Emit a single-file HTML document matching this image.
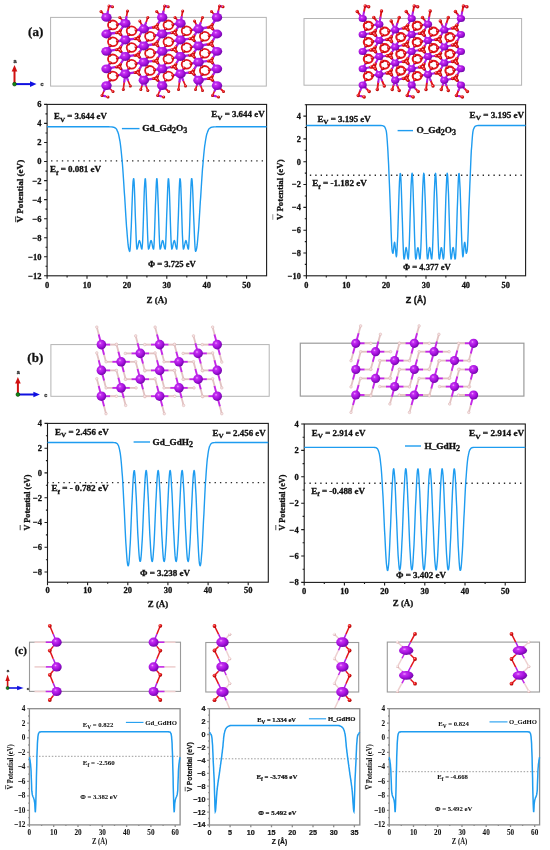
<!DOCTYPE html>
<html><head><meta charset="utf-8"><title>Potential profiles</title><style>html,body{margin:0;padding:0;background:#fff;}svg{display:block;}</style></head><body>
<svg width="550" height="850" viewBox="0 0 550 850">
<defs>
<radialGradient id="gGd" cx="0.38" cy="0.35" r="0.7"><stop offset="0" stop-color="#f4a4ff"/><stop offset="0.2" stop-color="#c430f2"/><stop offset="0.6" stop-color="#a410dc"/><stop offset="1" stop-color="#6806a0"/></radialGradient>
<radialGradient id="gO" cx="0.38" cy="0.35" r="0.7"><stop offset="0" stop-color="#ff9a9a"/><stop offset="0.4" stop-color="#e81818"/><stop offset="1" stop-color="#a00000"/></radialGradient>
<radialGradient id="gH" cx="0.38" cy="0.35" r="0.7"><stop offset="0" stop-color="#ffffff"/><stop offset="0.5" stop-color="#f3d6d6"/><stop offset="1" stop-color="#caa0a0"/></radialGradient>
</defs>
<rect width="550" height="850" fill="#fff"/>
<rect x="50.6" y="17.4" width="215.7" height="68.7" fill="none" stroke="#b4b4b4" stroke-width="1.0"/>
<rect x="304" y="18.5" width="217.6" height="66.7" fill="none" stroke="#b4b4b4" stroke-width="1.0"/>
<text x="35.7" y="35.6" font-family="'Liberation Serif', serif" font-size="13" font-weight="bold" text-anchor="middle" fill="#111" stroke="#111" stroke-width="0.3" >(a)</text>
<line x1="14.5" y1="84.1" x2="14.5" y2="70.1" stroke="#d01010" stroke-width="2"/>
<path d="M11.7 71.6 L14.5 65.1 L17.3 71.6 Z" fill="#d01010"/>
<line x1="14.5" y1="84.1" x2="31.5" y2="84.1" stroke="#1010e0" stroke-width="2"/>
<path d="M30 81.3 L36.5 84.1 L30 86.9 Z" fill="#1010e0"/>
<circle cx="14.5" cy="84.1" r="1.9" fill="#138a13" stroke="#0a3a0a" stroke-width="0.6"/>
<text x="15" y="62.6" font-family="'Liberation Sans', sans-serif" font-size="5.5" font-weight="bold" text-anchor="middle" fill="#333" stroke="#333" stroke-width="0.3" >a</text>
<text x="42" y="86.1" font-family="'Liberation Sans', sans-serif" font-size="5.5" font-weight="bold" text-anchor="middle" fill="#333" stroke="#333" stroke-width="0.3" >c</text>
<path d="M109.7 63.7L110.3 62.8 M109.3 54.7L109.8 55.3 M118.5 57.8L117.3 58 M146.8 57.8L147.3 57 M146.5 49.1L146.9 49.7 M155.6 52.3L154.5 52.5 M174 24.2L172.9 24.4 M165.2 29.5L165.7 28.7 M164.9 20.8L165.4 21.4 M155.6 35.3L154.5 35.5 M146.9 41.1L147.5 40.2 M146.5 32.2L147 32.8 M165 37.5L165.5 38.1 M174 40.9L172.9 41.1 M165.3 46.5L165.8 45.6 M164.9 72L165.4 72.6 M174 75.1L172.8 75.3 M165.3 80.8L165.8 80 M155.7 69.7L154.5 69.8 M146.9 75.2L147.5 74.3 M146.7 66L147.2 66.7 M128.1 43.4L128.5 43.9 M137.2 46.8L136 46.9 M128.3 52.1L128.9 51.3 M109.4 37.6L109.9 38.2 M118.5 41L117.3 41.1 M109.7 46.5L110.2 45.6 M137.2 63.3L136 63.5 M128.4 69L129 68.1 M128.1 60L128.6 60.6 M109.3 72L109.8 72.6 M118.5 75.1L117.3 75.3 M109.7 80.8L110.2 79.9 M201.2 32.2L201.7 32.8 M210.4 35.3L209.2 35.5 M201.6 41.1L202.2 40.2 M192.2 29.9L191 30.1 M183.5 35.5L184 34.7 M183.1 26.7L183.6 27.2 M183.4 52.1L183.9 51.3 M183.2 43.3L183.6 43.9 M192.2 46.8L191.1 46.9 M174 57.8L172.8 58 M165.3 63.7L165.9 62.8 M164.9 54.7L165.4 55.3 M128.4 35.4L128.9 34.6 M128 26.7L128.5 27.3 M137.2 30L136 30.1 M118.5 24.2L117.3 24.4 M109.6 29.5L110.2 28.7 M109.3 20.8L109.8 21.4 M210.4 52.3L209.2 52.5 M201.5 57.8L202.1 57 M201.2 49.1L201.7 49.7 M201.4 66L201.9 66.7 M210.4 69.7L209.2 69.8 M201.7 75.2L202.2 74.3 M183.2 60L183.7 60.6 M192.2 63.3L191 63.4 M183.5 69L184.1 68.1 M139.8 51.7L139.1 52.8 M140 57.7L139.3 56.9 M133.6 55.4L135.1 55.2 M139.1 52.8L139.3 56.9 M139.3 56.9L135.1 55.2 M135.1 55.2L139.1 52.8 M212.9 40.4L212.2 41.6 M213.2 46.6L212.5 45.8 M206.8 44.5L208.3 44.2 M212.2 41.6L212.5 45.8 M212.5 45.8L208.3 44.2 M208.3 44.2L212.2 41.6 M158.4 29.6L157.8 28.8 M152.1 27.5L153.5 27.3 M158.2 23.5L157.5 24.6 M157.8 28.8L153.5 27.3 M153.5 27.3L157.5 24.6 M157.5 24.6L157.8 28.8 M152.1 44.5L153.5 44.2 M158.2 40.4L157.4 41.6 M158.4 46.6L157.7 45.8 M153.5 44.2L157.4 41.6 M157.4 41.6L157.7 45.8 M157.7 45.8L153.5 44.2 M176.7 35.3L176 34.5 M170.4 33L171.8 32.8 M176.5 29.3L175.9 30.3 M176 34.5L171.8 32.8 M171.8 32.8L175.9 30.3 M175.9 30.3L176 34.5 M158.3 63.7L157.6 62.8 M152 61.2L153.5 61.1 M158.2 57.5L157.5 58.6 M157.6 62.8L153.5 61.1 M153.5 61.1L157.5 58.6 M157.5 58.6L157.6 62.8 M152 78.9L153.5 78.6 M158.2 74.9L157.5 76 M158.4 81L157.7 80.2 M153.5 78.6L157.5 76 M157.5 76L157.7 80.2 M157.7 80.2L153.5 78.6 M139.9 41.2L139.3 40.4 M133.6 38.9L135.1 38.7 M139.8 35.1L139.1 36.2 M139.3 40.4L135.1 38.7 M135.1 38.7L139.1 36.2 M139.1 36.2L139.3 40.4 M115 49.9L116.5 49.7 M121.2 46L120.5 47.1 M121.4 52L120.7 51.2 M116.5 49.7L120.5 47.1 M120.5 47.1L120.7 51.2 M120.7 51.2L116.5 49.7 M139.9 75.1L139.2 74.2 M133.6 72.7L135.1 72.5 M139.7 68.7L139 69.9 M139.2 74.2L135.1 72.5 M135.1 72.5L139 69.9 M139 69.9L139.2 74.2 M121.4 69.2L120.7 68.4 M114.9 67.2L116.5 66.9 M121.2 63L120.4 64.2 M120.7 68.4L116.5 66.9 M116.5 66.9L120.4 64.2 M120.4 64.2L120.7 68.4 M188.5 38.9L189.9 38.7 M194.6 35.1L193.9 36.1 M194.8 41.2L194.1 40.4 M189.9 38.7L193.9 36.1 M193.9 36.1L194.1 40.4 M194.1 40.4L189.9 38.7 M213.2 29.6L212.5 28.8 M206.8 27.5L208.3 27.3 M213 23.5L212.3 24.6 M212.5 28.8L208.3 27.3 M208.3 27.3L212.3 24.6 M212.3 24.6L212.5 28.8 M176.5 46L175.8 47.1 M176.7 52L176.1 51.3 M170.4 49.9L171.8 49.7 M175.8 47.1L176.1 51.3 M176.1 51.3L171.8 49.7 M171.8 49.7L175.8 47.1 M170.4 67.2L171.8 66.9 M176.5 63L175.8 64.2 M176.7 69.2L176 68.4 M171.8 66.9L175.8 64.2 M175.8 64.2L176 68.4 M176 68.4L171.8 66.9 M206.8 78.9L208.3 78.6 M213 74.9L212.3 76 M213.2 81L212.5 80.2 M208.3 78.6L212.3 76 M212.3 76L212.5 80.2 M212.5 80.2L208.3 78.6 M121.2 29.3L120.5 30.3 M121.4 35.3L120.7 34.5 M115 33L116.5 32.8 M120.5 30.3L120.7 34.5 M120.7 34.5L116.5 32.8 M116.5 32.8L120.5 30.3 M213.1 63.7L212.4 62.8 M206.8 61.2L208.3 61.1 M213 57.5L212.3 58.6 M212.4 62.8L208.3 61.1 M208.3 61.1L212.3 58.6 M212.3 58.6L212.4 62.8 M194.8 57.7L194.2 56.9 M188.5 55.4L189.9 55.2 M194.6 51.7L194 52.7 M194.2 56.9L189.9 55.2 M189.9 55.2L194 52.7 M194 52.7L194.2 56.9 M194.5 68.7L193.8 69.9 M194.7 75.1L194 74.2 M188.5 72.7L189.9 72.5 M193.8 69.9L194 74.2 M194 74.2L189.9 72.5 M189.9 72.5L193.8 69.9 M103.8 14.4L101 11.5 M107.8 11.7L109 6 M110.8 6.4L112.5 6.8 M126.4 17.2L127.5 11 M122.5 20.4L119.8 17.5 M145.8 23.2L147.8 17.5 M141.8 25L139.8 21 M159.4 14.4L156.7 11.5 M163.4 11.7L164.7 6 M166.4 6.4L168.2 6.8 M181.6 17.2L182.7 11 M177.8 20.4L175 17.5 M200.5 23.2L202.5 17.5 M196.5 25L194.5 21 M214.2 14.4L211.5 11.5 M218.2 11.7L219.5 6 M221.2 6.4L223 6.8 M109.8 88.5L113 91.5 M104.2 90.5L102 95.5 M105 96.2L108 97 M124.3 81.7L123.3 89.5 M127.8 80L130.3 86 M142.3 84.8L140.8 89.5 M145.8 85.3L147.8 90.5 M165.4 88.5L168.7 91.5 M159.9 90.5L157.7 95.5 M160.7 96.2L163.7 97 M179.5 81.7L178.5 89.5 M183 80L185.5 86 M197 84.8L195.5 89.5 M200.5 85.3L202.5 90.5 M220.2 88.5L223.5 91.5 M214.8 90.5L212.5 95.5 M215.5 96.2L218.5 97" stroke="#e3141c" stroke-width="1.7" fill="none" stroke-linecap="round"/>
<ellipse cx="112.8" cy="58.9" rx="4.8" ry="4.4" fill="none" stroke="#e3141c" stroke-width="1.8"/>
<ellipse cx="149.9" cy="53.2" rx="4.8" ry="4.4" fill="none" stroke="#e3141c" stroke-width="1.8"/>
<ellipse cx="168.3" cy="24.9" rx="4.8" ry="4.4" fill="none" stroke="#e3141c" stroke-width="1.8"/>
<ellipse cx="149.9" cy="36.3" rx="4.8" ry="4.4" fill="none" stroke="#e3141c" stroke-width="1.8"/>
<ellipse cx="168.3" cy="41.8" rx="4.8" ry="4.4" fill="none" stroke="#e3141c" stroke-width="1.8"/>
<ellipse cx="168.3" cy="76.1" rx="4.8" ry="4.4" fill="none" stroke="#e3141c" stroke-width="1.8"/>
<ellipse cx="149.9" cy="70.4" rx="4.8" ry="4.4" fill="none" stroke="#e3141c" stroke-width="1.8"/>
<ellipse cx="131.5" cy="47.5" rx="4.8" ry="4.4" fill="none" stroke="#e3141c" stroke-width="1.8"/>
<ellipse cx="112.8" cy="41.8" rx="4.8" ry="4.4" fill="none" stroke="#e3141c" stroke-width="1.8"/>
<ellipse cx="131.5" cy="64.2" rx="4.8" ry="4.4" fill="none" stroke="#e3141c" stroke-width="1.8"/>
<ellipse cx="112.8" cy="76.1" rx="4.8" ry="4.4" fill="none" stroke="#e3141c" stroke-width="1.8"/>
<ellipse cx="204.7" cy="36.3" rx="4.8" ry="4.4" fill="none" stroke="#e3141c" stroke-width="1.8"/>
<ellipse cx="186.5" cy="30.8" rx="4.8" ry="4.4" fill="none" stroke="#e3141c" stroke-width="1.8"/>
<ellipse cx="186.5" cy="47.5" rx="4.8" ry="4.4" fill="none" stroke="#e3141c" stroke-width="1.8"/>
<ellipse cx="168.3" cy="58.9" rx="4.8" ry="4.4" fill="none" stroke="#e3141c" stroke-width="1.8"/>
<ellipse cx="131.5" cy="30.8" rx="4.8" ry="4.4" fill="none" stroke="#e3141c" stroke-width="1.8"/>
<ellipse cx="112.8" cy="24.9" rx="4.8" ry="4.4" fill="none" stroke="#e3141c" stroke-width="1.8"/>
<ellipse cx="204.7" cy="53.2" rx="4.8" ry="4.4" fill="none" stroke="#e3141c" stroke-width="1.8"/>
<ellipse cx="204.7" cy="70.4" rx="4.8" ry="4.4" fill="none" stroke="#e3141c" stroke-width="1.8"/>
<ellipse cx="186.5" cy="64.2" rx="4.8" ry="4.4" fill="none" stroke="#e3141c" stroke-width="1.8"/>
<path d="M106.5 68.8L109.7 63.7 M106.5 51.3L109.3 54.7 M125.3 56.5L118.5 57.8 M143.8 62.2L146.8 57.8 M143.8 46L146.5 49.1 M162.2 51.3L155.6 52.3 M180.5 23.4L174 24.2 M162.2 34L165.2 29.5 M162.2 17.4L164.9 20.8 M162.2 34L155.6 35.3 M143.8 46L146.9 41.1 M143.8 29L146.5 32.2 M162.2 34L165 37.5 M180.5 40L174 40.9 M162.2 51.3L165.3 46.5 M162.2 68.8L164.9 72 M180.5 73.9L174 75.1 M162.2 85.6L165.3 80.8 M162.2 68.8L155.7 69.7 M143.8 80.2L146.9 75.2 M143.8 62.2L146.7 66 M125.3 40L128.1 43.4 M143.8 46L137.2 46.8 M125.3 56.5L128.3 52.1 M106.5 34L109.4 37.6 M125.3 40L118.5 41 M106.5 51.3L109.7 46.5 M143.8 62.2L137.2 63.3 M125.3 73.9L128.4 69 M125.3 56.5L128.1 60 M106.5 68.8L109.3 72 M125.3 73.9L118.5 75.1 M106.5 85.6L109.7 80.8 M198.5 29L201.2 32.2 M217 34L210.4 35.3 M198.5 46L201.6 41.1 M198.5 29L192.2 29.9 M180.5 40L183.5 35.5 M180.5 23.4L183.1 26.7 M180.5 56.5L183.4 52.1 M180.5 40L183.2 43.3 M198.5 46L192.2 46.8 M180.5 56.5L174 57.8 M162.2 68.8L165.3 63.7 M162.2 51.3L164.9 54.7 M125.3 40L128.4 35.4 M125.3 23.4L128 26.7 M143.8 29L137.2 30 M125.3 23.4L118.5 24.2 M106.5 34L109.6 29.5 M106.5 17.4L109.3 20.8 M217 51.3L210.4 52.3 M198.5 62.2L201.5 57.8 M198.5 46L201.2 49.1 M198.5 62.2L201.4 66 M217 68.8L210.4 69.7 M198.5 80.2L201.7 75.2 M180.5 56.5L183.2 60 M198.5 62.2L192.2 63.3 M180.5 73.9L183.5 69 M143.8 46L139.8 51.7 M143.8 62.2L140 57.7 M125.3 56.5L133.6 55.4 M217 34L212.9 40.4 M217 51.3L213.2 46.6 M198.5 46L206.8 44.5 M162.2 34L158.4 29.6 M143.8 29L152.1 27.5 M162.2 17.4L158.2 23.5 M143.8 46L152.1 44.5 M162.2 34L158.2 40.4 M162.2 51.3L158.4 46.6 M180.5 40L176.7 35.3 M162.2 34L170.4 33 M180.5 23.4L176.5 29.3 M162.2 68.8L158.3 63.7 M143.8 62.2L152 61.2 M162.2 51.3L158.2 57.5 M143.8 80.2L152 78.9 M162.2 68.8L158.2 74.9 M162.2 85.6L158.4 81 M143.8 46L139.9 41.2 M125.3 40L133.6 38.9 M143.8 29L139.8 35.1 M106.5 51.3L115 49.9 M125.3 40L121.2 46 M125.3 56.5L121.4 52 M143.8 80.2L139.9 75.1 M125.3 73.9L133.6 72.7 M143.8 62.2L139.7 68.7 M125.3 73.9L121.4 69.2 M106.5 68.8L114.9 67.2 M125.3 56.5L121.2 63 M180.5 40L188.5 38.9 M198.5 29L194.6 35.1 M198.5 46L194.8 41.2 M217 34L213.2 29.6 M198.5 29L206.8 27.5 M217 17.4L213 23.5 M180.5 40L176.5 46 M180.5 56.5L176.7 52 M162.2 51.3L170.4 49.9 M162.2 68.8L170.4 67.2 M180.5 56.5L176.5 63 M180.5 73.9L176.7 69.2 M198.5 80.2L206.8 78.9 M217 68.8L213 74.9 M217 85.6L213.2 81 M125.3 23.4L121.2 29.3 M125.3 40L121.4 35.3 M106.5 34L115 33 M217 68.8L213.1 63.7 M198.5 62.2L206.8 61.2 M217 51.3L213 57.5 M198.5 62.2L194.8 57.7 M180.5 56.5L188.5 55.4 M198.5 46L194.6 51.7 M198.5 62.2L194.5 68.7 M198.5 80.2L194.7 75.1 M180.5 73.9L188.5 72.7 M106.5 17.4L103.8 14.4 M106.5 17.4L107.8 11.7 M109 6L110.8 6.4 M125.3 23.4L126.4 17.2 M125.3 23.4L122.5 20.4 M143.8 29L145.8 23.2 M143.8 29L141.8 25 M162.2 17.4L159.4 14.4 M162.2 17.4L163.4 11.7 M164.7 6L166.4 6.4 M180.5 23.4L181.6 17.2 M180.5 23.4L177.8 20.4 M198.5 29L200.5 23.2 M198.5 29L196.5 25 M217 17.4L214.2 14.4 M217 17.4L218.2 11.7 M219.5 6L221.2 6.4 M106.5 85.6L109.8 88.5 M106.5 85.6L104.2 90.5 M102 95.5L105 96.2 M125.3 73.9L124.3 81.7 M125.3 73.9L127.8 80 M143.8 80.2L142.3 84.8 M143.8 80.2L145.8 85.3 M162.2 85.6L165.4 88.5 M162.2 85.6L159.9 90.5 M157.7 95.5L160.7 96.2 M180.5 73.9L179.5 81.7 M180.5 73.9L183 80 M198.5 80.2L197 84.8 M198.5 80.2L200.5 85.3 M217 85.6L220.2 88.5 M217 85.6L214.8 90.5 M212.5 95.5L215.5 96.2" stroke="#b01ee6" stroke-width="2.3" fill="none" stroke-linecap="round"/>
<circle cx="110.3" cy="62.8" r="1.5" fill="url(#gO)"/>
<circle cx="109.8" cy="55.3" r="1.5" fill="url(#gO)"/>
<circle cx="117.3" cy="58" r="1.5" fill="url(#gO)"/>
<circle cx="147.3" cy="57" r="1.5" fill="url(#gO)"/>
<circle cx="146.9" cy="49.7" r="1.5" fill="url(#gO)"/>
<circle cx="154.5" cy="52.5" r="1.5" fill="url(#gO)"/>
<circle cx="172.9" cy="24.4" r="1.5" fill="url(#gO)"/>
<circle cx="165.7" cy="28.7" r="1.5" fill="url(#gO)"/>
<circle cx="165.4" cy="21.4" r="1.5" fill="url(#gO)"/>
<circle cx="154.5" cy="35.5" r="1.5" fill="url(#gO)"/>
<circle cx="147.5" cy="40.2" r="1.5" fill="url(#gO)"/>
<circle cx="147" cy="32.8" r="1.5" fill="url(#gO)"/>
<circle cx="165.5" cy="38.1" r="1.5" fill="url(#gO)"/>
<circle cx="172.9" cy="41.1" r="1.5" fill="url(#gO)"/>
<circle cx="165.8" cy="45.6" r="1.5" fill="url(#gO)"/>
<circle cx="165.4" cy="72.6" r="1.5" fill="url(#gO)"/>
<circle cx="172.8" cy="75.3" r="1.5" fill="url(#gO)"/>
<circle cx="165.8" cy="80" r="1.5" fill="url(#gO)"/>
<circle cx="154.5" cy="69.8" r="1.5" fill="url(#gO)"/>
<circle cx="147.5" cy="74.3" r="1.5" fill="url(#gO)"/>
<circle cx="147.2" cy="66.7" r="1.5" fill="url(#gO)"/>
<circle cx="128.5" cy="43.9" r="1.5" fill="url(#gO)"/>
<circle cx="136" cy="46.9" r="1.5" fill="url(#gO)"/>
<circle cx="128.9" cy="51.3" r="1.5" fill="url(#gO)"/>
<circle cx="109.9" cy="38.2" r="1.5" fill="url(#gO)"/>
<circle cx="117.3" cy="41.1" r="1.5" fill="url(#gO)"/>
<circle cx="110.2" cy="45.6" r="1.5" fill="url(#gO)"/>
<circle cx="136" cy="63.5" r="1.5" fill="url(#gO)"/>
<circle cx="129" cy="68.1" r="1.5" fill="url(#gO)"/>
<circle cx="128.6" cy="60.6" r="1.5" fill="url(#gO)"/>
<circle cx="109.8" cy="72.6" r="1.5" fill="url(#gO)"/>
<circle cx="117.3" cy="75.3" r="1.5" fill="url(#gO)"/>
<circle cx="110.2" cy="79.9" r="1.5" fill="url(#gO)"/>
<circle cx="201.7" cy="32.8" r="1.5" fill="url(#gO)"/>
<circle cx="209.2" cy="35.5" r="1.5" fill="url(#gO)"/>
<circle cx="202.2" cy="40.2" r="1.5" fill="url(#gO)"/>
<circle cx="191" cy="30.1" r="1.5" fill="url(#gO)"/>
<circle cx="184" cy="34.7" r="1.5" fill="url(#gO)"/>
<circle cx="183.6" cy="27.2" r="1.5" fill="url(#gO)"/>
<circle cx="183.9" cy="51.3" r="1.5" fill="url(#gO)"/>
<circle cx="183.6" cy="43.9" r="1.5" fill="url(#gO)"/>
<circle cx="191.1" cy="46.9" r="1.5" fill="url(#gO)"/>
<circle cx="172.8" cy="58" r="1.5" fill="url(#gO)"/>
<circle cx="165.9" cy="62.8" r="1.5" fill="url(#gO)"/>
<circle cx="165.4" cy="55.3" r="1.5" fill="url(#gO)"/>
<circle cx="128.9" cy="34.6" r="1.5" fill="url(#gO)"/>
<circle cx="128.5" cy="27.3" r="1.5" fill="url(#gO)"/>
<circle cx="136" cy="30.1" r="1.5" fill="url(#gO)"/>
<circle cx="117.3" cy="24.4" r="1.5" fill="url(#gO)"/>
<circle cx="110.2" cy="28.7" r="1.5" fill="url(#gO)"/>
<circle cx="109.8" cy="21.4" r="1.5" fill="url(#gO)"/>
<circle cx="209.2" cy="52.5" r="1.5" fill="url(#gO)"/>
<circle cx="202.1" cy="57" r="1.5" fill="url(#gO)"/>
<circle cx="201.7" cy="49.7" r="1.5" fill="url(#gO)"/>
<circle cx="201.9" cy="66.7" r="1.5" fill="url(#gO)"/>
<circle cx="209.2" cy="69.8" r="1.5" fill="url(#gO)"/>
<circle cx="202.2" cy="74.3" r="1.5" fill="url(#gO)"/>
<circle cx="183.7" cy="60.6" r="1.5" fill="url(#gO)"/>
<circle cx="191" cy="63.4" r="1.5" fill="url(#gO)"/>
<circle cx="184.1" cy="68.1" r="1.5" fill="url(#gO)"/>
<circle cx="139.1" cy="52.8" r="1.5" fill="url(#gO)"/>
<circle cx="139.3" cy="56.9" r="1.5" fill="url(#gO)"/>
<circle cx="135.1" cy="55.2" r="1.5" fill="url(#gO)"/>
<circle cx="212.2" cy="41.6" r="1.5" fill="url(#gO)"/>
<circle cx="212.5" cy="45.8" r="1.5" fill="url(#gO)"/>
<circle cx="208.3" cy="44.2" r="1.5" fill="url(#gO)"/>
<circle cx="157.8" cy="28.8" r="1.5" fill="url(#gO)"/>
<circle cx="153.5" cy="27.3" r="1.5" fill="url(#gO)"/>
<circle cx="157.5" cy="24.6" r="1.5" fill="url(#gO)"/>
<circle cx="153.5" cy="44.2" r="1.5" fill="url(#gO)"/>
<circle cx="157.4" cy="41.6" r="1.5" fill="url(#gO)"/>
<circle cx="157.7" cy="45.8" r="1.5" fill="url(#gO)"/>
<circle cx="176" cy="34.5" r="1.5" fill="url(#gO)"/>
<circle cx="171.8" cy="32.8" r="1.5" fill="url(#gO)"/>
<circle cx="175.9" cy="30.3" r="1.5" fill="url(#gO)"/>
<circle cx="157.6" cy="62.8" r="1.5" fill="url(#gO)"/>
<circle cx="153.5" cy="61.1" r="1.5" fill="url(#gO)"/>
<circle cx="157.5" cy="58.6" r="1.5" fill="url(#gO)"/>
<circle cx="153.5" cy="78.6" r="1.5" fill="url(#gO)"/>
<circle cx="157.5" cy="76" r="1.5" fill="url(#gO)"/>
<circle cx="157.7" cy="80.2" r="1.5" fill="url(#gO)"/>
<circle cx="139.3" cy="40.4" r="1.5" fill="url(#gO)"/>
<circle cx="135.1" cy="38.7" r="1.5" fill="url(#gO)"/>
<circle cx="139.1" cy="36.2" r="1.5" fill="url(#gO)"/>
<circle cx="116.5" cy="49.7" r="1.5" fill="url(#gO)"/>
<circle cx="120.5" cy="47.1" r="1.5" fill="url(#gO)"/>
<circle cx="120.7" cy="51.2" r="1.5" fill="url(#gO)"/>
<circle cx="139.2" cy="74.2" r="1.5" fill="url(#gO)"/>
<circle cx="135.1" cy="72.5" r="1.5" fill="url(#gO)"/>
<circle cx="139" cy="69.9" r="1.5" fill="url(#gO)"/>
<circle cx="120.7" cy="68.4" r="1.5" fill="url(#gO)"/>
<circle cx="116.5" cy="66.9" r="1.5" fill="url(#gO)"/>
<circle cx="120.4" cy="64.2" r="1.5" fill="url(#gO)"/>
<circle cx="189.9" cy="38.7" r="1.5" fill="url(#gO)"/>
<circle cx="193.9" cy="36.1" r="1.5" fill="url(#gO)"/>
<circle cx="194.1" cy="40.4" r="1.5" fill="url(#gO)"/>
<circle cx="212.5" cy="28.8" r="1.5" fill="url(#gO)"/>
<circle cx="208.3" cy="27.3" r="1.5" fill="url(#gO)"/>
<circle cx="212.3" cy="24.6" r="1.5" fill="url(#gO)"/>
<circle cx="175.8" cy="47.1" r="1.5" fill="url(#gO)"/>
<circle cx="176.1" cy="51.3" r="1.5" fill="url(#gO)"/>
<circle cx="171.8" cy="49.7" r="1.5" fill="url(#gO)"/>
<circle cx="171.8" cy="66.9" r="1.5" fill="url(#gO)"/>
<circle cx="175.8" cy="64.2" r="1.5" fill="url(#gO)"/>
<circle cx="176" cy="68.4" r="1.5" fill="url(#gO)"/>
<circle cx="208.3" cy="78.6" r="1.5" fill="url(#gO)"/>
<circle cx="212.3" cy="76" r="1.5" fill="url(#gO)"/>
<circle cx="212.5" cy="80.2" r="1.5" fill="url(#gO)"/>
<circle cx="120.5" cy="30.3" r="1.5" fill="url(#gO)"/>
<circle cx="120.7" cy="34.5" r="1.5" fill="url(#gO)"/>
<circle cx="116.5" cy="32.8" r="1.5" fill="url(#gO)"/>
<circle cx="212.4" cy="62.8" r="1.5" fill="url(#gO)"/>
<circle cx="208.3" cy="61.1" r="1.5" fill="url(#gO)"/>
<circle cx="212.3" cy="58.6" r="1.5" fill="url(#gO)"/>
<circle cx="194.2" cy="56.9" r="1.5" fill="url(#gO)"/>
<circle cx="189.9" cy="55.2" r="1.5" fill="url(#gO)"/>
<circle cx="194" cy="52.7" r="1.5" fill="url(#gO)"/>
<circle cx="193.8" cy="69.9" r="1.5" fill="url(#gO)"/>
<circle cx="194" cy="74.2" r="1.5" fill="url(#gO)"/>
<circle cx="189.9" cy="72.5" r="1.5" fill="url(#gO)"/>
<circle cx="101" cy="11.5" r="1.5" fill="url(#gO)"/>
<circle cx="109" cy="6" r="1.5" fill="url(#gO)"/>
<circle cx="112.5" cy="6.8" r="1.5" fill="url(#gO)"/>
<circle cx="127.5" cy="11" r="1.5" fill="url(#gO)"/>
<circle cx="119.8" cy="17.5" r="1.5" fill="url(#gO)"/>
<circle cx="147.8" cy="17.5" r="1.5" fill="url(#gO)"/>
<circle cx="139.8" cy="21" r="1.5" fill="url(#gO)"/>
<circle cx="156.7" cy="11.5" r="1.5" fill="url(#gO)"/>
<circle cx="164.7" cy="6" r="1.5" fill="url(#gO)"/>
<circle cx="168.2" cy="6.8" r="1.5" fill="url(#gO)"/>
<circle cx="182.7" cy="11" r="1.5" fill="url(#gO)"/>
<circle cx="175" cy="17.5" r="1.5" fill="url(#gO)"/>
<circle cx="202.5" cy="17.5" r="1.5" fill="url(#gO)"/>
<circle cx="194.5" cy="21" r="1.5" fill="url(#gO)"/>
<circle cx="211.5" cy="11.5" r="1.5" fill="url(#gO)"/>
<circle cx="219.5" cy="6" r="1.5" fill="url(#gO)"/>
<circle cx="223" cy="6.8" r="1.5" fill="url(#gO)"/>
<circle cx="113" cy="91.5" r="1.5" fill="url(#gO)"/>
<circle cx="102" cy="95.5" r="1.5" fill="url(#gO)"/>
<circle cx="108" cy="97" r="1.5" fill="url(#gO)"/>
<circle cx="123.3" cy="89.5" r="1.5" fill="url(#gO)"/>
<circle cx="130.3" cy="86" r="1.5" fill="url(#gO)"/>
<circle cx="140.8" cy="89.5" r="1.5" fill="url(#gO)"/>
<circle cx="147.8" cy="90.5" r="1.5" fill="url(#gO)"/>
<circle cx="168.7" cy="91.5" r="1.5" fill="url(#gO)"/>
<circle cx="157.7" cy="95.5" r="1.5" fill="url(#gO)"/>
<circle cx="163.7" cy="97" r="1.5" fill="url(#gO)"/>
<circle cx="178.5" cy="89.5" r="1.5" fill="url(#gO)"/>
<circle cx="185.5" cy="86" r="1.5" fill="url(#gO)"/>
<circle cx="195.5" cy="89.5" r="1.5" fill="url(#gO)"/>
<circle cx="202.5" cy="90.5" r="1.5" fill="url(#gO)"/>
<circle cx="223.5" cy="91.5" r="1.5" fill="url(#gO)"/>
<circle cx="212.5" cy="95.5" r="1.5" fill="url(#gO)"/>
<circle cx="218.5" cy="97" r="1.5" fill="url(#gO)"/>
<ellipse cx="106.5" cy="17.4" rx="5.2" ry="4.4" fill="url(#gGd)"/>
<ellipse cx="106.5" cy="34" rx="5.2" ry="4.4" fill="url(#gGd)"/>
<ellipse cx="106.5" cy="51.3" rx="5.2" ry="4.4" fill="url(#gGd)"/>
<ellipse cx="106.5" cy="68.8" rx="5.2" ry="4.4" fill="url(#gGd)"/>
<ellipse cx="106.5" cy="85.6" rx="5.2" ry="4.4" fill="url(#gGd)"/>
<ellipse cx="125.3" cy="23.4" rx="5.2" ry="4.4" fill="url(#gGd)"/>
<ellipse cx="125.3" cy="40" rx="5.2" ry="4.4" fill="url(#gGd)"/>
<ellipse cx="125.3" cy="56.5" rx="5.2" ry="4.4" fill="url(#gGd)"/>
<ellipse cx="125.3" cy="73.9" rx="5.2" ry="4.4" fill="url(#gGd)"/>
<ellipse cx="143.8" cy="29" rx="5.2" ry="4.4" fill="url(#gGd)"/>
<ellipse cx="143.8" cy="46" rx="5.2" ry="4.4" fill="url(#gGd)"/>
<ellipse cx="143.8" cy="62.2" rx="5.2" ry="4.4" fill="url(#gGd)"/>
<ellipse cx="143.8" cy="80.2" rx="5.2" ry="4.4" fill="url(#gGd)"/>
<ellipse cx="162.2" cy="17.4" rx="5.2" ry="4.4" fill="url(#gGd)"/>
<ellipse cx="162.2" cy="34" rx="5.2" ry="4.4" fill="url(#gGd)"/>
<ellipse cx="162.2" cy="51.3" rx="5.2" ry="4.4" fill="url(#gGd)"/>
<ellipse cx="162.2" cy="68.8" rx="5.2" ry="4.4" fill="url(#gGd)"/>
<ellipse cx="162.2" cy="85.6" rx="5.2" ry="4.4" fill="url(#gGd)"/>
<ellipse cx="180.5" cy="23.4" rx="5.2" ry="4.4" fill="url(#gGd)"/>
<ellipse cx="180.5" cy="40" rx="5.2" ry="4.4" fill="url(#gGd)"/>
<ellipse cx="180.5" cy="56.5" rx="5.2" ry="4.4" fill="url(#gGd)"/>
<ellipse cx="180.5" cy="73.9" rx="5.2" ry="4.4" fill="url(#gGd)"/>
<ellipse cx="198.5" cy="29" rx="5.2" ry="4.4" fill="url(#gGd)"/>
<ellipse cx="198.5" cy="46" rx="5.2" ry="4.4" fill="url(#gGd)"/>
<ellipse cx="198.5" cy="62.2" rx="5.2" ry="4.4" fill="url(#gGd)"/>
<ellipse cx="198.5" cy="80.2" rx="5.2" ry="4.4" fill="url(#gGd)"/>
<ellipse cx="217" cy="17.4" rx="5.2" ry="4.4" fill="url(#gGd)"/>
<ellipse cx="217" cy="34" rx="5.2" ry="4.4" fill="url(#gGd)"/>
<ellipse cx="217" cy="51.3" rx="5.2" ry="4.4" fill="url(#gGd)"/>
<ellipse cx="217" cy="68.8" rx="5.2" ry="4.4" fill="url(#gGd)"/>
<ellipse cx="217" cy="85.6" rx="5.2" ry="4.4" fill="url(#gGd)"/>
<path d="M365.6 63.5L366.2 62.6 M365.3 55L365.7 55.6 M373.4 57.8L372.3 58.1 M398 58.3L398.5 57.5 M397.6 50.1L398.1 50.6 M405.8 52.8L404.8 53 M414.2 72.1L414.6 72.7 M422.3 75.3L421.3 75.4 M414.5 80.4L415 79.6 M405.9 69.7L404.8 69.9 M398.1 75.2L398.6 74.3 M397.8 66.6L398.2 67.2 M373.4 25L372.4 25.1 M365.5 30L366 29.2 M365.2 21.7L365.7 22.3 M381.8 44L382.2 44.6 M389.7 47.6L388.8 47.7 M381.9 52.4L382.4 51.6 M382 36L382.5 35.1 M381.7 27.5L382.1 28.1 M389.7 30.7L388.8 30.9 M365.3 38.1L365.8 38.7 M373.4 41.4L372.4 41.5 M365.6 46.6L366.1 45.7 M389.7 63.9L388.7 64 M382.1 69.3L382.6 68.4 M381.8 60.5L382.3 61.2 M365.3 72.1L365.7 72.7 M373.4 75.3L372.4 75.4 M365.5 80.4L366 79.6 M446.8 33.2L447.3 33.8 M455 35.9L453.9 36.1 M447.3 41.7L447.8 40.8 M438.6 30.8L437.6 30.9 M430.8 35.9L431.3 35.1 M430.5 27.6L430.9 28.2 M430.7 52.4L431.2 51.6 M430.5 44L431 44.7 M438.6 47.6L437.6 47.7 M422.3 57.8L421.2 58.1 M414.6 63.5L415.1 62.6 M414.2 54.9L414.7 55.5 M414.3 38.1L414.7 38.7 M422.3 41.4L421.3 41.5 M414.5 46.6L415 45.8 M422.3 25L421.3 25.1 M414.4 30L414.9 29.2 M414.2 21.7L414.6 22.3 M405.8 35.9L404.8 36.1 M398.2 41.8L398.7 40.8 M397.7 33.2L398.2 33.8 M455 52.8L453.9 53 M447.2 58.3L447.7 57.5 M446.7 50.1L447.2 50.6 M446.9 66.6L447.4 67.2 M455 69.7L454 69.9 M447.2 75.2L447.7 74.3 M430.6 60.5L431.1 61.2 M438.6 63.9L437.6 64 M430.9 69.2L431.4 68.3 M392 52.3L391.4 53.2 M392.1 58.6L391.5 57.8 M385.9 56L387.1 55.8 M391.4 53.2L391.5 57.8 M391.5 57.8L387.1 55.8 M387.1 55.8L391.4 53.2 M457.6 40.3L456.7 41.9 M457.7 47.3L457.1 46.5 M450.9 45.5L452.7 45 M456.7 41.9L457.1 46.5 M457.1 46.5L452.7 45 M452.7 45L456.7 41.9 M408.4 64.1L407.8 63.3 M401.9 61.8L403.4 61.6 M408.3 57.4L407.6 58.6 M407.8 63.3L403.4 61.6 M403.4 61.6L407.6 58.6 M407.6 58.6L407.8 63.3 M401.9 78.8L403.5 78.5 M408.2 74.5L407.6 75.6 M408.5 80.9L407.9 80.2 M403.5 78.5L407.6 75.6 M407.6 75.6L407.9 80.2 M407.9 80.2L403.5 78.5 M376 36.1L375.4 35.3 M369.4 33.6L371 33.4 M375.9 29.7L375.3 30.7 M375.4 35.3L371 33.4 M371 33.4L375.3 30.7 M375.3 30.7L375.4 35.3 M392 42.3L391.5 41.5 M385.9 39.7L387.1 39.5 M391.9 35.7L391.3 36.7 M391.5 41.5L387.1 39.5 M387.1 39.5L391.3 36.7 M391.3 36.7L391.5 41.5 M369.4 50.3L371 50 M375.8 46.1L375.2 47.1 M376.1 52.5L375.5 51.7 M371 50L375.2 47.1 M375.2 47.1L375.5 51.7 M375.5 51.7L371 50 M392 75.6L391.5 74.8 M386 73.2L387.1 73 M391.9 68.9L391.3 70.1 M391.5 74.8L387.1 73 M387.1 73L391.3 70.1 M391.3 70.1L391.5 74.8 M376 69.7L375.4 68.9 M369.4 67.4L371 67.1 M376 62.5L375.1 64.1 M375.4 68.9L371 67.1 M371 67.1L375.1 64.1 M375.1 64.1L375.4 68.9 M434.7 39.7L436.1 39.5 M440.9 35.7L440.3 36.8 M441 42.3L440.4 41.5 M436.1 39.5L440.3 36.8 M440.3 36.8L440.4 41.5 M440.4 41.5L436.1 39.5 M457.7 30.4L457.1 29.7 M451 28.5L452.6 28.1 M457.4 24.2L456.8 25.2 M457.1 29.7L452.6 28.1 M452.6 28.1L456.8 25.2 M456.8 25.2L457.1 29.7 M424.6 46.1L424 47.1 M424.8 52.5L424.3 51.8 M418.4 50.3L419.8 50 M424 47.1L424.3 51.8 M424.3 51.8L419.8 50 M419.8 50L424 47.1 M418.4 67.4L419.8 67.1 M424.7 62.6L423.9 64.1 M424.7 69.7L424.2 68.9 M419.8 67.1L423.9 64.1 M423.9 64.1L424.2 68.9 M424.2 68.9L419.8 67.1 M408.5 30.4L408 29.7 M401.9 28.5L403.5 28.1 M408.2 24.2L407.6 25.2 M408 29.7L403.5 28.1 M403.5 28.1L407.6 25.2 M407.6 25.2L408 29.7 M424.8 36.1L424.2 35.3 M418.4 33.6L419.8 33.4 M424.6 29.7L424 30.6 M424.2 35.3L419.8 33.4 M419.8 33.4L424 30.6 M424 30.6L424.2 35.3 M401.8 45.4L403.5 45 M408.4 40.3L407.6 41.9 M408.5 47.3L407.9 46.6 M403.5 45L407.6 41.9 M407.6 41.9L407.9 46.6 M407.9 46.6L403.5 45 M451 78.9L452.6 78.5 M457.4 74.5L456.8 75.6 M457.7 80.9L457.1 80.2 M452.6 78.5L456.8 75.6 M456.8 75.6L457.1 80.2 M457.1 80.2L452.6 78.5 M457.6 64.1L457 63.3 M451 61.8L452.6 61.5 M457.5 57.4L456.8 58.6 M457 63.3L452.6 61.5 M452.6 61.5L456.8 58.6 M456.8 58.6L457 63.3 M441.1 58.6L440.5 57.8 M434.8 56L436.1 55.8 M441 52.3L440.4 53.2 M440.5 57.8L436.1 55.8 M436.1 55.8L440.4 53.2 M440.4 53.2L440.5 57.8 M440.9 68.9L440.3 70.1 M441.1 75.6L440.5 74.8 M434.7 73.2L436.1 73 M440.3 70.1L440.5 74.8 M440.5 74.8L436.1 73 M436.1 73L440.3 70.1 M359.9 14.9L357.2 11.5 M363.9 12.2L365.2 6 M366.9 6.4L368.7 6.8 M380.4 17.6L381.5 11 M376.6 20.9L373.8 17.5 M397.2 23.7L399.2 17.5 M393.2 25.4L391.2 21 M408.9 14.9L406.2 11.5 M412.9 12.2L414.2 6 M415.9 6.4L417.7 6.8 M429.1 17.6L430.2 11 M425.2 20.9L422.5 17.5 M446.3 23.7L448.3 17.5 M442.3 25.4L440.3 21 M458.1 14.9L455.4 11.5 M462.1 12.2L463.4 6 M465.1 6.4L466.9 6.8 M365.9 88.2L369.2 91.5 M360.4 90.2L358.2 95.5 M361.2 96.2L364.2 97 M378.3 82L377.3 89.5 M381.8 80.2L384.3 86 M393.7 84.8L392.2 89.5 M397.2 85.3L399.2 90.5 M414.9 88.2L418.2 91.5 M409.4 90.2L407.2 95.5 M410.2 96.2L413.2 97 M427 82L426 89.5 M430.5 80.2L433 86 M442.8 84.8L441.3 89.5 M446.3 85.3L448.3 90.5 M464.1 88.2L467.4 91.5 M458.6 90.2L456.4 95.5 M459.4 96.2L462.4 97" stroke="#e3141c" stroke-width="1.9" fill="none" stroke-linecap="round"/>
<ellipse cx="368.2" cy="58.9" rx="4.4" ry="4" fill="none" stroke="#e3141c" stroke-width="2.1"/>
<ellipse cx="400.7" cy="53.9" rx="4.4" ry="4" fill="none" stroke="#e3141c" stroke-width="2.1"/>
<ellipse cx="417.1" cy="76" rx="4.4" ry="4" fill="none" stroke="#e3141c" stroke-width="2.1"/>
<ellipse cx="400.7" cy="70.6" rx="4.4" ry="4" fill="none" stroke="#e3141c" stroke-width="2.1"/>
<ellipse cx="368.2" cy="25.7" rx="4.4" ry="4" fill="none" stroke="#e3141c" stroke-width="2.1"/>
<ellipse cx="384.6" cy="48.1" rx="4.4" ry="4" fill="none" stroke="#e3141c" stroke-width="2.1"/>
<ellipse cx="384.6" cy="31.5" rx="4.4" ry="4" fill="none" stroke="#e3141c" stroke-width="2.1"/>
<ellipse cx="368.2" cy="42.1" rx="4.4" ry="4" fill="none" stroke="#e3141c" stroke-width="2.1"/>
<ellipse cx="384.6" cy="64.7" rx="4.4" ry="4" fill="none" stroke="#e3141c" stroke-width="2.1"/>
<ellipse cx="368.2" cy="76" rx="4.4" ry="4" fill="none" stroke="#e3141c" stroke-width="2.1"/>
<ellipse cx="449.8" cy="37.1" rx="4.4" ry="4" fill="none" stroke="#e3141c" stroke-width="2.1"/>
<ellipse cx="433.4" cy="31.5" rx="4.4" ry="4" fill="none" stroke="#e3141c" stroke-width="2.1"/>
<ellipse cx="433.4" cy="48.1" rx="4.4" ry="4" fill="none" stroke="#e3141c" stroke-width="2.1"/>
<ellipse cx="417.1" cy="58.9" rx="4.4" ry="4" fill="none" stroke="#e3141c" stroke-width="2.1"/>
<ellipse cx="417.1" cy="42.1" rx="4.4" ry="4" fill="none" stroke="#e3141c" stroke-width="2.1"/>
<ellipse cx="417.1" cy="25.7" rx="4.4" ry="4" fill="none" stroke="#e3141c" stroke-width="2.1"/>
<ellipse cx="400.7" cy="37.1" rx="4.4" ry="4" fill="none" stroke="#e3141c" stroke-width="2.1"/>
<ellipse cx="449.8" cy="53.9" rx="4.4" ry="4" fill="none" stroke="#e3141c" stroke-width="2.1"/>
<ellipse cx="449.8" cy="70.6" rx="4.4" ry="4" fill="none" stroke="#e3141c" stroke-width="2.1"/>
<ellipse cx="433.4" cy="64.7" rx="4.4" ry="4" fill="none" stroke="#e3141c" stroke-width="2.1"/>
<path d="M362.7 68.7L365.6 63.5 M362.7 51.5L365.3 55 M379.3 56.6L373.4 57.8 M395.2 63L398 58.3 M395.2 47.1L397.6 50.1 M411.7 51.5L405.8 52.8 M411.7 68.7L414.2 72.1 M428 74.4L422.3 75.3 M411.7 85L414.5 80.4 M411.7 68.7L405.9 69.7 M395.2 80.2L398.1 75.2 M395.2 63L397.8 66.6 M379.3 24.2L373.4 25 M362.7 34.4L365.5 30 M362.7 18.4L365.2 21.7 M379.3 40.5L381.8 44 M395.2 47.1L389.7 47.6 M379.3 56.6L381.9 52.4 M379.3 40.5L382 36 M379.3 24.2L381.7 27.5 M395.2 29.9L389.7 30.7 M362.7 34.4L365.3 38.1 M379.3 40.5L373.4 41.4 M362.7 51.5L365.6 46.6 M395.2 63L389.7 63.9 M379.3 74.4L382.1 69.3 M379.3 56.6L381.8 60.5 M362.7 68.7L365.3 72.1 M379.3 74.4L373.4 75.3 M362.7 85L365.5 80.4 M444.3 29.9L446.8 33.2 M460.9 34.4L455 35.9 M444.3 47.1L447.3 41.7 M444.3 29.9L438.6 30.8 M428 40.5L430.8 35.9 M428 24.2L430.5 27.6 M428 56.6L430.7 52.4 M428 40.5L430.5 44 M444.3 47.1L438.6 47.6 M428 56.6L422.3 57.8 M411.7 68.7L414.6 63.5 M411.7 51.5L414.2 54.9 M411.7 34.4L414.3 38.1 M428 40.5L422.3 41.4 M411.7 51.5L414.5 46.6 M428 24.2L422.3 25 M411.7 34.4L414.4 30 M411.7 18.4L414.2 21.7 M411.7 34.4L405.8 35.9 M395.2 47.1L398.2 41.8 M395.2 29.9L397.7 33.2 M460.9 51.5L455 52.8 M444.3 63L447.2 58.3 M444.3 47.1L446.7 50.1 M444.3 63L446.9 66.6 M460.9 68.7L455 69.7 M444.3 80.2L447.2 75.2 M428 56.6L430.6 60.5 M444.3 63L438.6 63.9 M428 74.4L430.9 69.2 M395.2 47.1L392 52.3 M395.2 63L392.1 58.6 M379.3 56.6L385.9 56 M460.9 34.4L457.6 40.3 M460.9 51.5L457.7 47.3 M444.3 47.1L450.9 45.5 M411.7 68.7L408.4 64.1 M395.2 63L401.9 61.8 M411.7 51.5L408.3 57.4 M395.2 80.2L401.9 78.8 M411.7 68.7L408.2 74.5 M411.7 85L408.5 80.9 M379.3 40.5L376 36.1 M362.7 34.4L369.4 33.6 M379.3 24.2L375.9 29.7 M395.2 47.1L392 42.3 M379.3 40.5L385.9 39.7 M395.2 29.9L391.9 35.7 M362.7 51.5L369.4 50.3 M379.3 40.5L375.8 46.1 M379.3 56.6L376.1 52.5 M395.2 80.2L392 75.6 M379.3 74.4L386 73.2 M395.2 63L391.9 68.9 M379.3 74.4L376 69.7 M362.7 68.7L369.4 67.4 M379.3 56.6L376 62.5 M428 40.5L434.7 39.7 M444.3 29.9L440.9 35.7 M444.3 47.1L441 42.3 M460.9 34.4L457.7 30.4 M444.3 29.9L451 28.5 M460.9 18.4L457.4 24.2 M428 40.5L424.6 46.1 M428 56.6L424.8 52.5 M411.7 51.5L418.4 50.3 M411.7 68.7L418.4 67.4 M428 56.6L424.7 62.6 M428 74.4L424.7 69.7 M411.7 34.4L408.5 30.4 M395.2 29.9L401.9 28.5 M411.7 18.4L408.2 24.2 M428 40.5L424.8 36.1 M411.7 34.4L418.4 33.6 M428 24.2L424.6 29.7 M395.2 47.1L401.8 45.4 M411.7 34.4L408.4 40.3 M411.7 51.5L408.5 47.3 M444.3 80.2L451 78.9 M460.9 68.7L457.4 74.5 M460.9 85L457.7 80.9 M460.9 68.7L457.6 64.1 M444.3 63L451 61.8 M460.9 51.5L457.5 57.4 M444.3 63L441.1 58.6 M428 56.6L434.8 56 M444.3 47.1L441 52.3 M444.3 63L440.9 68.9 M444.3 80.2L441.1 75.6 M428 74.4L434.7 73.2 M362.7 18.4L359.9 14.9 M362.7 18.4L363.9 12.2 M365.2 6L366.9 6.4 M379.3 24.2L380.4 17.6 M379.3 24.2L376.6 20.9 M395.2 29.9L397.2 23.7 M395.2 29.9L393.2 25.4 M411.7 18.4L408.9 14.9 M411.7 18.4L412.9 12.2 M414.2 6L415.9 6.4 M428 24.2L429.1 17.6 M428 24.2L425.2 20.9 M444.3 29.9L446.3 23.7 M444.3 29.9L442.3 25.4 M460.9 18.4L458.1 14.9 M460.9 18.4L462.1 12.2 M463.4 6L465.1 6.4 M362.7 85L365.9 88.2 M362.7 85L360.4 90.2 M358.2 95.5L361.2 96.2 M379.3 74.4L378.3 82 M379.3 74.4L381.8 80.2 M395.2 80.2L393.7 84.8 M395.2 80.2L397.2 85.3 M411.7 85L414.9 88.2 M411.7 85L409.4 90.2 M407.2 95.5L410.2 96.2 M428 74.4L427 82 M428 74.4L430.5 80.2 M444.3 80.2L442.8 84.8 M444.3 80.2L446.3 85.3 M460.9 85L464.1 88.2 M460.9 85L458.6 90.2 M456.4 95.5L459.4 96.2" stroke="#b01ee6" stroke-width="2.0" fill="none" stroke-linecap="round"/>
<circle cx="366.2" cy="62.6" r="1.7" fill="url(#gO)"/>
<circle cx="365.7" cy="55.6" r="1.7" fill="url(#gO)"/>
<circle cx="372.3" cy="58.1" r="1.7" fill="url(#gO)"/>
<circle cx="398.5" cy="57.5" r="1.7" fill="url(#gO)"/>
<circle cx="398.1" cy="50.6" r="1.7" fill="url(#gO)"/>
<circle cx="404.8" cy="53" r="1.7" fill="url(#gO)"/>
<circle cx="414.6" cy="72.7" r="1.7" fill="url(#gO)"/>
<circle cx="421.3" cy="75.4" r="1.7" fill="url(#gO)"/>
<circle cx="415" cy="79.6" r="1.7" fill="url(#gO)"/>
<circle cx="404.8" cy="69.9" r="1.7" fill="url(#gO)"/>
<circle cx="398.6" cy="74.3" r="1.7" fill="url(#gO)"/>
<circle cx="398.2" cy="67.2" r="1.7" fill="url(#gO)"/>
<circle cx="372.4" cy="25.1" r="1.7" fill="url(#gO)"/>
<circle cx="366" cy="29.2" r="1.7" fill="url(#gO)"/>
<circle cx="365.7" cy="22.3" r="1.7" fill="url(#gO)"/>
<circle cx="382.2" cy="44.6" r="1.7" fill="url(#gO)"/>
<circle cx="388.8" cy="47.7" r="1.7" fill="url(#gO)"/>
<circle cx="382.4" cy="51.6" r="1.7" fill="url(#gO)"/>
<circle cx="382.5" cy="35.1" r="1.7" fill="url(#gO)"/>
<circle cx="382.1" cy="28.1" r="1.7" fill="url(#gO)"/>
<circle cx="388.8" cy="30.9" r="1.7" fill="url(#gO)"/>
<circle cx="365.8" cy="38.7" r="1.7" fill="url(#gO)"/>
<circle cx="372.4" cy="41.5" r="1.7" fill="url(#gO)"/>
<circle cx="366.1" cy="45.7" r="1.7" fill="url(#gO)"/>
<circle cx="388.7" cy="64" r="1.7" fill="url(#gO)"/>
<circle cx="382.6" cy="68.4" r="1.7" fill="url(#gO)"/>
<circle cx="382.3" cy="61.2" r="1.7" fill="url(#gO)"/>
<circle cx="365.7" cy="72.7" r="1.7" fill="url(#gO)"/>
<circle cx="372.4" cy="75.4" r="1.7" fill="url(#gO)"/>
<circle cx="366" cy="79.6" r="1.7" fill="url(#gO)"/>
<circle cx="447.3" cy="33.8" r="1.7" fill="url(#gO)"/>
<circle cx="453.9" cy="36.1" r="1.7" fill="url(#gO)"/>
<circle cx="447.8" cy="40.8" r="1.7" fill="url(#gO)"/>
<circle cx="437.6" cy="30.9" r="1.7" fill="url(#gO)"/>
<circle cx="431.3" cy="35.1" r="1.7" fill="url(#gO)"/>
<circle cx="430.9" cy="28.2" r="1.7" fill="url(#gO)"/>
<circle cx="431.2" cy="51.6" r="1.7" fill="url(#gO)"/>
<circle cx="431" cy="44.7" r="1.7" fill="url(#gO)"/>
<circle cx="437.6" cy="47.7" r="1.7" fill="url(#gO)"/>
<circle cx="421.2" cy="58.1" r="1.7" fill="url(#gO)"/>
<circle cx="415.1" cy="62.6" r="1.7" fill="url(#gO)"/>
<circle cx="414.7" cy="55.5" r="1.7" fill="url(#gO)"/>
<circle cx="414.7" cy="38.7" r="1.7" fill="url(#gO)"/>
<circle cx="421.3" cy="41.5" r="1.7" fill="url(#gO)"/>
<circle cx="415" cy="45.8" r="1.7" fill="url(#gO)"/>
<circle cx="421.3" cy="25.1" r="1.7" fill="url(#gO)"/>
<circle cx="414.9" cy="29.2" r="1.7" fill="url(#gO)"/>
<circle cx="414.6" cy="22.3" r="1.7" fill="url(#gO)"/>
<circle cx="404.8" cy="36.1" r="1.7" fill="url(#gO)"/>
<circle cx="398.7" cy="40.8" r="1.7" fill="url(#gO)"/>
<circle cx="398.2" cy="33.8" r="1.7" fill="url(#gO)"/>
<circle cx="453.9" cy="53" r="1.7" fill="url(#gO)"/>
<circle cx="447.7" cy="57.5" r="1.7" fill="url(#gO)"/>
<circle cx="447.2" cy="50.6" r="1.7" fill="url(#gO)"/>
<circle cx="447.4" cy="67.2" r="1.7" fill="url(#gO)"/>
<circle cx="454" cy="69.9" r="1.7" fill="url(#gO)"/>
<circle cx="447.7" cy="74.3" r="1.7" fill="url(#gO)"/>
<circle cx="431.1" cy="61.2" r="1.7" fill="url(#gO)"/>
<circle cx="437.6" cy="64" r="1.7" fill="url(#gO)"/>
<circle cx="431.4" cy="68.3" r="1.7" fill="url(#gO)"/>
<circle cx="391.4" cy="53.2" r="1.7" fill="url(#gO)"/>
<circle cx="391.5" cy="57.8" r="1.7" fill="url(#gO)"/>
<circle cx="387.1" cy="55.8" r="1.7" fill="url(#gO)"/>
<circle cx="456.7" cy="41.9" r="1.7" fill="url(#gO)"/>
<circle cx="457.1" cy="46.5" r="1.7" fill="url(#gO)"/>
<circle cx="452.7" cy="45" r="1.7" fill="url(#gO)"/>
<circle cx="407.8" cy="63.3" r="1.7" fill="url(#gO)"/>
<circle cx="403.4" cy="61.6" r="1.7" fill="url(#gO)"/>
<circle cx="407.6" cy="58.6" r="1.7" fill="url(#gO)"/>
<circle cx="403.5" cy="78.5" r="1.7" fill="url(#gO)"/>
<circle cx="407.6" cy="75.6" r="1.7" fill="url(#gO)"/>
<circle cx="407.9" cy="80.2" r="1.7" fill="url(#gO)"/>
<circle cx="375.4" cy="35.3" r="1.7" fill="url(#gO)"/>
<circle cx="371" cy="33.4" r="1.7" fill="url(#gO)"/>
<circle cx="375.3" cy="30.7" r="1.7" fill="url(#gO)"/>
<circle cx="391.5" cy="41.5" r="1.7" fill="url(#gO)"/>
<circle cx="387.1" cy="39.5" r="1.7" fill="url(#gO)"/>
<circle cx="391.3" cy="36.7" r="1.7" fill="url(#gO)"/>
<circle cx="371" cy="50" r="1.7" fill="url(#gO)"/>
<circle cx="375.2" cy="47.1" r="1.7" fill="url(#gO)"/>
<circle cx="375.5" cy="51.7" r="1.7" fill="url(#gO)"/>
<circle cx="391.5" cy="74.8" r="1.7" fill="url(#gO)"/>
<circle cx="387.1" cy="73" r="1.7" fill="url(#gO)"/>
<circle cx="391.3" cy="70.1" r="1.7" fill="url(#gO)"/>
<circle cx="375.4" cy="68.9" r="1.7" fill="url(#gO)"/>
<circle cx="371" cy="67.1" r="1.7" fill="url(#gO)"/>
<circle cx="375.1" cy="64.1" r="1.7" fill="url(#gO)"/>
<circle cx="436.1" cy="39.5" r="1.7" fill="url(#gO)"/>
<circle cx="440.3" cy="36.8" r="1.7" fill="url(#gO)"/>
<circle cx="440.4" cy="41.5" r="1.7" fill="url(#gO)"/>
<circle cx="457.1" cy="29.7" r="1.7" fill="url(#gO)"/>
<circle cx="452.6" cy="28.1" r="1.7" fill="url(#gO)"/>
<circle cx="456.8" cy="25.2" r="1.7" fill="url(#gO)"/>
<circle cx="424" cy="47.1" r="1.7" fill="url(#gO)"/>
<circle cx="424.3" cy="51.8" r="1.7" fill="url(#gO)"/>
<circle cx="419.8" cy="50" r="1.7" fill="url(#gO)"/>
<circle cx="419.8" cy="67.1" r="1.7" fill="url(#gO)"/>
<circle cx="423.9" cy="64.1" r="1.7" fill="url(#gO)"/>
<circle cx="424.2" cy="68.9" r="1.7" fill="url(#gO)"/>
<circle cx="408" cy="29.7" r="1.7" fill="url(#gO)"/>
<circle cx="403.5" cy="28.1" r="1.7" fill="url(#gO)"/>
<circle cx="407.6" cy="25.2" r="1.7" fill="url(#gO)"/>
<circle cx="424.2" cy="35.3" r="1.7" fill="url(#gO)"/>
<circle cx="419.8" cy="33.4" r="1.7" fill="url(#gO)"/>
<circle cx="424" cy="30.6" r="1.7" fill="url(#gO)"/>
<circle cx="403.5" cy="45" r="1.7" fill="url(#gO)"/>
<circle cx="407.6" cy="41.9" r="1.7" fill="url(#gO)"/>
<circle cx="407.9" cy="46.6" r="1.7" fill="url(#gO)"/>
<circle cx="452.6" cy="78.5" r="1.7" fill="url(#gO)"/>
<circle cx="456.8" cy="75.6" r="1.7" fill="url(#gO)"/>
<circle cx="457.1" cy="80.2" r="1.7" fill="url(#gO)"/>
<circle cx="457" cy="63.3" r="1.7" fill="url(#gO)"/>
<circle cx="452.6" cy="61.5" r="1.7" fill="url(#gO)"/>
<circle cx="456.8" cy="58.6" r="1.7" fill="url(#gO)"/>
<circle cx="440.5" cy="57.8" r="1.7" fill="url(#gO)"/>
<circle cx="436.1" cy="55.8" r="1.7" fill="url(#gO)"/>
<circle cx="440.4" cy="53.2" r="1.7" fill="url(#gO)"/>
<circle cx="440.3" cy="70.1" r="1.7" fill="url(#gO)"/>
<circle cx="440.5" cy="74.8" r="1.7" fill="url(#gO)"/>
<circle cx="436.1" cy="73" r="1.7" fill="url(#gO)"/>
<circle cx="357.2" cy="11.5" r="1.7" fill="url(#gO)"/>
<circle cx="365.2" cy="6" r="1.7" fill="url(#gO)"/>
<circle cx="368.7" cy="6.8" r="1.7" fill="url(#gO)"/>
<circle cx="381.5" cy="11" r="1.7" fill="url(#gO)"/>
<circle cx="373.8" cy="17.5" r="1.7" fill="url(#gO)"/>
<circle cx="399.2" cy="17.5" r="1.7" fill="url(#gO)"/>
<circle cx="391.2" cy="21" r="1.7" fill="url(#gO)"/>
<circle cx="406.2" cy="11.5" r="1.7" fill="url(#gO)"/>
<circle cx="414.2" cy="6" r="1.7" fill="url(#gO)"/>
<circle cx="417.7" cy="6.8" r="1.7" fill="url(#gO)"/>
<circle cx="430.2" cy="11" r="1.7" fill="url(#gO)"/>
<circle cx="422.5" cy="17.5" r="1.7" fill="url(#gO)"/>
<circle cx="448.3" cy="17.5" r="1.7" fill="url(#gO)"/>
<circle cx="440.3" cy="21" r="1.7" fill="url(#gO)"/>
<circle cx="455.4" cy="11.5" r="1.7" fill="url(#gO)"/>
<circle cx="463.4" cy="6" r="1.7" fill="url(#gO)"/>
<circle cx="466.9" cy="6.8" r="1.7" fill="url(#gO)"/>
<circle cx="369.2" cy="91.5" r="1.7" fill="url(#gO)"/>
<circle cx="358.2" cy="95.5" r="1.7" fill="url(#gO)"/>
<circle cx="364.2" cy="97" r="1.7" fill="url(#gO)"/>
<circle cx="377.3" cy="89.5" r="1.7" fill="url(#gO)"/>
<circle cx="384.3" cy="86" r="1.7" fill="url(#gO)"/>
<circle cx="392.2" cy="89.5" r="1.7" fill="url(#gO)"/>
<circle cx="399.2" cy="90.5" r="1.7" fill="url(#gO)"/>
<circle cx="418.2" cy="91.5" r="1.7" fill="url(#gO)"/>
<circle cx="407.2" cy="95.5" r="1.7" fill="url(#gO)"/>
<circle cx="413.2" cy="97" r="1.7" fill="url(#gO)"/>
<circle cx="426" cy="89.5" r="1.7" fill="url(#gO)"/>
<circle cx="433" cy="86" r="1.7" fill="url(#gO)"/>
<circle cx="441.3" cy="89.5" r="1.7" fill="url(#gO)"/>
<circle cx="448.3" cy="90.5" r="1.7" fill="url(#gO)"/>
<circle cx="467.4" cy="91.5" r="1.7" fill="url(#gO)"/>
<circle cx="456.4" cy="95.5" r="1.7" fill="url(#gO)"/>
<circle cx="462.4" cy="97" r="1.7" fill="url(#gO)"/>
<ellipse cx="362.7" cy="18.4" rx="4.1" ry="3.5" fill="url(#gGd)"/>
<ellipse cx="362.7" cy="34.4" rx="4.1" ry="3.5" fill="url(#gGd)"/>
<ellipse cx="362.7" cy="51.5" rx="4.1" ry="3.5" fill="url(#gGd)"/>
<ellipse cx="362.7" cy="68.7" rx="4.1" ry="3.5" fill="url(#gGd)"/>
<ellipse cx="362.7" cy="85" rx="4.1" ry="3.5" fill="url(#gGd)"/>
<ellipse cx="379.3" cy="24.2" rx="4.1" ry="3.5" fill="url(#gGd)"/>
<ellipse cx="379.3" cy="40.5" rx="4.1" ry="3.5" fill="url(#gGd)"/>
<ellipse cx="379.3" cy="56.6" rx="4.1" ry="3.5" fill="url(#gGd)"/>
<ellipse cx="379.3" cy="74.4" rx="4.1" ry="3.5" fill="url(#gGd)"/>
<ellipse cx="395.2" cy="29.9" rx="4.1" ry="3.5" fill="url(#gGd)"/>
<ellipse cx="395.2" cy="47.1" rx="4.1" ry="3.5" fill="url(#gGd)"/>
<ellipse cx="395.2" cy="63" rx="4.1" ry="3.5" fill="url(#gGd)"/>
<ellipse cx="395.2" cy="80.2" rx="4.1" ry="3.5" fill="url(#gGd)"/>
<ellipse cx="411.7" cy="18.4" rx="4.1" ry="3.5" fill="url(#gGd)"/>
<ellipse cx="411.7" cy="34.4" rx="4.1" ry="3.5" fill="url(#gGd)"/>
<ellipse cx="411.7" cy="51.5" rx="4.1" ry="3.5" fill="url(#gGd)"/>
<ellipse cx="411.7" cy="68.7" rx="4.1" ry="3.5" fill="url(#gGd)"/>
<ellipse cx="411.7" cy="85" rx="4.1" ry="3.5" fill="url(#gGd)"/>
<ellipse cx="428" cy="24.2" rx="4.1" ry="3.5" fill="url(#gGd)"/>
<ellipse cx="428" cy="40.5" rx="4.1" ry="3.5" fill="url(#gGd)"/>
<ellipse cx="428" cy="56.6" rx="4.1" ry="3.5" fill="url(#gGd)"/>
<ellipse cx="428" cy="74.4" rx="4.1" ry="3.5" fill="url(#gGd)"/>
<ellipse cx="444.3" cy="29.9" rx="4.1" ry="3.5" fill="url(#gGd)"/>
<ellipse cx="444.3" cy="47.1" rx="4.1" ry="3.5" fill="url(#gGd)"/>
<ellipse cx="444.3" cy="63" rx="4.1" ry="3.5" fill="url(#gGd)"/>
<ellipse cx="444.3" cy="80.2" rx="4.1" ry="3.5" fill="url(#gGd)"/>
<ellipse cx="460.9" cy="18.4" rx="4.1" ry="3.5" fill="url(#gGd)"/>
<ellipse cx="460.9" cy="34.4" rx="4.1" ry="3.5" fill="url(#gGd)"/>
<ellipse cx="460.9" cy="51.5" rx="4.1" ry="3.5" fill="url(#gGd)"/>
<ellipse cx="460.9" cy="68.7" rx="4.1" ry="3.5" fill="url(#gGd)"/>
<ellipse cx="460.9" cy="85" rx="4.1" ry="3.5" fill="url(#gGd)"/>
<rect x="47.1" y="104.4" width="219.5" height="171.4" fill="none" stroke="#1a1a1a" stroke-width="1.1"/>
<path d="M47.1 275.8v3 M87 275.8v3 M126.9 275.8v3 M166.8 275.8v3 M206.7 275.8v3 M246.6 275.8v3 M67.1 275.8v1.6 M107 275.8v1.6 M146.9 275.8v1.6 M186.8 275.8v1.6 M226.7 275.8v1.6 M47.1 104.4h-3 M47.1 123.4h-3 M47.1 142.5h-3 M47.1 161.5h-3 M47.1 180.6h-3 M47.1 199.6h-3 M47.1 218.7h-3 M47.1 237.7h-3 M47.1 256.8h-3 M47.1 275.8h-3 M47.1 113.9h-1.6 M47.1 133h-1.6 M47.1 152h-1.6 M47.1 171.1h-1.6 M47.1 190.1h-1.6 M47.1 209.1h-1.6 M47.1 228.2h-1.6 M47.1 247.2h-1.6 M47.1 266.3h-1.6" stroke="#1a1a1a" stroke-width="1.1" fill="none"/>
<text x="47.1" y="288.1" font-family="'Liberation Serif', serif" font-size="8.5" font-weight="bold" text-anchor="middle" fill="#111" stroke="#111" stroke-width="0.3" >0</text>
<text x="87" y="288.1" font-family="'Liberation Serif', serif" font-size="8.5" font-weight="bold" text-anchor="middle" fill="#111" stroke="#111" stroke-width="0.3" >10</text>
<text x="126.9" y="288.1" font-family="'Liberation Serif', serif" font-size="8.5" font-weight="bold" text-anchor="middle" fill="#111" stroke="#111" stroke-width="0.3" >20</text>
<text x="166.8" y="288.1" font-family="'Liberation Serif', serif" font-size="8.5" font-weight="bold" text-anchor="middle" fill="#111" stroke="#111" stroke-width="0.3" >30</text>
<text x="206.7" y="288.1" font-family="'Liberation Serif', serif" font-size="8.5" font-weight="bold" text-anchor="middle" fill="#111" stroke="#111" stroke-width="0.3" >40</text>
<text x="246.6" y="288.1" font-family="'Liberation Serif', serif" font-size="8.5" font-weight="bold" text-anchor="middle" fill="#111" stroke="#111" stroke-width="0.3" >50</text>
<text x="41.6" y="107.3" font-family="'Liberation Serif', serif" font-size="8.5" font-weight="bold" text-anchor="end" fill="#111" stroke="#111" stroke-width="0.3" >6</text>
<text x="41.6" y="126.3" font-family="'Liberation Serif', serif" font-size="8.5" font-weight="bold" text-anchor="end" fill="#111" stroke="#111" stroke-width="0.3" >4</text>
<text x="41.6" y="145.4" font-family="'Liberation Serif', serif" font-size="8.5" font-weight="bold" text-anchor="end" fill="#111" stroke="#111" stroke-width="0.3" >2</text>
<text x="41.6" y="164.4" font-family="'Liberation Serif', serif" font-size="8.5" font-weight="bold" text-anchor="end" fill="#111" stroke="#111" stroke-width="0.3" >0</text>
<text x="41.6" y="183.5" font-family="'Liberation Serif', serif" font-size="8.5" font-weight="bold" text-anchor="end" fill="#111" stroke="#111" stroke-width="0.3" >&#8722;2</text>
<text x="41.6" y="202.5" font-family="'Liberation Serif', serif" font-size="8.5" font-weight="bold" text-anchor="end" fill="#111" stroke="#111" stroke-width="0.3" >&#8722;4</text>
<text x="41.6" y="221.6" font-family="'Liberation Serif', serif" font-size="8.5" font-weight="bold" text-anchor="end" fill="#111" stroke="#111" stroke-width="0.3" >&#8722;6</text>
<text x="41.6" y="240.6" font-family="'Liberation Serif', serif" font-size="8.5" font-weight="bold" text-anchor="end" fill="#111" stroke="#111" stroke-width="0.3" >&#8722;8</text>
<text x="41.6" y="259.6" font-family="'Liberation Serif', serif" font-size="8.5" font-weight="bold" text-anchor="end" fill="#111" stroke="#111" stroke-width="0.3" >&#8722;10</text>
<text x="41.6" y="278.7" font-family="'Liberation Serif', serif" font-size="8.5" font-weight="bold" text-anchor="end" fill="#111" stroke="#111" stroke-width="0.3" >&#8722;12</text>
<text x="156.8" y="303.2" font-family="'Liberation Serif', serif" font-size="9" font-weight="bold" text-anchor="middle" fill="#111" stroke="#111" stroke-width="0.3"  textLength="20.7" lengthAdjust="spacingAndGlyphs">Z (&#197;)</text>
<text transform="translate(22.8,191.1) rotate(-90)" font-family="'Liberation Serif', serif" font-size="8.6" font-weight="bold" text-anchor="middle" fill="#111" stroke="#111" stroke-width="0.3" textLength="62.6" lengthAdjust="spacingAndGlyphs">V Potential (eV)</text>
<line x1="15.6" y1="222.2" x2="15.6" y2="216.4" stroke="#111" stroke-width="0.7739999999999999"/>
<line x1="47.1" y1="160.8" x2="266.6" y2="160.8" stroke="#2a2a2a" stroke-width="1.35" stroke-dasharray="1.35 4.05" stroke-dashoffset="1.45"/>
<path d="M47.1 126.8 L47.4 126.8 L47.7 126.8 L48 126.8 L48.4 126.8 L48.7 126.8 L49 126.8 L49.3 126.8 L49.6 126.8 L49.9 126.8 L50.2 126.8 L50.6 126.8 L50.9 126.8 L51.2 126.8 L51.5 126.8 L51.8 126.8 L52.1 126.8 L52.4 126.8 L52.8 126.8 L53.1 126.8 L53.4 126.8 L53.7 126.8 L54 126.8 L54.3 126.8 L54.6 126.8 L55 126.8 L55.3 126.8 L55.6 126.8 L55.9 126.8 L56.2 126.8 L56.5 126.8 L56.8 126.8 L57.1 126.8 L57.5 126.8 L57.8 126.8 L58.1 126.8 L58.4 126.8 L58.7 126.8 L59 126.8 L59.3 126.8 L59.7 126.8 L60 126.8 L60.3 126.8 L60.6 126.8 L60.9 126.8 L61.2 126.8 L61.5 126.8 L61.9 126.8 L62.2 126.8 L62.5 126.8 L62.8 126.8 L63.1 126.8 L63.4 126.8 L63.7 126.8 L64.1 126.8 L64.4 126.8 L64.7 126.8 L65 126.8 L65.3 126.8 L65.6 126.8 L65.9 126.8 L66.3 126.8 L66.6 126.8 L66.9 126.8 L67.2 126.8 L67.5 126.8 L67.8 126.8 L68.1 126.8 L68.5 126.8 L68.8 126.8 L69.1 126.8 L69.4 126.8 L69.7 126.8 L70 126.8 L70.3 126.8 L70.7 126.8 L71 126.8 L71.3 126.8 L71.6 126.8 L71.9 126.8 L72.2 126.8 L72.5 126.8 L72.8 126.8 L73.2 126.8 L73.5 126.8 L73.8 126.8 L74.1 126.8 L74.4 126.8 L74.7 126.8 L75 126.8 L75.4 126.8 L75.7 126.8 L76 126.8 L76.3 126.8 L76.6 126.8 L76.9 126.8 L77.2 126.8 L77.6 126.8 L77.9 126.8 L78.2 126.8 L78.5 126.8 L78.8 126.8 L79.1 126.8 L79.4 126.8 L79.8 126.8 L80.1 126.8 L80.4 126.8 L80.7 126.8 L81 126.8 L81.3 126.8 L81.6 126.8 L82 126.8 L82.3 126.8 L82.6 126.8 L82.9 126.8 L83.2 126.8 L83.5 126.8 L83.8 126.8 L84.2 126.8 L84.5 126.8 L84.8 126.8 L85.1 126.8 L85.4 126.8 L85.7 126.8 L86 126.8 L86.4 126.8 L86.7 126.8 L87 126.8 L87.3 126.8 L87.6 126.8 L87.9 126.8 L88.2 126.8 L88.6 126.8 L88.9 126.8 L89.2 126.8 L89.5 126.8 L89.8 126.8 L90.1 126.8 L90.4 126.8 L90.7 126.8 L91.1 126.8 L91.4 126.8 L91.7 126.8 L92 126.8 L92.3 126.8 L92.6 126.8 L92.9 126.8 L93.3 126.8 L93.6 126.8 L93.9 126.8 L94.2 126.8 L94.5 126.8 L94.8 126.8 L95.1 126.8 L95.5 126.8 L95.8 126.8 L96.1 126.8 L96.4 126.8 L96.7 126.8 L97 126.8 L97.3 126.8 L97.7 126.8 L98 126.8 L98.3 126.8 L98.6 126.8 L98.9 126.8 L99.2 126.8 L99.5 126.8 L99.9 126.8 L100.2 126.8 L100.5 126.8 L100.8 126.8 L101.1 126.8 L101.4 126.8 L101.7 126.8 L102.1 126.8 L102.4 126.8 L102.7 126.8 L103 126.8 L103.3 126.8 L103.6 126.8 L103.9 126.8 L104.3 126.8 L104.6 126.8 L104.9 126.8 L105.2 126.8 L105.5 126.8 L105.8 126.8 L106.1 126.8 L106.4 126.8 L106.8 126.8 L107.1 126.8 L107.4 126.8 L107.7 126.8 L108 126.8 L108.3 126.8 L108.6 126.8 L109 126.8 L109.3 126.8 L109.6 126.9 L109.9 126.9 L110.2 126.9 L110.5 126.9 L110.8 126.9 L111.2 126.9 L111.5 126.9 L111.8 126.9 L112.1 127 L112.4 127 L112.7 127.1 L113 127.1 L113.4 127.2 L113.7 127.2 L114 127.3 L114.3 127.4 L114.6 127.6 L114.9 127.8 L115.2 128 L115.6 128.2 L115.9 128.5 L116.2 128.8 L116.5 129.2 L116.8 129.7 L117.1 130.4 L117.4 131.1 L117.8 131.9 L118.1 132.7 L118.4 133.7 L118.7 134.9 L119 136.3 L119.3 137.8 L119.6 139.5 L120 141.4 L120.3 143.5 L120.6 145.9 L120.9 148.5 L121.2 151.3 L121.5 154.3 L121.8 157.6 L122.2 161.2 L122.5 165 L122.8 169 L123.1 173.2 L123.4 177.7 L123.7 182.3 L124 187.1 L124.3 192 L124.7 197 L125 202 L125.3 207 L125.6 212.1 L125.9 217 L126.2 221.6 L126.5 226.2 L126.9 230.6 L127.2 234.7 L127.5 238.2 L127.8 241.7 L128.1 244.7 L128.4 247 L128.7 248.6 L129.1 250 L129.4 251 L129.7 251.4 L130 250.3 L130.3 246.7 L130.6 241.3 L130.9 234.3 L131.3 226.2 L131.6 217.6 L131.9 208.8 L132.2 200.4 L132.5 192.7 L132.8 186.2 L133.1 181.4 L133.5 178.8 L133.8 178.8 L134.1 182.1 L134.4 188.1 L134.7 196.1 L135 205.4 L135.3 215.4 L135.7 225.2 L136 234.2 L136.3 241.6 L136.6 246.8 L136.9 249.1 L137.2 248.9 L137.5 247.9 L137.9 246.6 L138.2 245 L138.5 243.4 L138.8 242 L139.1 241 L139.4 240.6 L139.7 240.9 L140 241.9 L140.4 243.3 L140.7 244.9 L141 246.5 L141.3 247.9 L141.6 248.8 L141.9 249.1 L142.2 247 L142.6 242 L142.9 234.6 L143.2 225.7 L143.5 215.9 L143.8 205.9 L144.1 196.5 L144.4 188.4 L144.8 182.3 L145.1 178.9 L145.4 178.8 L145.7 182.1 L146 188.2 L146.3 196.3 L146.6 205.6 L147 215.5 L147.3 225.3 L147.6 234.3 L147.9 241.7 L148.2 246.9 L148.5 249.1 L148.8 248.8 L149.2 247.9 L149.5 246.6 L149.8 245 L150.1 243.4 L150.4 242 L150.7 241 L151 240.6 L151.4 240.9 L151.7 241.9 L152 243.3 L152.3 244.9 L152.6 246.5 L152.9 247.9 L153.2 248.8 L153.6 249.1 L153.9 247 L154.2 241.8 L154.5 234.5 L154.8 225.5 L155.1 215.7 L155.4 205.8 L155.8 196.4 L156.1 188.3 L156.4 182.2 L156.7 178.8 L157 178.8 L157.3 182.2 L157.6 188.3 L157.9 196.4 L158.3 205.8 L158.6 215.7 L158.9 225.5 L159.2 234.5 L159.5 241.8 L159.8 247 L160.1 249.1 L160.5 248.8 L160.8 247.9 L161.1 246.5 L161.4 244.9 L161.7 243.3 L162 241.9 L162.3 240.9 L162.7 240.6 L163 241 L163.3 242 L163.6 243.4 L163.9 245 L164.2 246.6 L164.5 247.9 L164.9 248.8 L165.2 249.1 L165.5 246.9 L165.8 241.7 L166.1 234.3 L166.4 225.3 L166.7 215.5 L167.1 205.6 L167.4 196.3 L167.7 188.2 L168 182.1 L168.3 178.8 L168.6 178.9 L168.9 182.3 L169.3 188.4 L169.6 196.5 L169.9 205.9 L170.2 215.9 L170.5 225.7 L170.8 234.6 L171.1 242 L171.5 247 L171.8 249.1 L172.1 248.8 L172.4 247.9 L172.7 246.5 L173 244.9 L173.3 243.3 L173.7 241.9 L174 240.9 L174.3 240.6 L174.6 241 L174.9 242 L175.2 243.4 L175.5 245 L175.8 246.6 L176.2 247.9 L176.5 248.9 L176.8 249.1 L177.1 246.8 L177.4 241.6 L177.7 234.2 L178 225.2 L178.4 215.4 L178.7 205.4 L179 196.1 L179.3 188.1 L179.6 182.1 L179.9 178.8 L180.2 178.9 L180.6 182.4 L180.9 188.6 L181.2 196.7 L181.5 206.1 L181.8 216 L182.1 225.8 L182.4 234.7 L182.8 242.1 L183.1 247.1 L183.4 249.1 L183.7 248.8 L184 247.9 L184.3 246.5 L184.6 244.9 L185 243.3 L185.3 241.9 L185.6 240.9 L185.9 240.6 L186.2 241 L186.5 242 L186.8 243.4 L187.2 245 L187.5 246.6 L187.8 248 L188.1 248.9 L188.4 249.1 L188.7 246.8 L189 241.5 L189.4 234 L189.7 225 L190 215.2 L190.3 205.3 L190.6 196 L190.9 188 L191.2 182 L191.5 178.8 L191.9 178.8 L192.2 181.5 L192.5 186.3 L192.8 192.8 L193.1 200.5 L193.4 209 L193.7 217.7 L194.1 226.4 L194.4 234.4 L194.7 241.4 L195 246.8 L195.3 250.3 L195.6 251.4 L195.9 251 L196.3 249.9 L196.6 248.6 L196.9 247 L197.2 244.7 L197.5 241.6 L197.8 238.2 L198.1 234.6 L198.5 230.6 L198.8 226.2 L199.1 221.6 L199.4 216.9 L199.7 212 L200 206.9 L200.3 201.9 L200.7 196.9 L201 191.9 L201.3 187 L201.6 182.2 L201.9 177.6 L202.2 173.2 L202.5 168.9 L202.9 164.9 L203.2 161.1 L203.5 157.5 L203.8 154.2 L204.1 151.2 L204.4 148.5 L204.7 145.9 L205.1 143.5 L205.4 141.3 L205.7 139.5 L206 137.8 L206.3 136.2 L206.6 134.9 L206.9 133.7 L207.3 132.7 L207.6 131.8 L207.9 131.1 L208.2 130.4 L208.5 129.7 L208.8 129.2 L209.1 128.8 L209.4 128.5 L209.8 128.2 L210.1 128 L210.4 127.8 L210.7 127.6 L211 127.4 L211.3 127.3 L211.6 127.2 L212 127.2 L212.3 127.1 L212.6 127.1 L212.9 127 L213.2 127 L213.5 126.9 L213.8 126.9 L214.2 126.9 L214.5 126.9 L214.8 126.9 L215.1 126.9 L215.4 126.9 L215.7 126.9 L216 126.8 L216.4 126.8 L216.7 126.8 L217 126.8 L217.3 126.8 L217.6 126.8 L217.9 126.8 L218.2 126.8 L218.6 126.8 L218.9 126.8 L219.2 126.8 L219.5 126.8 L219.8 126.8 L220.1 126.8 L220.4 126.8 L220.8 126.8 L221.1 126.8 L221.4 126.8 L221.7 126.8 L222 126.8 L222.3 126.8 L222.6 126.8 L223 126.8 L223.3 126.8 L223.6 126.8 L223.9 126.8 L224.2 126.8 L224.5 126.8 L224.8 126.8 L225.1 126.8 L225.5 126.8 L225.8 126.8 L226.1 126.8 L226.4 126.8 L226.7 126.8 L227 126.8 L227.3 126.8 L227.7 126.8 L228 126.8 L228.3 126.8 L228.6 126.8 L228.9 126.8 L229.2 126.8 L229.5 126.8 L229.9 126.8 L230.2 126.8 L230.5 126.8 L230.8 126.8 L231.1 126.8 L231.4 126.8 L231.7 126.8 L232.1 126.8 L232.4 126.8 L232.7 126.8 L233 126.8 L233.3 126.8 L233.6 126.8 L233.9 126.8 L234.3 126.8 L234.6 126.8 L234.9 126.8 L235.2 126.8 L235.5 126.8 L235.8 126.8 L236.1 126.8 L236.5 126.8 L236.8 126.8 L237.1 126.8 L237.4 126.8 L237.7 126.8 L238 126.8 L238.3 126.8 L238.7 126.8 L239 126.8 L239.3 126.8 L239.6 126.8 L239.9 126.8 L240.2 126.8 L240.5 126.8 L240.9 126.8 L241.2 126.8 L241.5 126.8 L241.8 126.8 L242.1 126.8 L242.4 126.8 L242.7 126.8 L243 126.8 L243.4 126.8 L243.7 126.8 L244 126.8 L244.3 126.8 L244.6 126.8 L244.9 126.8 L245.2 126.8 L245.6 126.8 L245.9 126.8 L246.2 126.8 L246.5 126.8 L246.8 126.8 L247.1 126.8 L247.4 126.8 L247.8 126.8 L248.1 126.8 L248.4 126.8 L248.7 126.8 L249 126.8 L249.3 126.8 L249.6 126.8 L250 126.8 L250.3 126.8 L250.6 126.8 L250.9 126.8 L251.2 126.8 L251.5 126.8 L251.8 126.8 L252.2 126.8 L252.5 126.8 L252.8 126.8 L253.1 126.8 L253.4 126.8 L253.7 126.8 L254 126.8 L254.4 126.8 L254.7 126.8 L255 126.8 L255.3 126.8 L255.6 126.8 L255.9 126.8 L256.2 126.8 L256.6 126.8 L256.9 126.8 L257.2 126.8 L257.5 126.8 L257.8 126.8 L258.1 126.8 L258.4 126.8 L258.7 126.8 L259.1 126.8 L259.4 126.8 L259.7 126.8 L260 126.8 L260.3 126.8 L260.6 126.8 L260.9 126.8 L261.3 126.8 L261.6 126.8 L261.9 126.8 L262.2 126.8 L262.5 126.8 L262.8 126.8 L263.1 126.8 L263.5 126.8 L263.8 126.8 L264.1 126.8 L264.4 126.8 L264.7 126.8 L265 126.8 L265.3 126.8 L265.7 126.8 L266 126.8 L266.3 126.8 L266.6 126.8" stroke="#1e9cf0" stroke-width="1.4" fill="none" stroke-linejoin="round"/>
<line x1="121.9" y1="128.6" x2="139.5" y2="128.6" stroke="#1e9cf0" stroke-width="1.4"/>
<text x="142.3" y="131.2" font-family="'Liberation Serif', serif" font-size="8.6" font-weight="bold" fill="#111" stroke="#111" stroke-width="0.3" textLength="45" lengthAdjust="spacingAndGlyphs">Gd_Gd<tspan font-size="7.4" dy="2.2">2</tspan><tspan dy="-2.2">O</tspan><tspan font-size="7.4" dy="2.2">3</tspan></text>
<text x="54.1" y="119.2" font-family="'Liberation Serif', serif" font-size="8.6" font-weight="bold" text-anchor="start" fill="#111" stroke="#111" stroke-width="0.3" textLength="52.7" lengthAdjust="spacingAndGlyphs">E<tspan font-size="6.9" dy="2.6">V</tspan><tspan dy="-2.6"> = 3.644 eV</tspan></text>
<text x="211.3" y="117.4" font-family="'Liberation Serif', serif" font-size="8.6" font-weight="bold" text-anchor="start" fill="#111" stroke="#111" stroke-width="0.3" textLength="53.3" lengthAdjust="spacingAndGlyphs">E<tspan font-size="6.9" dy="2.6">V</tspan><tspan dy="-2.6"> = 3.644 eV</tspan></text>
<text x="50.1" y="172" font-family="'Liberation Serif', serif" font-size="8.6" font-weight="bold" text-anchor="start" fill="#111" stroke="#111" stroke-width="0.3" textLength="51" lengthAdjust="spacingAndGlyphs">E<tspan font-size="6.9" dy="2.6">f</tspan><tspan dy="-2.6"> = 0.081 eV</tspan></text>
<text x="148" y="267.2" font-family="'Liberation Serif', serif" font-size="8.6" font-weight="bold" text-anchor="start" fill="#111" stroke="#111" stroke-width="0.3" >&#934; = 3.725 eV</text>
<rect x="306.4" y="104.7" width="219.2" height="171.1" fill="none" stroke="#1a1a1a" stroke-width="1.1"/>
<path d="M306.4 275.8v3 M346.3 275.8v3 M386.1 275.8v3 M426 275.8v3 M465.8 275.8v3 M505.7 275.8v3 M326.3 275.8v1.6 M366.2 275.8v1.6 M406 275.8v1.6 M445.9 275.8v1.6 M485.7 275.8v1.6 M306.4 116.1h-3 M306.4 138.9h-3 M306.4 161.7h-3 M306.4 184.5h-3 M306.4 207.4h-3 M306.4 230.2h-3 M306.4 253h-3 M306.4 275.8h-3 M306.4 104.7h-1.6 M306.4 127.5h-1.6 M306.4 150.3h-1.6 M306.4 173.1h-1.6 M306.4 196h-1.6 M306.4 218.8h-1.6 M306.4 241.6h-1.6 M306.4 264.4h-1.6" stroke="#1a1a1a" stroke-width="1.1" fill="none"/>
<text x="306.4" y="287.8" font-family="'Liberation Serif', serif" font-size="8.3" font-weight="bold" text-anchor="middle" fill="#111" stroke="#111" stroke-width="0.3" >0</text>
<text x="346.3" y="287.8" font-family="'Liberation Serif', serif" font-size="8.3" font-weight="bold" text-anchor="middle" fill="#111" stroke="#111" stroke-width="0.3" >10</text>
<text x="386.1" y="287.8" font-family="'Liberation Serif', serif" font-size="8.3" font-weight="bold" text-anchor="middle" fill="#111" stroke="#111" stroke-width="0.3" >20</text>
<text x="426" y="287.8" font-family="'Liberation Serif', serif" font-size="8.3" font-weight="bold" text-anchor="middle" fill="#111" stroke="#111" stroke-width="0.3" >30</text>
<text x="465.8" y="287.8" font-family="'Liberation Serif', serif" font-size="8.3" font-weight="bold" text-anchor="middle" fill="#111" stroke="#111" stroke-width="0.3" >40</text>
<text x="505.7" y="287.8" font-family="'Liberation Serif', serif" font-size="8.3" font-weight="bold" text-anchor="middle" fill="#111" stroke="#111" stroke-width="0.3" >50</text>
<text x="300.9" y="118.9" font-family="'Liberation Serif', serif" font-size="8.3" font-weight="bold" text-anchor="end" fill="#111" stroke="#111" stroke-width="0.3" >4</text>
<text x="300.9" y="141.7" font-family="'Liberation Serif', serif" font-size="8.3" font-weight="bold" text-anchor="end" fill="#111" stroke="#111" stroke-width="0.3" >2</text>
<text x="300.9" y="164.6" font-family="'Liberation Serif', serif" font-size="8.3" font-weight="bold" text-anchor="end" fill="#111" stroke="#111" stroke-width="0.3" >0</text>
<text x="300.9" y="187.4" font-family="'Liberation Serif', serif" font-size="8.3" font-weight="bold" text-anchor="end" fill="#111" stroke="#111" stroke-width="0.3" >&#8722;2</text>
<text x="300.9" y="210.2" font-family="'Liberation Serif', serif" font-size="8.3" font-weight="bold" text-anchor="end" fill="#111" stroke="#111" stroke-width="0.3" >&#8722;4</text>
<text x="300.9" y="233" font-family="'Liberation Serif', serif" font-size="8.3" font-weight="bold" text-anchor="end" fill="#111" stroke="#111" stroke-width="0.3" >&#8722;6</text>
<text x="300.9" y="255.8" font-family="'Liberation Serif', serif" font-size="8.3" font-weight="bold" text-anchor="end" fill="#111" stroke="#111" stroke-width="0.3" >&#8722;8</text>
<text x="300.9" y="278.6" font-family="'Liberation Serif', serif" font-size="8.3" font-weight="bold" text-anchor="end" fill="#111" stroke="#111" stroke-width="0.3" >&#8722;10</text>
<text x="416" y="302.7" font-family="'Liberation Sans', sans-serif" font-size="9" font-weight="bold" text-anchor="middle" fill="#111" stroke="#111" stroke-width="0.3" >Z (&#197;)</text>
<text transform="translate(283,189.7) rotate(-90)" font-family="'Liberation Serif', serif" font-size="8.6" font-weight="bold" text-anchor="middle" fill="#111" stroke="#111" stroke-width="0.3" textLength="60.6" lengthAdjust="spacingAndGlyphs">V Potential (eV)</text>
<line x1="272.8" y1="219.8" x2="272.8" y2="214.2" stroke="#777" stroke-width="0.7739999999999999"/>
<line x1="306.4" y1="175.2" x2="525.6" y2="175.2" stroke="#2a2a2a" stroke-width="1.35" stroke-dasharray="1.35 4.05" stroke-dashoffset="1.95"/>
<path d="M306.4 125.5 L306.7 125.5 L307 125.5 L307.3 125.5 L307.7 125.5 L308 125.5 L308.3 125.5 L308.6 125.5 L308.9 125.5 L309.2 125.5 L309.5 125.5 L309.8 125.5 L310.2 125.5 L310.5 125.5 L310.8 125.5 L311.1 125.5 L311.4 125.5 L311.7 125.5 L312 125.5 L312.4 125.5 L312.7 125.5 L313 125.5 L313.3 125.5 L313.6 125.5 L313.9 125.5 L314.2 125.5 L314.6 125.5 L314.9 125.5 L315.2 125.5 L315.5 125.5 L315.8 125.5 L316.1 125.5 L316.4 125.5 L316.7 125.5 L317.1 125.5 L317.4 125.5 L317.7 125.5 L318 125.5 L318.3 125.5 L318.6 125.5 L318.9 125.5 L319.3 125.5 L319.6 125.5 L319.9 125.5 L320.2 125.5 L320.5 125.5 L320.8 125.5 L321.1 125.5 L321.5 125.5 L321.8 125.5 L322.1 125.5 L322.4 125.5 L322.7 125.5 L323 125.5 L323.3 125.5 L323.6 125.5 L324 125.5 L324.3 125.5 L324.6 125.5 L324.9 125.5 L325.2 125.5 L325.5 125.5 L325.8 125.5 L326.2 125.5 L326.5 125.5 L326.8 125.5 L327.1 125.5 L327.4 125.5 L327.7 125.5 L328 125.5 L328.4 125.5 L328.7 125.5 L329 125.5 L329.3 125.5 L329.6 125.5 L329.9 125.5 L330.2 125.5 L330.5 125.5 L330.9 125.5 L331.2 125.5 L331.5 125.5 L331.8 125.5 L332.1 125.5 L332.4 125.5 L332.7 125.5 L333.1 125.5 L333.4 125.5 L333.7 125.5 L334 125.5 L334.3 125.5 L334.6 125.5 L334.9 125.5 L335.3 125.5 L335.6 125.5 L335.9 125.5 L336.2 125.5 L336.5 125.5 L336.8 125.5 L337.1 125.5 L337.4 125.5 L337.8 125.5 L338.1 125.5 L338.4 125.5 L338.7 125.5 L339 125.5 L339.3 125.5 L339.6 125.5 L340 125.5 L340.3 125.5 L340.6 125.5 L340.9 125.5 L341.2 125.5 L341.5 125.5 L341.8 125.5 L342.1 125.5 L342.5 125.5 L342.8 125.5 L343.1 125.5 L343.4 125.5 L343.7 125.5 L344 125.5 L344.3 125.5 L344.7 125.5 L345 125.5 L345.3 125.5 L345.6 125.5 L345.9 125.5 L346.2 125.5 L346.5 125.5 L346.9 125.5 L347.2 125.5 L347.5 125.5 L347.8 125.5 L348.1 125.5 L348.4 125.5 L348.7 125.5 L349 125.5 L349.4 125.5 L349.7 125.5 L350 125.5 L350.3 125.5 L350.6 125.5 L350.9 125.5 L351.2 125.5 L351.6 125.5 L351.9 125.5 L352.2 125.5 L352.5 125.5 L352.8 125.5 L353.1 125.5 L353.4 125.5 L353.8 125.5 L354.1 125.5 L354.4 125.5 L354.7 125.5 L355 125.5 L355.3 125.5 L355.6 125.5 L355.9 125.5 L356.3 125.5 L356.6 125.5 L356.9 125.5 L357.2 125.5 L357.5 125.5 L357.8 125.5 L358.1 125.5 L358.5 125.5 L358.8 125.5 L359.1 125.5 L359.4 125.5 L359.7 125.5 L360 125.5 L360.3 125.5 L360.7 125.5 L361 125.5 L361.3 125.5 L361.6 125.5 L361.9 125.5 L362.2 125.5 L362.5 125.5 L362.8 125.5 L363.2 125.5 L363.5 125.5 L363.8 125.5 L364.1 125.5 L364.4 125.5 L364.7 125.5 L365 125.5 L365.4 125.5 L365.7 125.5 L366 125.5 L366.3 125.5 L366.6 125.5 L366.9 125.5 L367.2 125.5 L367.6 125.5 L367.9 125.5 L368.2 125.5 L368.5 125.5 L368.8 125.5 L369.1 125.5 L369.4 125.5 L369.7 125.5 L370.1 125.5 L370.4 125.5 L370.7 125.5 L371 125.5 L371.3 125.5 L371.6 125.5 L371.9 125.5 L372.3 125.5 L372.6 125.5 L372.9 125.5 L373.2 125.5 L373.5 125.5 L373.8 125.5 L374.1 125.5 L374.4 125.5 L374.8 125.5 L375.1 125.5 L375.4 125.5 L375.7 125.5 L376 125.5 L376.3 125.5 L376.6 125.5 L377 125.5 L377.3 125.5 L377.6 125.5 L377.9 125.5 L378.2 125.5 L378.5 125.5 L378.8 125.5 L379.2 125.5 L379.5 125.5 L379.8 125.5 L380.1 125.5 L380.4 125.5 L380.7 125.5 L381 125.5 L381.3 125.5 L381.7 125.6 L382 125.6 L382.3 125.6 L382.6 125.7 L382.9 125.8 L383.2 125.9 L383.5 126.1 L383.9 126.2 L384.2 126.4 L384.5 126.7 L384.8 127.1 L385.1 127.7 L385.4 128.4 L385.7 129.3 L386.1 130.3 L386.4 131.8 L386.7 134.3 L387 137.7 L387.3 141.8 L387.6 146.2 L387.9 150.9 L388.2 157 L388.6 164.2 L388.9 171.7 L389.2 179 L389.5 186.2 L389.8 193.7 L390.1 201.6 L390.4 210.1 L390.8 220.6 L391.1 231 L391.4 238.7 L391.7 245.1 L392 249.5 L392.3 251.6 L392.6 252.9 L393 253.3 L393.3 251.9 L393.6 249.4 L393.9 246.4 L394.2 243.7 L394.5 242.3 L394.8 242.9 L395.1 245.5 L395.5 249.1 L395.8 252.8 L396.1 255.6 L396.4 256.7 L396.7 255.1 L397 250.8 L397.3 244.3 L397.7 236.2 L398 226.9 L398.3 216.9 L398.6 206.9 L398.9 197.3 L399.2 188.6 L399.5 181.4 L399.9 176.2 L400.2 173.4 L400.5 173.7 L400.8 177.1 L401.1 183.2 L401.4 191.2 L401.7 200.7 L402 211.1 L402.4 221.7 L402.7 232 L403 241.5 L403.3 249.4 L403.6 255.4 L403.9 258.7 L404.2 259 L404.6 257.7 L404.9 255.5 L405.2 252.9 L405.5 250.4 L405.8 248.4 L406.1 247.5 L406.4 248.1 L406.7 249.8 L407.1 252.2 L407.4 254.8 L407.7 257.1 L408 258.7 L408.3 259 L408.6 256.6 L408.9 251.3 L409.3 243.9 L409.6 234.8 L409.9 224.6 L410.2 214 L410.5 203.5 L410.8 193.7 L411.1 185.2 L411.5 178.6 L411.8 174.4 L412.1 173.2 L412.4 175.3 L412.7 180.3 L413 187.5 L413.3 196.5 L413.6 206.5 L414 217.1 L414.3 227.7 L414.6 237.6 L414.9 246.2 L415.2 253.1 L415.5 257.6 L415.8 259.1 L416.2 258.4 L416.5 256.5 L416.8 254 L417.1 251.4 L417.4 249.2 L417.7 247.8 L418 247.7 L418.4 248.9 L418.7 251.1 L419 253.7 L419.3 256.2 L419.6 258.2 L419.9 259.1 L420.2 258 L420.5 253.9 L420.9 247.3 L421.2 238.8 L421.5 229.1 L421.8 218.6 L422.1 208 L422.4 197.8 L422.7 188.7 L423.1 181.2 L423.4 175.8 L423.7 173.3 L424 174 L424.3 177.8 L424.6 184.2 L424.9 192.5 L425.3 202.1 L425.6 212.6 L425.9 223.2 L426.2 233.4 L426.5 242.7 L426.8 250.4 L427.1 256 L427.4 258.9 L427.8 258.9 L428.1 257.4 L428.4 255.1 L428.7 252.5 L429 250.1 L429.3 248.2 L429.6 247.5 L430 248.2 L430.3 250.1 L430.6 252.5 L430.9 255.1 L431.2 257.4 L431.5 258.9 L431.8 258.9 L432.1 256 L432.5 250.4 L432.8 242.7 L433.1 233.4 L433.4 223.1 L433.7 212.5 L434 202.1 L434.3 192.4 L434.7 184.1 L435 177.8 L435.3 174 L435.6 173.3 L435.9 175.9 L436.2 181.2 L436.5 188.7 L436.9 197.9 L437.2 208 L437.5 218.7 L437.8 229.1 L438.1 238.9 L438.4 247.3 L438.7 253.9 L439 258 L439.4 259.1 L439.7 258.2 L440 256.2 L440.3 253.6 L440.6 251.1 L440.9 248.9 L441.2 247.6 L441.6 247.8 L441.9 249.2 L442.2 251.4 L442.5 254 L442.8 256.5 L443.1 258.4 L443.4 259.1 L443.8 257.6 L444.1 253.1 L444.4 246.2 L444.7 237.5 L445 227.6 L445.3 217.1 L445.6 206.5 L445.9 196.4 L446.3 187.5 L446.6 180.2 L446.9 175.3 L447.2 173.2 L447.5 174.4 L447.8 178.6 L448.1 185.3 L448.5 193.8 L448.8 203.6 L449.1 214.1 L449.4 224.7 L449.7 234.8 L450 243.9 L450.3 251.4 L450.7 256.6 L451 259 L451.3 258.7 L451.6 257.1 L451.9 254.8 L452.2 252.1 L452.5 249.7 L452.8 248 L453.2 247.5 L453.5 248.4 L453.8 250.4 L454.1 252.9 L454.4 255.5 L454.7 257.7 L455 259 L455.4 258.7 L455.7 255.3 L456 249.4 L456.3 241.4 L456.6 231.9 L456.9 221.6 L457.2 211 L457.6 200.6 L457.9 191.1 L458.2 183.1 L458.5 177.1 L458.8 173.7 L459.1 173.4 L459.4 176.2 L459.7 181.5 L460.1 188.7 L460.4 197.4 L460.7 207 L461 217 L461.3 226.9 L461.6 236.2 L461.9 244.4 L462.3 250.9 L462.6 255.2 L462.9 256.8 L463.2 255.6 L463.5 252.8 L463.8 249.1 L464.1 245.5 L464.4 242.9 L464.8 242.3 L465.1 243.8 L465.4 246.4 L465.7 249.4 L466 251.9 L466.3 253.3 L466.6 252.9 L467 251.6 L467.3 249.5 L467.6 245.1 L467.9 238.6 L468.2 231 L468.5 220.5 L468.8 210.1 L469.2 201.6 L469.5 193.7 L469.8 186.2 L470.1 178.9 L470.4 171.7 L470.7 164.2 L471 157 L471.3 150.9 L471.7 146.2 L472 141.7 L472.3 137.7 L472.6 134.3 L472.9 131.8 L473.2 130.3 L473.5 129.3 L473.9 128.4 L474.2 127.7 L474.5 127.1 L474.8 126.7 L475.1 126.4 L475.4 126.2 L475.7 126.1 L476.1 125.9 L476.4 125.8 L476.7 125.7 L477 125.6 L477.3 125.6 L477.6 125.6 L477.9 125.5 L478.2 125.5 L478.6 125.5 L478.9 125.5 L479.2 125.5 L479.5 125.5 L479.8 125.5 L480.1 125.5 L480.4 125.5 L480.8 125.5 L481.1 125.5 L481.4 125.5 L481.7 125.5 L482 125.5 L482.3 125.5 L482.6 125.5 L483 125.5 L483.3 125.5 L483.6 125.5 L483.9 125.5 L484.2 125.5 L484.5 125.5 L484.8 125.5 L485.1 125.5 L485.5 125.5 L485.8 125.5 L486.1 125.5 L486.4 125.5 L486.7 125.5 L487 125.5 L487.3 125.5 L487.7 125.5 L488 125.5 L488.3 125.5 L488.6 125.5 L488.9 125.5 L489.2 125.5 L489.5 125.5 L489.9 125.5 L490.2 125.5 L490.5 125.5 L490.8 125.5 L491.1 125.5 L491.4 125.5 L491.7 125.5 L492 125.5 L492.4 125.5 L492.7 125.5 L493 125.5 L493.3 125.5 L493.6 125.5 L493.9 125.5 L494.2 125.5 L494.6 125.5 L494.9 125.5 L495.2 125.5 L495.5 125.5 L495.8 125.5 L496.1 125.5 L496.4 125.5 L496.7 125.5 L497.1 125.5 L497.4 125.5 L497.7 125.5 L498 125.5 L498.3 125.5 L498.6 125.5 L498.9 125.5 L499.3 125.5 L499.6 125.5 L499.9 125.5 L500.2 125.5 L500.5 125.5 L500.8 125.5 L501.1 125.5 L501.5 125.5 L501.8 125.5 L502.1 125.5 L502.4 125.5 L502.7 125.5 L503 125.5 L503.3 125.5 L503.6 125.5 L504 125.5 L504.3 125.5 L504.6 125.5 L504.9 125.5 L505.2 125.5 L505.5 125.5 L505.8 125.5 L506.2 125.5 L506.5 125.5 L506.8 125.5 L507.1 125.5 L507.4 125.5 L507.7 125.5 L508 125.5 L508.4 125.5 L508.7 125.5 L509 125.5 L509.3 125.5 L509.6 125.5 L509.9 125.5 L510.2 125.5 L510.5 125.5 L510.9 125.5 L511.2 125.5 L511.5 125.5 L511.8 125.5 L512.1 125.5 L512.4 125.5 L512.7 125.5 L513.1 125.5 L513.4 125.5 L513.7 125.5 L514 125.5 L514.3 125.5 L514.6 125.5 L514.9 125.5 L515.3 125.5 L515.6 125.5 L515.9 125.5 L516.2 125.5 L516.5 125.5 L516.8 125.5 L517.1 125.5 L517.4 125.5 L517.8 125.5 L518.1 125.5 L518.4 125.5 L518.7 125.5 L519 125.5 L519.3 125.5 L519.6 125.5 L520 125.5 L520.3 125.5 L520.6 125.5 L520.9 125.5 L521.2 125.5 L521.5 125.5 L521.8 125.5 L522.2 125.5 L522.5 125.5 L522.8 125.5 L523.1 125.5 L523.4 125.5 L523.7 125.5 L524 125.5 L524.3 125.5 L524.7 125.5 L525 125.5 L525.3 125.5 L525.6 125.5" stroke="#1e9cf0" stroke-width="1.4" fill="none" stroke-linejoin="round"/>
<line x1="397.6" y1="130.6" x2="413" y2="130.6" stroke="#1e9cf0" stroke-width="1.4"/>
<text x="416.4" y="133.2" font-family="'Liberation Serif', serif" font-size="8.6" font-weight="bold" fill="#111" stroke="#111" stroke-width="0.3" textLength="39.6" lengthAdjust="spacingAndGlyphs">O_Gd<tspan font-size="7.4" dy="1.6">2</tspan><tspan dy="-1.6">O</tspan><tspan font-size="7.4" dy="1.6">3</tspan></text>
<text x="317.4" y="121.7" font-family="'Liberation Serif', serif" font-size="8.6" font-weight="bold" text-anchor="start" fill="#111" stroke="#111" stroke-width="0.3" textLength="53.4" lengthAdjust="spacingAndGlyphs">E<tspan font-size="6.9" dy="2.6">V</tspan><tspan dy="-2.6"> = 3.195 eV</tspan></text>
<text x="469.6" y="117.6" font-family="'Liberation Serif', serif" font-size="8.6" font-weight="bold" text-anchor="start" fill="#111" stroke="#111" stroke-width="0.3" textLength="54.6" lengthAdjust="spacingAndGlyphs">E<tspan font-size="6.9" dy="2.6">V</tspan><tspan dy="-2.6"> = 3.195 eV</tspan></text>
<text x="312.3" y="185.9" font-family="'Liberation Serif', serif" font-size="8.6" font-weight="bold" text-anchor="start" fill="#111" stroke="#111" stroke-width="0.3" textLength="54.5" lengthAdjust="spacingAndGlyphs">E<tspan font-size="6.9" dy="2.6">f</tspan><tspan dy="-2.6"> = -1.182 eV</tspan></text>
<text x="403" y="270.2" font-family="'Liberation Serif', serif" font-size="8.6" font-weight="bold" text-anchor="start" fill="#111" stroke="#111" stroke-width="0.3" >&#934; = 4.377 eV</text>
<rect x="50.9" y="344.6" width="218.3" height="51.7" fill="none" stroke="#b4b4b4" stroke-width="1.0"/>
<rect x="300.3" y="343.2" width="223.6" height="52.9" fill="none" stroke="#9c9c9c" stroke-width="1.2"/>
<text x="35.3" y="361.6" font-family="'Liberation Serif', serif" font-size="13" font-weight="bold" text-anchor="middle" fill="#111" stroke="#111" stroke-width="0.3" >(b)</text>
<line x1="17.9" y1="394.5" x2="17.9" y2="382" stroke="#d01010" stroke-width="2"/>
<path d="M15.1 383.5 L17.9 377 L20.7 383.5 Z" fill="#d01010"/>
<line x1="17.9" y1="394.5" x2="34.9" y2="394.5" stroke="#1010e0" stroke-width="2"/>
<path d="M33.4 391.7 L39.9 394.5 L33.4 397.3 Z" fill="#1010e0"/>
<circle cx="17.9" cy="394.5" r="1.9" fill="#138a13" stroke="#0a3a0a" stroke-width="0.6"/>
<text x="18.2" y="373.5" font-family="'Liberation Sans', sans-serif" font-size="5.5" font-weight="bold" text-anchor="middle" fill="#333" stroke="#333" stroke-width="0.3" >a</text>
<text x="45.9" y="396.5" font-family="'Liberation Sans', sans-serif" font-size="5.5" font-weight="bold" text-anchor="middle" fill="#333" stroke="#333" stroke-width="0.3" >c</text>
<line x1="109.7" y1="344.6" x2="116.4" y2="344.6" stroke="#e2c2c2" stroke-width="1.8"/>
<line x1="98.9" y1="335" x2="96.8" y2="327.1" stroke="#e2c2c2" stroke-width="1.8"/>
<line x1="103.9" y1="354.2" x2="106" y2="362.1" stroke="#e2c2c2" stroke-width="1.8"/>
<line x1="109.7" y1="370.4" x2="116.4" y2="370.4" stroke="#e2c2c2" stroke-width="1.8"/>
<line x1="98.9" y1="360.8" x2="96.8" y2="352.9" stroke="#e2c2c2" stroke-width="1.8"/>
<line x1="103.9" y1="380" x2="106" y2="387.9" stroke="#e2c2c2" stroke-width="1.8"/>
<line x1="109.7" y1="396.2" x2="116.4" y2="396.2" stroke="#e2c2c2" stroke-width="1.8"/>
<line x1="98.9" y1="386.6" x2="96.8" y2="378.7" stroke="#e2c2c2" stroke-width="1.8"/>
<line x1="103.9" y1="405.8" x2="106" y2="413.7" stroke="#e2c2c2" stroke-width="1.8"/>
<line x1="129.3" y1="361.8" x2="136.1" y2="361.8" stroke="#e2c2c2" stroke-width="1.8"/>
<line x1="112.8" y1="361.8" x2="106.1" y2="361.8" stroke="#e2c2c2" stroke-width="1.8"/>
<line x1="118.6" y1="352.2" x2="116.5" y2="344.3" stroke="#e2c2c2" stroke-width="1.8"/>
<line x1="123.6" y1="371.4" x2="125.7" y2="379.3" stroke="#e2c2c2" stroke-width="1.8"/>
<line x1="129.3" y1="387.9" x2="136.1" y2="387.9" stroke="#e2c2c2" stroke-width="1.8"/>
<line x1="112.8" y1="387.9" x2="106.1" y2="387.9" stroke="#e2c2c2" stroke-width="1.8"/>
<line x1="118.6" y1="378.3" x2="116.5" y2="370.4" stroke="#e2c2c2" stroke-width="1.8"/>
<line x1="123.6" y1="397.5" x2="125.7" y2="405.4" stroke="#e2c2c2" stroke-width="1.8"/>
<line x1="148.6" y1="353.4" x2="155.3" y2="353.4" stroke="#e2c2c2" stroke-width="1.8"/>
<line x1="132.1" y1="353.4" x2="125.3" y2="353.4" stroke="#e2c2c2" stroke-width="1.8"/>
<line x1="137.8" y1="343.8" x2="135.7" y2="335.9" stroke="#e2c2c2" stroke-width="1.8"/>
<line x1="142.8" y1="363" x2="144.9" y2="370.9" stroke="#e2c2c2" stroke-width="1.8"/>
<line x1="148.6" y1="379.2" x2="155.3" y2="379.2" stroke="#e2c2c2" stroke-width="1.8"/>
<line x1="132.1" y1="379.2" x2="125.3" y2="379.2" stroke="#e2c2c2" stroke-width="1.8"/>
<line x1="137.8" y1="369.6" x2="135.7" y2="361.7" stroke="#e2c2c2" stroke-width="1.8"/>
<line x1="142.8" y1="388.8" x2="144.9" y2="396.7" stroke="#e2c2c2" stroke-width="1.8"/>
<line x1="167.9" y1="344.6" x2="174.7" y2="344.6" stroke="#e2c2c2" stroke-width="1.8"/>
<line x1="151.4" y1="344.6" x2="144.7" y2="344.6" stroke="#e2c2c2" stroke-width="1.8"/>
<line x1="157.2" y1="335" x2="155.1" y2="327.1" stroke="#e2c2c2" stroke-width="1.8"/>
<line x1="162.2" y1="354.2" x2="164.3" y2="362.1" stroke="#e2c2c2" stroke-width="1.8"/>
<line x1="167.9" y1="370.4" x2="174.7" y2="370.4" stroke="#e2c2c2" stroke-width="1.8"/>
<line x1="151.4" y1="370.4" x2="144.7" y2="370.4" stroke="#e2c2c2" stroke-width="1.8"/>
<line x1="157.2" y1="360.8" x2="155.1" y2="352.9" stroke="#e2c2c2" stroke-width="1.8"/>
<line x1="162.2" y1="380" x2="164.3" y2="387.9" stroke="#e2c2c2" stroke-width="1.8"/>
<line x1="167.9" y1="396.2" x2="174.7" y2="396.2" stroke="#e2c2c2" stroke-width="1.8"/>
<line x1="151.4" y1="396.2" x2="144.7" y2="396.2" stroke="#e2c2c2" stroke-width="1.8"/>
<line x1="157.2" y1="386.6" x2="155.1" y2="378.7" stroke="#e2c2c2" stroke-width="1.8"/>
<line x1="162.2" y1="405.8" x2="164.3" y2="413.7" stroke="#e2c2c2" stroke-width="1.8"/>
<line x1="187.2" y1="361.8" x2="194" y2="361.8" stroke="#e2c2c2" stroke-width="1.8"/>
<line x1="170.8" y1="361.8" x2="164" y2="361.8" stroke="#e2c2c2" stroke-width="1.8"/>
<line x1="176.5" y1="352.2" x2="174.4" y2="344.3" stroke="#e2c2c2" stroke-width="1.8"/>
<line x1="181.5" y1="371.4" x2="183.6" y2="379.3" stroke="#e2c2c2" stroke-width="1.8"/>
<line x1="187.2" y1="387.9" x2="194" y2="387.9" stroke="#e2c2c2" stroke-width="1.8"/>
<line x1="170.8" y1="387.9" x2="164" y2="387.9" stroke="#e2c2c2" stroke-width="1.8"/>
<line x1="176.5" y1="378.3" x2="174.4" y2="370.4" stroke="#e2c2c2" stroke-width="1.8"/>
<line x1="181.5" y1="397.5" x2="183.6" y2="405.4" stroke="#e2c2c2" stroke-width="1.8"/>
<line x1="206.3" y1="353.4" x2="213.1" y2="353.4" stroke="#e2c2c2" stroke-width="1.8"/>
<line x1="189.8" y1="353.4" x2="183.1" y2="353.4" stroke="#e2c2c2" stroke-width="1.8"/>
<line x1="195.6" y1="343.8" x2="193.5" y2="335.9" stroke="#e2c2c2" stroke-width="1.8"/>
<line x1="200.6" y1="363" x2="202.7" y2="370.9" stroke="#e2c2c2" stroke-width="1.8"/>
<line x1="206.3" y1="379.2" x2="213.1" y2="379.2" stroke="#e2c2c2" stroke-width="1.8"/>
<line x1="189.8" y1="379.2" x2="183.1" y2="379.2" stroke="#e2c2c2" stroke-width="1.8"/>
<line x1="195.6" y1="369.6" x2="193.5" y2="361.7" stroke="#e2c2c2" stroke-width="1.8"/>
<line x1="200.6" y1="388.8" x2="202.7" y2="396.7" stroke="#e2c2c2" stroke-width="1.8"/>
<line x1="208.9" y1="344.6" x2="202.2" y2="344.6" stroke="#e2c2c2" stroke-width="1.8"/>
<line x1="214.7" y1="335" x2="212.6" y2="327.1" stroke="#e2c2c2" stroke-width="1.8"/>
<line x1="219.7" y1="354.2" x2="221.8" y2="362.1" stroke="#e2c2c2" stroke-width="1.8"/>
<line x1="208.9" y1="370.4" x2="202.2" y2="370.4" stroke="#e2c2c2" stroke-width="1.8"/>
<line x1="214.7" y1="360.8" x2="212.6" y2="352.9" stroke="#e2c2c2" stroke-width="1.8"/>
<line x1="219.7" y1="380" x2="221.8" y2="387.9" stroke="#e2c2c2" stroke-width="1.8"/>
<line x1="208.9" y1="396.2" x2="202.2" y2="396.2" stroke="#e2c2c2" stroke-width="1.8"/>
<line x1="214.7" y1="386.6" x2="212.6" y2="378.7" stroke="#e2c2c2" stroke-width="1.8"/>
<line x1="219.7" y1="405.8" x2="221.8" y2="413.7" stroke="#e2c2c2" stroke-width="1.8"/>
<line x1="101.4" y1="344.6" x2="110.1" y2="344.6" stroke="#c428e6" stroke-width="1.9"/>
<line x1="101.4" y1="344.6" x2="98.7" y2="334.5" stroke="#c428e6" stroke-width="1.9"/>
<line x1="101.4" y1="344.6" x2="104.1" y2="354.8" stroke="#c428e6" stroke-width="1.9"/>
<line x1="101.4" y1="370.4" x2="110.1" y2="370.4" stroke="#c428e6" stroke-width="1.9"/>
<line x1="101.4" y1="370.4" x2="98.7" y2="360.2" stroke="#c428e6" stroke-width="1.9"/>
<line x1="101.4" y1="370.4" x2="104.1" y2="380.5" stroke="#c428e6" stroke-width="1.9"/>
<line x1="101.4" y1="396.2" x2="110.1" y2="396.2" stroke="#c428e6" stroke-width="1.9"/>
<line x1="101.4" y1="396.2" x2="98.7" y2="386.1" stroke="#c428e6" stroke-width="1.9"/>
<line x1="101.4" y1="396.2" x2="104.1" y2="406.3" stroke="#c428e6" stroke-width="1.9"/>
<line x1="121.1" y1="361.8" x2="129.8" y2="361.8" stroke="#c428e6" stroke-width="1.9"/>
<line x1="121.1" y1="361.8" x2="112.4" y2="361.8" stroke="#c428e6" stroke-width="1.9"/>
<line x1="121.1" y1="361.8" x2="118.4" y2="351.7" stroke="#c428e6" stroke-width="1.9"/>
<line x1="121.1" y1="361.8" x2="123.8" y2="371.9" stroke="#c428e6" stroke-width="1.9"/>
<line x1="121.1" y1="387.9" x2="129.8" y2="387.9" stroke="#c428e6" stroke-width="1.9"/>
<line x1="121.1" y1="387.9" x2="112.4" y2="387.9" stroke="#c428e6" stroke-width="1.9"/>
<line x1="121.1" y1="387.9" x2="118.4" y2="377.8" stroke="#c428e6" stroke-width="1.9"/>
<line x1="121.1" y1="387.9" x2="123.8" y2="398" stroke="#c428e6" stroke-width="1.9"/>
<line x1="140.3" y1="353.4" x2="149" y2="353.4" stroke="#c428e6" stroke-width="1.9"/>
<line x1="140.3" y1="353.4" x2="131.6" y2="353.4" stroke="#c428e6" stroke-width="1.9"/>
<line x1="140.3" y1="353.4" x2="137.6" y2="343.2" stroke="#c428e6" stroke-width="1.9"/>
<line x1="140.3" y1="353.4" x2="143" y2="363.5" stroke="#c428e6" stroke-width="1.9"/>
<line x1="140.3" y1="379.2" x2="149" y2="379.2" stroke="#c428e6" stroke-width="1.9"/>
<line x1="140.3" y1="379.2" x2="131.6" y2="379.2" stroke="#c428e6" stroke-width="1.9"/>
<line x1="140.3" y1="379.2" x2="137.6" y2="369.1" stroke="#c428e6" stroke-width="1.9"/>
<line x1="140.3" y1="379.2" x2="143" y2="389.3" stroke="#c428e6" stroke-width="1.9"/>
<line x1="159.7" y1="344.6" x2="168.4" y2="344.6" stroke="#c428e6" stroke-width="1.9"/>
<line x1="159.7" y1="344.6" x2="151" y2="344.6" stroke="#c428e6" stroke-width="1.9"/>
<line x1="159.7" y1="344.6" x2="157" y2="334.5" stroke="#c428e6" stroke-width="1.9"/>
<line x1="159.7" y1="344.6" x2="162.4" y2="354.8" stroke="#c428e6" stroke-width="1.9"/>
<line x1="159.7" y1="370.4" x2="168.4" y2="370.4" stroke="#c428e6" stroke-width="1.9"/>
<line x1="159.7" y1="370.4" x2="151" y2="370.4" stroke="#c428e6" stroke-width="1.9"/>
<line x1="159.7" y1="370.4" x2="157" y2="360.2" stroke="#c428e6" stroke-width="1.9"/>
<line x1="159.7" y1="370.4" x2="162.4" y2="380.5" stroke="#c428e6" stroke-width="1.9"/>
<line x1="159.7" y1="396.2" x2="168.4" y2="396.2" stroke="#c428e6" stroke-width="1.9"/>
<line x1="159.7" y1="396.2" x2="151" y2="396.2" stroke="#c428e6" stroke-width="1.9"/>
<line x1="159.7" y1="396.2" x2="157" y2="386.1" stroke="#c428e6" stroke-width="1.9"/>
<line x1="159.7" y1="396.2" x2="162.4" y2="406.3" stroke="#c428e6" stroke-width="1.9"/>
<line x1="179" y1="361.8" x2="187.7" y2="361.8" stroke="#c428e6" stroke-width="1.9"/>
<line x1="179" y1="361.8" x2="170.3" y2="361.8" stroke="#c428e6" stroke-width="1.9"/>
<line x1="179" y1="361.8" x2="176.3" y2="351.7" stroke="#c428e6" stroke-width="1.9"/>
<line x1="179" y1="361.8" x2="181.7" y2="371.9" stroke="#c428e6" stroke-width="1.9"/>
<line x1="179" y1="387.9" x2="187.7" y2="387.9" stroke="#c428e6" stroke-width="1.9"/>
<line x1="179" y1="387.9" x2="170.3" y2="387.9" stroke="#c428e6" stroke-width="1.9"/>
<line x1="179" y1="387.9" x2="176.3" y2="377.8" stroke="#c428e6" stroke-width="1.9"/>
<line x1="179" y1="387.9" x2="181.7" y2="398" stroke="#c428e6" stroke-width="1.9"/>
<line x1="198.1" y1="353.4" x2="206.8" y2="353.4" stroke="#c428e6" stroke-width="1.9"/>
<line x1="198.1" y1="353.4" x2="189.4" y2="353.4" stroke="#c428e6" stroke-width="1.9"/>
<line x1="198.1" y1="353.4" x2="195.4" y2="343.2" stroke="#c428e6" stroke-width="1.9"/>
<line x1="198.1" y1="353.4" x2="200.8" y2="363.5" stroke="#c428e6" stroke-width="1.9"/>
<line x1="198.1" y1="379.2" x2="206.8" y2="379.2" stroke="#c428e6" stroke-width="1.9"/>
<line x1="198.1" y1="379.2" x2="189.4" y2="379.2" stroke="#c428e6" stroke-width="1.9"/>
<line x1="198.1" y1="379.2" x2="195.4" y2="369.1" stroke="#c428e6" stroke-width="1.9"/>
<line x1="198.1" y1="379.2" x2="200.8" y2="389.3" stroke="#c428e6" stroke-width="1.9"/>
<line x1="217.2" y1="344.6" x2="208.5" y2="344.6" stroke="#c428e6" stroke-width="1.9"/>
<line x1="217.2" y1="344.6" x2="214.5" y2="334.5" stroke="#c428e6" stroke-width="1.9"/>
<line x1="217.2" y1="344.6" x2="219.9" y2="354.8" stroke="#c428e6" stroke-width="1.9"/>
<line x1="217.2" y1="370.4" x2="208.5" y2="370.4" stroke="#c428e6" stroke-width="1.9"/>
<line x1="217.2" y1="370.4" x2="214.5" y2="360.2" stroke="#c428e6" stroke-width="1.9"/>
<line x1="217.2" y1="370.4" x2="219.9" y2="380.5" stroke="#c428e6" stroke-width="1.9"/>
<line x1="217.2" y1="396.2" x2="208.5" y2="396.2" stroke="#c428e6" stroke-width="1.9"/>
<line x1="217.2" y1="396.2" x2="214.5" y2="386.1" stroke="#c428e6" stroke-width="1.9"/>
<line x1="217.2" y1="396.2" x2="219.9" y2="406.3" stroke="#c428e6" stroke-width="1.9"/>
<circle cx="116.4" cy="344.6" r="1.3" fill="#f6e4e4" stroke="#d8b0b0" stroke-width="0.5"/>
<circle cx="96.8" cy="327.1" r="1.3" fill="#f6e4e4" stroke="#d8b0b0" stroke-width="0.5"/>
<circle cx="106.1" cy="361.8" r="1.3" fill="#f6e4e4" stroke="#d8b0b0" stroke-width="0.5"/>
<circle cx="116.5" cy="370.4" r="1.3" fill="#f6e4e4" stroke="#d8b0b0" stroke-width="0.5"/>
<circle cx="96.8" cy="352.9" r="1.3" fill="#f6e4e4" stroke="#d8b0b0" stroke-width="0.5"/>
<circle cx="106.1" cy="387.9" r="1.3" fill="#f6e4e4" stroke="#d8b0b0" stroke-width="0.5"/>
<circle cx="116.4" cy="396.2" r="1.3" fill="#f6e4e4" stroke="#d8b0b0" stroke-width="0.5"/>
<circle cx="96.8" cy="378.7" r="1.3" fill="#f6e4e4" stroke="#d8b0b0" stroke-width="0.5"/>
<circle cx="106" cy="413.7" r="1.3" fill="#f6e4e4" stroke="#d8b0b0" stroke-width="0.5"/>
<circle cx="135.7" cy="361.7" r="1.3" fill="#f6e4e4" stroke="#d8b0b0" stroke-width="0.5"/>
<circle cx="116.5" cy="344.3" r="1.3" fill="#f6e4e4" stroke="#d8b0b0" stroke-width="0.5"/>
<circle cx="125.7" cy="379.3" r="1.3" fill="#f6e4e4" stroke="#d8b0b0" stroke-width="0.5"/>
<circle cx="136.1" cy="387.9" r="1.3" fill="#f6e4e4" stroke="#d8b0b0" stroke-width="0.5"/>
<circle cx="125.7" cy="405.4" r="1.3" fill="#f6e4e4" stroke="#d8b0b0" stroke-width="0.5"/>
<circle cx="155.1" cy="352.9" r="1.3" fill="#f6e4e4" stroke="#d8b0b0" stroke-width="0.5"/>
<circle cx="125.3" cy="353.4" r="1.3" fill="#f6e4e4" stroke="#d8b0b0" stroke-width="0.5"/>
<circle cx="135.7" cy="335.9" r="1.3" fill="#f6e4e4" stroke="#d8b0b0" stroke-width="0.5"/>
<circle cx="144.9" cy="370.9" r="1.3" fill="#f6e4e4" stroke="#d8b0b0" stroke-width="0.5"/>
<circle cx="155.1" cy="378.7" r="1.3" fill="#f6e4e4" stroke="#d8b0b0" stroke-width="0.5"/>
<circle cx="125.3" cy="379.2" r="1.3" fill="#f6e4e4" stroke="#d8b0b0" stroke-width="0.5"/>
<circle cx="144.9" cy="396.7" r="1.3" fill="#f6e4e4" stroke="#d8b0b0" stroke-width="0.5"/>
<circle cx="174.7" cy="344.6" r="1.3" fill="#f6e4e4" stroke="#d8b0b0" stroke-width="0.5"/>
<circle cx="144.7" cy="344.6" r="1.3" fill="#f6e4e4" stroke="#d8b0b0" stroke-width="0.5"/>
<circle cx="155.1" cy="327.1" r="1.3" fill="#f6e4e4" stroke="#d8b0b0" stroke-width="0.5"/>
<circle cx="164" cy="361.8" r="1.3" fill="#f6e4e4" stroke="#d8b0b0" stroke-width="0.5"/>
<circle cx="174.7" cy="370.4" r="1.3" fill="#f6e4e4" stroke="#d8b0b0" stroke-width="0.5"/>
<circle cx="144.7" cy="370.4" r="1.3" fill="#f6e4e4" stroke="#d8b0b0" stroke-width="0.5"/>
<circle cx="164" cy="387.9" r="1.3" fill="#f6e4e4" stroke="#d8b0b0" stroke-width="0.5"/>
<circle cx="174.7" cy="396.2" r="1.3" fill="#f6e4e4" stroke="#d8b0b0" stroke-width="0.5"/>
<circle cx="144.7" cy="396.2" r="1.3" fill="#f6e4e4" stroke="#d8b0b0" stroke-width="0.5"/>
<circle cx="164.3" cy="413.7" r="1.3" fill="#f6e4e4" stroke="#d8b0b0" stroke-width="0.5"/>
<circle cx="193.5" cy="361.7" r="1.3" fill="#f6e4e4" stroke="#d8b0b0" stroke-width="0.5"/>
<circle cx="174.4" cy="344.3" r="1.3" fill="#f6e4e4" stroke="#d8b0b0" stroke-width="0.5"/>
<circle cx="183.6" cy="379.3" r="1.3" fill="#f6e4e4" stroke="#d8b0b0" stroke-width="0.5"/>
<circle cx="194" cy="387.9" r="1.3" fill="#f6e4e4" stroke="#d8b0b0" stroke-width="0.5"/>
<circle cx="174.4" cy="370.4" r="1.3" fill="#f6e4e4" stroke="#d8b0b0" stroke-width="0.5"/>
<circle cx="183.6" cy="405.4" r="1.3" fill="#f6e4e4" stroke="#d8b0b0" stroke-width="0.5"/>
<circle cx="212.6" cy="352.9" r="1.3" fill="#f6e4e4" stroke="#d8b0b0" stroke-width="0.5"/>
<circle cx="183.1" cy="353.4" r="1.3" fill="#f6e4e4" stroke="#d8b0b0" stroke-width="0.5"/>
<circle cx="193.5" cy="335.9" r="1.3" fill="#f6e4e4" stroke="#d8b0b0" stroke-width="0.5"/>
<circle cx="202.7" cy="370.9" r="1.3" fill="#f6e4e4" stroke="#d8b0b0" stroke-width="0.5"/>
<circle cx="212.6" cy="378.7" r="1.3" fill="#f6e4e4" stroke="#d8b0b0" stroke-width="0.5"/>
<circle cx="183.1" cy="379.2" r="1.3" fill="#f6e4e4" stroke="#d8b0b0" stroke-width="0.5"/>
<circle cx="202.7" cy="396.7" r="1.3" fill="#f6e4e4" stroke="#d8b0b0" stroke-width="0.5"/>
<circle cx="202.2" cy="344.6" r="1.3" fill="#f6e4e4" stroke="#d8b0b0" stroke-width="0.5"/>
<circle cx="212.6" cy="327.1" r="1.3" fill="#f6e4e4" stroke="#d8b0b0" stroke-width="0.5"/>
<circle cx="221.8" cy="362.1" r="1.3" fill="#f6e4e4" stroke="#d8b0b0" stroke-width="0.5"/>
<circle cx="202.2" cy="370.4" r="1.3" fill="#f6e4e4" stroke="#d8b0b0" stroke-width="0.5"/>
<circle cx="221.8" cy="387.9" r="1.3" fill="#f6e4e4" stroke="#d8b0b0" stroke-width="0.5"/>
<circle cx="202.2" cy="396.2" r="1.3" fill="#f6e4e4" stroke="#d8b0b0" stroke-width="0.5"/>
<circle cx="221.8" cy="413.7" r="1.3" fill="#f6e4e4" stroke="#d8b0b0" stroke-width="0.5"/>
<ellipse cx="101.4" cy="344.6" rx="4.8" ry="4.8" fill="url(#gGd)"/>
<ellipse cx="101.4" cy="370.4" rx="4.8" ry="4.8" fill="url(#gGd)"/>
<ellipse cx="101.4" cy="396.2" rx="4.8" ry="4.8" fill="url(#gGd)"/>
<ellipse cx="121.1" cy="361.8" rx="4.8" ry="4.8" fill="url(#gGd)"/>
<ellipse cx="121.1" cy="387.9" rx="4.8" ry="4.8" fill="url(#gGd)"/>
<ellipse cx="140.3" cy="353.4" rx="4.8" ry="4.8" fill="url(#gGd)"/>
<ellipse cx="140.3" cy="379.2" rx="4.8" ry="4.8" fill="url(#gGd)"/>
<ellipse cx="159.7" cy="344.6" rx="4.8" ry="4.8" fill="url(#gGd)"/>
<ellipse cx="159.7" cy="370.4" rx="4.8" ry="4.8" fill="url(#gGd)"/>
<ellipse cx="159.7" cy="396.2" rx="4.8" ry="4.8" fill="url(#gGd)"/>
<ellipse cx="179" cy="361.8" rx="4.8" ry="4.8" fill="url(#gGd)"/>
<ellipse cx="179" cy="387.9" rx="4.8" ry="4.8" fill="url(#gGd)"/>
<ellipse cx="198.1" cy="353.4" rx="4.8" ry="4.8" fill="url(#gGd)"/>
<ellipse cx="198.1" cy="379.2" rx="4.8" ry="4.8" fill="url(#gGd)"/>
<ellipse cx="217.2" cy="344.6" rx="4.8" ry="4.8" fill="url(#gGd)"/>
<ellipse cx="217.2" cy="370.4" rx="4.8" ry="4.8" fill="url(#gGd)"/>
<ellipse cx="217.2" cy="396.2" rx="4.8" ry="4.8" fill="url(#gGd)"/>
<line x1="364.1" y1="343.3" x2="370.8" y2="343.3" stroke="#e2c2c2" stroke-width="1.8"/>
<line x1="358.4" y1="333.7" x2="360.6" y2="325.9" stroke="#e2c2c2" stroke-width="1.8"/>
<line x1="353.2" y1="352.9" x2="351" y2="360.7" stroke="#e2c2c2" stroke-width="1.8"/>
<line x1="364.1" y1="369.5" x2="370.8" y2="369.5" stroke="#e2c2c2" stroke-width="1.8"/>
<line x1="358.4" y1="359.9" x2="360.6" y2="352.1" stroke="#e2c2c2" stroke-width="1.8"/>
<line x1="353.2" y1="379.1" x2="351" y2="386.9" stroke="#e2c2c2" stroke-width="1.8"/>
<line x1="364.1" y1="395" x2="370.8" y2="395" stroke="#e2c2c2" stroke-width="1.8"/>
<line x1="358.4" y1="385.4" x2="360.6" y2="377.6" stroke="#e2c2c2" stroke-width="1.8"/>
<line x1="353.2" y1="404.6" x2="351" y2="412.4" stroke="#e2c2c2" stroke-width="1.8"/>
<line x1="383.9" y1="351.7" x2="390.6" y2="351.7" stroke="#e2c2c2" stroke-width="1.8"/>
<line x1="367.4" y1="351.7" x2="360.6" y2="351.7" stroke="#e2c2c2" stroke-width="1.8"/>
<line x1="378.2" y1="342.1" x2="380.4" y2="334.3" stroke="#e2c2c2" stroke-width="1.8"/>
<line x1="373" y1="361.3" x2="370.8" y2="369.1" stroke="#e2c2c2" stroke-width="1.8"/>
<line x1="383.9" y1="378.4" x2="390.6" y2="378.4" stroke="#e2c2c2" stroke-width="1.8"/>
<line x1="367.4" y1="378.4" x2="360.6" y2="378.4" stroke="#e2c2c2" stroke-width="1.8"/>
<line x1="378.2" y1="368.8" x2="380.4" y2="361" stroke="#e2c2c2" stroke-width="1.8"/>
<line x1="373" y1="388" x2="370.8" y2="395.8" stroke="#e2c2c2" stroke-width="1.8"/>
<line x1="402.9" y1="360.6" x2="409.7" y2="360.6" stroke="#e2c2c2" stroke-width="1.8"/>
<line x1="386.4" y1="360.6" x2="379.7" y2="360.6" stroke="#e2c2c2" stroke-width="1.8"/>
<line x1="397.3" y1="351" x2="399.5" y2="343.2" stroke="#e2c2c2" stroke-width="1.8"/>
<line x1="392.1" y1="370.2" x2="389.9" y2="378" stroke="#e2c2c2" stroke-width="1.8"/>
<line x1="402.9" y1="386.6" x2="409.7" y2="386.6" stroke="#e2c2c2" stroke-width="1.8"/>
<line x1="386.4" y1="386.6" x2="379.7" y2="386.6" stroke="#e2c2c2" stroke-width="1.8"/>
<line x1="397.3" y1="377" x2="399.5" y2="369.2" stroke="#e2c2c2" stroke-width="1.8"/>
<line x1="392.1" y1="396.2" x2="389.9" y2="404" stroke="#e2c2c2" stroke-width="1.8"/>
<line x1="422.6" y1="343.3" x2="429.3" y2="343.3" stroke="#e2c2c2" stroke-width="1.8"/>
<line x1="406.1" y1="343.3" x2="399.3" y2="343.3" stroke="#e2c2c2" stroke-width="1.8"/>
<line x1="416.9" y1="333.7" x2="419.1" y2="325.9" stroke="#e2c2c2" stroke-width="1.8"/>
<line x1="411.7" y1="352.9" x2="409.5" y2="360.7" stroke="#e2c2c2" stroke-width="1.8"/>
<line x1="422.6" y1="369.5" x2="429.3" y2="369.5" stroke="#e2c2c2" stroke-width="1.8"/>
<line x1="406.1" y1="369.5" x2="399.3" y2="369.5" stroke="#e2c2c2" stroke-width="1.8"/>
<line x1="416.9" y1="359.9" x2="419.1" y2="352.1" stroke="#e2c2c2" stroke-width="1.8"/>
<line x1="411.7" y1="379.1" x2="409.5" y2="386.9" stroke="#e2c2c2" stroke-width="1.8"/>
<line x1="422.6" y1="395" x2="429.3" y2="395" stroke="#e2c2c2" stroke-width="1.8"/>
<line x1="406.1" y1="395" x2="399.3" y2="395" stroke="#e2c2c2" stroke-width="1.8"/>
<line x1="416.9" y1="385.4" x2="419.1" y2="377.6" stroke="#e2c2c2" stroke-width="1.8"/>
<line x1="411.7" y1="404.6" x2="409.5" y2="412.4" stroke="#e2c2c2" stroke-width="1.8"/>
<line x1="442.4" y1="351.7" x2="449.1" y2="351.7" stroke="#e2c2c2" stroke-width="1.8"/>
<line x1="425.9" y1="351.7" x2="419.1" y2="351.7" stroke="#e2c2c2" stroke-width="1.8"/>
<line x1="436.7" y1="342.1" x2="438.9" y2="334.3" stroke="#e2c2c2" stroke-width="1.8"/>
<line x1="431.5" y1="361.3" x2="429.3" y2="369.1" stroke="#e2c2c2" stroke-width="1.8"/>
<line x1="442.4" y1="378.4" x2="449.1" y2="378.4" stroke="#e2c2c2" stroke-width="1.8"/>
<line x1="425.9" y1="378.4" x2="419.1" y2="378.4" stroke="#e2c2c2" stroke-width="1.8"/>
<line x1="436.7" y1="368.8" x2="438.9" y2="361" stroke="#e2c2c2" stroke-width="1.8"/>
<line x1="431.5" y1="388" x2="429.3" y2="395.8" stroke="#e2c2c2" stroke-width="1.8"/>
<line x1="462.8" y1="360.6" x2="469.5" y2="360.6" stroke="#e2c2c2" stroke-width="1.8"/>
<line x1="446.2" y1="360.6" x2="439.5" y2="360.6" stroke="#e2c2c2" stroke-width="1.8"/>
<line x1="457.1" y1="351" x2="459.3" y2="343.2" stroke="#e2c2c2" stroke-width="1.8"/>
<line x1="451.9" y1="370.2" x2="449.7" y2="378" stroke="#e2c2c2" stroke-width="1.8"/>
<line x1="462.8" y1="386.6" x2="469.5" y2="386.6" stroke="#e2c2c2" stroke-width="1.8"/>
<line x1="446.2" y1="386.6" x2="439.5" y2="386.6" stroke="#e2c2c2" stroke-width="1.8"/>
<line x1="457.1" y1="377" x2="459.3" y2="369.2" stroke="#e2c2c2" stroke-width="1.8"/>
<line x1="451.9" y1="396.2" x2="449.7" y2="404" stroke="#e2c2c2" stroke-width="1.8"/>
<line x1="465.4" y1="343.3" x2="458.6" y2="343.3" stroke="#e2c2c2" stroke-width="1.8"/>
<line x1="471" y1="352.9" x2="468.8" y2="360.7" stroke="#e2c2c2" stroke-width="1.8"/>
<line x1="465.4" y1="369.5" x2="458.6" y2="369.5" stroke="#e2c2c2" stroke-width="1.8"/>
<line x1="471" y1="379.1" x2="468.8" y2="386.9" stroke="#e2c2c2" stroke-width="1.8"/>
<line x1="465.4" y1="395" x2="458.6" y2="395" stroke="#e2c2c2" stroke-width="1.8"/>
<line x1="471" y1="404.6" x2="468.8" y2="412.4" stroke="#e2c2c2" stroke-width="1.8"/>
<line x1="355.8" y1="343.3" x2="364.5" y2="343.3" stroke="#c428e6" stroke-width="1.9"/>
<line x1="355.8" y1="343.3" x2="358.6" y2="333.2" stroke="#c428e6" stroke-width="1.9"/>
<line x1="355.8" y1="343.3" x2="353" y2="353.4" stroke="#c428e6" stroke-width="1.9"/>
<line x1="355.8" y1="369.5" x2="364.5" y2="369.5" stroke="#c428e6" stroke-width="1.9"/>
<line x1="355.8" y1="369.5" x2="358.6" y2="359.4" stroke="#c428e6" stroke-width="1.9"/>
<line x1="355.8" y1="369.5" x2="353" y2="379.6" stroke="#c428e6" stroke-width="1.9"/>
<line x1="355.8" y1="395" x2="364.5" y2="395" stroke="#c428e6" stroke-width="1.9"/>
<line x1="355.8" y1="395" x2="358.6" y2="384.9" stroke="#c428e6" stroke-width="1.9"/>
<line x1="355.8" y1="395" x2="353" y2="405.1" stroke="#c428e6" stroke-width="1.9"/>
<line x1="375.6" y1="351.7" x2="384.3" y2="351.7" stroke="#c428e6" stroke-width="1.9"/>
<line x1="375.6" y1="351.7" x2="366.9" y2="351.7" stroke="#c428e6" stroke-width="1.9"/>
<line x1="375.6" y1="351.7" x2="378.4" y2="341.6" stroke="#c428e6" stroke-width="1.9"/>
<line x1="375.6" y1="351.7" x2="372.8" y2="361.8" stroke="#c428e6" stroke-width="1.9"/>
<line x1="375.6" y1="378.4" x2="384.3" y2="378.4" stroke="#c428e6" stroke-width="1.9"/>
<line x1="375.6" y1="378.4" x2="366.9" y2="378.4" stroke="#c428e6" stroke-width="1.9"/>
<line x1="375.6" y1="378.4" x2="378.4" y2="368.3" stroke="#c428e6" stroke-width="1.9"/>
<line x1="375.6" y1="378.4" x2="372.8" y2="388.5" stroke="#c428e6" stroke-width="1.9"/>
<line x1="394.7" y1="360.6" x2="403.4" y2="360.6" stroke="#c428e6" stroke-width="1.9"/>
<line x1="394.7" y1="360.6" x2="386" y2="360.6" stroke="#c428e6" stroke-width="1.9"/>
<line x1="394.7" y1="360.6" x2="397.5" y2="350.5" stroke="#c428e6" stroke-width="1.9"/>
<line x1="394.7" y1="360.6" x2="391.9" y2="370.7" stroke="#c428e6" stroke-width="1.9"/>
<line x1="394.7" y1="386.6" x2="403.4" y2="386.6" stroke="#c428e6" stroke-width="1.9"/>
<line x1="394.7" y1="386.6" x2="386" y2="386.6" stroke="#c428e6" stroke-width="1.9"/>
<line x1="394.7" y1="386.6" x2="397.5" y2="376.5" stroke="#c428e6" stroke-width="1.9"/>
<line x1="394.7" y1="386.6" x2="391.9" y2="396.7" stroke="#c428e6" stroke-width="1.9"/>
<line x1="414.3" y1="343.3" x2="423" y2="343.3" stroke="#c428e6" stroke-width="1.9"/>
<line x1="414.3" y1="343.3" x2="405.6" y2="343.3" stroke="#c428e6" stroke-width="1.9"/>
<line x1="414.3" y1="343.3" x2="417.1" y2="333.2" stroke="#c428e6" stroke-width="1.9"/>
<line x1="414.3" y1="343.3" x2="411.5" y2="353.4" stroke="#c428e6" stroke-width="1.9"/>
<line x1="414.3" y1="369.5" x2="423" y2="369.5" stroke="#c428e6" stroke-width="1.9"/>
<line x1="414.3" y1="369.5" x2="405.6" y2="369.5" stroke="#c428e6" stroke-width="1.9"/>
<line x1="414.3" y1="369.5" x2="417.1" y2="359.4" stroke="#c428e6" stroke-width="1.9"/>
<line x1="414.3" y1="369.5" x2="411.5" y2="379.6" stroke="#c428e6" stroke-width="1.9"/>
<line x1="414.3" y1="395" x2="423" y2="395" stroke="#c428e6" stroke-width="1.9"/>
<line x1="414.3" y1="395" x2="405.6" y2="395" stroke="#c428e6" stroke-width="1.9"/>
<line x1="414.3" y1="395" x2="417.1" y2="384.9" stroke="#c428e6" stroke-width="1.9"/>
<line x1="414.3" y1="395" x2="411.5" y2="405.1" stroke="#c428e6" stroke-width="1.9"/>
<line x1="434.1" y1="351.7" x2="442.8" y2="351.7" stroke="#c428e6" stroke-width="1.9"/>
<line x1="434.1" y1="351.7" x2="425.4" y2="351.7" stroke="#c428e6" stroke-width="1.9"/>
<line x1="434.1" y1="351.7" x2="436.9" y2="341.6" stroke="#c428e6" stroke-width="1.9"/>
<line x1="434.1" y1="351.7" x2="431.3" y2="361.8" stroke="#c428e6" stroke-width="1.9"/>
<line x1="434.1" y1="378.4" x2="442.8" y2="378.4" stroke="#c428e6" stroke-width="1.9"/>
<line x1="434.1" y1="378.4" x2="425.4" y2="378.4" stroke="#c428e6" stroke-width="1.9"/>
<line x1="434.1" y1="378.4" x2="436.9" y2="368.3" stroke="#c428e6" stroke-width="1.9"/>
<line x1="434.1" y1="378.4" x2="431.3" y2="388.5" stroke="#c428e6" stroke-width="1.9"/>
<line x1="454.5" y1="360.6" x2="463.2" y2="360.6" stroke="#c428e6" stroke-width="1.9"/>
<line x1="454.5" y1="360.6" x2="445.8" y2="360.6" stroke="#c428e6" stroke-width="1.9"/>
<line x1="454.5" y1="360.6" x2="457.3" y2="350.5" stroke="#c428e6" stroke-width="1.9"/>
<line x1="454.5" y1="360.6" x2="451.7" y2="370.7" stroke="#c428e6" stroke-width="1.9"/>
<line x1="454.5" y1="386.6" x2="463.2" y2="386.6" stroke="#c428e6" stroke-width="1.9"/>
<line x1="454.5" y1="386.6" x2="445.8" y2="386.6" stroke="#c428e6" stroke-width="1.9"/>
<line x1="454.5" y1="386.6" x2="457.3" y2="376.5" stroke="#c428e6" stroke-width="1.9"/>
<line x1="454.5" y1="386.6" x2="451.7" y2="396.7" stroke="#c428e6" stroke-width="1.9"/>
<line x1="473.6" y1="343.3" x2="464.9" y2="343.3" stroke="#c428e6" stroke-width="1.9"/>
<line x1="473.6" y1="343.3" x2="470.8" y2="353.4" stroke="#c428e6" stroke-width="1.9"/>
<line x1="473.6" y1="369.5" x2="464.9" y2="369.5" stroke="#c428e6" stroke-width="1.9"/>
<line x1="473.6" y1="369.5" x2="470.8" y2="379.6" stroke="#c428e6" stroke-width="1.9"/>
<line x1="473.6" y1="395" x2="464.9" y2="395" stroke="#c428e6" stroke-width="1.9"/>
<line x1="473.6" y1="395" x2="470.8" y2="405.1" stroke="#c428e6" stroke-width="1.9"/>
<circle cx="370.8" cy="343.3" r="1.3" fill="#f6e4e4" stroke="#d8b0b0" stroke-width="0.5"/>
<circle cx="360.6" cy="325.9" r="1.3" fill="#f6e4e4" stroke="#d8b0b0" stroke-width="0.5"/>
<circle cx="351" cy="360.7" r="1.3" fill="#f6e4e4" stroke="#d8b0b0" stroke-width="0.5"/>
<circle cx="370.8" cy="369.5" r="1.3" fill="#f6e4e4" stroke="#d8b0b0" stroke-width="0.5"/>
<circle cx="360.6" cy="351.7" r="1.3" fill="#f6e4e4" stroke="#d8b0b0" stroke-width="0.5"/>
<circle cx="351" cy="386.9" r="1.3" fill="#f6e4e4" stroke="#d8b0b0" stroke-width="0.5"/>
<circle cx="370.8" cy="395" r="1.3" fill="#f6e4e4" stroke="#d8b0b0" stroke-width="0.5"/>
<circle cx="360.6" cy="378.4" r="1.3" fill="#f6e4e4" stroke="#d8b0b0" stroke-width="0.5"/>
<circle cx="351" cy="412.4" r="1.3" fill="#f6e4e4" stroke="#d8b0b0" stroke-width="0.5"/>
<circle cx="390.6" cy="351.7" r="1.3" fill="#f6e4e4" stroke="#d8b0b0" stroke-width="0.5"/>
<circle cx="380.4" cy="334.3" r="1.3" fill="#f6e4e4" stroke="#d8b0b0" stroke-width="0.5"/>
<circle cx="370.8" cy="369.1" r="1.3" fill="#f6e4e4" stroke="#d8b0b0" stroke-width="0.5"/>
<circle cx="390.6" cy="378.4" r="1.3" fill="#f6e4e4" stroke="#d8b0b0" stroke-width="0.5"/>
<circle cx="379.7" cy="360.6" r="1.3" fill="#f6e4e4" stroke="#d8b0b0" stroke-width="0.5"/>
<circle cx="370.8" cy="395.8" r="1.3" fill="#f6e4e4" stroke="#d8b0b0" stroke-width="0.5"/>
<circle cx="409.5" cy="360.7" r="1.3" fill="#f6e4e4" stroke="#d8b0b0" stroke-width="0.5"/>
<circle cx="399.5" cy="343.2" r="1.3" fill="#f6e4e4" stroke="#d8b0b0" stroke-width="0.5"/>
<circle cx="389.9" cy="378" r="1.3" fill="#f6e4e4" stroke="#d8b0b0" stroke-width="0.5"/>
<circle cx="409.5" cy="386.9" r="1.3" fill="#f6e4e4" stroke="#d8b0b0" stroke-width="0.5"/>
<circle cx="379.7" cy="386.6" r="1.3" fill="#f6e4e4" stroke="#d8b0b0" stroke-width="0.5"/>
<circle cx="399.5" cy="369.2" r="1.3" fill="#f6e4e4" stroke="#d8b0b0" stroke-width="0.5"/>
<circle cx="389.9" cy="404" r="1.3" fill="#f6e4e4" stroke="#d8b0b0" stroke-width="0.5"/>
<circle cx="429.3" cy="343.3" r="1.3" fill="#f6e4e4" stroke="#d8b0b0" stroke-width="0.5"/>
<circle cx="399.3" cy="343.3" r="1.3" fill="#f6e4e4" stroke="#d8b0b0" stroke-width="0.5"/>
<circle cx="419.1" cy="325.9" r="1.3" fill="#f6e4e4" stroke="#d8b0b0" stroke-width="0.5"/>
<circle cx="429.3" cy="369.5" r="1.3" fill="#f6e4e4" stroke="#d8b0b0" stroke-width="0.5"/>
<circle cx="399.3" cy="369.5" r="1.3" fill="#f6e4e4" stroke="#d8b0b0" stroke-width="0.5"/>
<circle cx="419.1" cy="351.7" r="1.3" fill="#f6e4e4" stroke="#d8b0b0" stroke-width="0.5"/>
<circle cx="429.3" cy="395" r="1.3" fill="#f6e4e4" stroke="#d8b0b0" stroke-width="0.5"/>
<circle cx="399.3" cy="395" r="1.3" fill="#f6e4e4" stroke="#d8b0b0" stroke-width="0.5"/>
<circle cx="419.1" cy="378.4" r="1.3" fill="#f6e4e4" stroke="#d8b0b0" stroke-width="0.5"/>
<circle cx="409.5" cy="412.4" r="1.3" fill="#f6e4e4" stroke="#d8b0b0" stroke-width="0.5"/>
<circle cx="449.1" cy="351.7" r="1.3" fill="#f6e4e4" stroke="#d8b0b0" stroke-width="0.5"/>
<circle cx="438.9" cy="334.3" r="1.3" fill="#f6e4e4" stroke="#d8b0b0" stroke-width="0.5"/>
<circle cx="429.3" cy="369.1" r="1.3" fill="#f6e4e4" stroke="#d8b0b0" stroke-width="0.5"/>
<circle cx="449.1" cy="378.4" r="1.3" fill="#f6e4e4" stroke="#d8b0b0" stroke-width="0.5"/>
<circle cx="438.9" cy="361" r="1.3" fill="#f6e4e4" stroke="#d8b0b0" stroke-width="0.5"/>
<circle cx="429.3" cy="395.8" r="1.3" fill="#f6e4e4" stroke="#d8b0b0" stroke-width="0.5"/>
<circle cx="469.5" cy="360.6" r="1.3" fill="#f6e4e4" stroke="#d8b0b0" stroke-width="0.5"/>
<circle cx="439.5" cy="360.6" r="1.3" fill="#f6e4e4" stroke="#d8b0b0" stroke-width="0.5"/>
<circle cx="458.6" cy="343.3" r="1.3" fill="#f6e4e4" stroke="#d8b0b0" stroke-width="0.5"/>
<circle cx="449.7" cy="378" r="1.3" fill="#f6e4e4" stroke="#d8b0b0" stroke-width="0.5"/>
<circle cx="469.5" cy="386.6" r="1.3" fill="#f6e4e4" stroke="#d8b0b0" stroke-width="0.5"/>
<circle cx="439.5" cy="386.6" r="1.3" fill="#f6e4e4" stroke="#d8b0b0" stroke-width="0.5"/>
<circle cx="459.3" cy="369.2" r="1.3" fill="#f6e4e4" stroke="#d8b0b0" stroke-width="0.5"/>
<circle cx="449.7" cy="404" r="1.3" fill="#f6e4e4" stroke="#d8b0b0" stroke-width="0.5"/>
<circle cx="468.8" cy="360.7" r="1.3" fill="#f6e4e4" stroke="#d8b0b0" stroke-width="0.5"/>
<circle cx="458.6" cy="369.5" r="1.3" fill="#f6e4e4" stroke="#d8b0b0" stroke-width="0.5"/>
<circle cx="468.8" cy="386.9" r="1.3" fill="#f6e4e4" stroke="#d8b0b0" stroke-width="0.5"/>
<circle cx="458.6" cy="395" r="1.3" fill="#f6e4e4" stroke="#d8b0b0" stroke-width="0.5"/>
<circle cx="468.8" cy="412.4" r="1.3" fill="#f6e4e4" stroke="#d8b0b0" stroke-width="0.5"/>
<ellipse cx="355.8" cy="343.3" rx="4.6" ry="4.6" fill="url(#gGd)"/>
<ellipse cx="355.8" cy="369.5" rx="4.6" ry="4.6" fill="url(#gGd)"/>
<ellipse cx="355.8" cy="395" rx="4.6" ry="4.6" fill="url(#gGd)"/>
<ellipse cx="375.6" cy="351.7" rx="4.6" ry="4.6" fill="url(#gGd)"/>
<ellipse cx="375.6" cy="378.4" rx="4.6" ry="4.6" fill="url(#gGd)"/>
<ellipse cx="394.7" cy="360.6" rx="4.6" ry="4.6" fill="url(#gGd)"/>
<ellipse cx="394.7" cy="386.6" rx="4.6" ry="4.6" fill="url(#gGd)"/>
<ellipse cx="414.3" cy="343.3" rx="4.6" ry="4.6" fill="url(#gGd)"/>
<ellipse cx="414.3" cy="369.5" rx="4.6" ry="4.6" fill="url(#gGd)"/>
<ellipse cx="414.3" cy="395" rx="4.6" ry="4.6" fill="url(#gGd)"/>
<ellipse cx="434.1" cy="351.7" rx="4.6" ry="4.6" fill="url(#gGd)"/>
<ellipse cx="434.1" cy="378.4" rx="4.6" ry="4.6" fill="url(#gGd)"/>
<ellipse cx="454.5" cy="360.6" rx="4.6" ry="4.6" fill="url(#gGd)"/>
<ellipse cx="454.5" cy="386.6" rx="4.6" ry="4.6" fill="url(#gGd)"/>
<ellipse cx="473.6" cy="343.3" rx="4.6" ry="4.6" fill="url(#gGd)"/>
<ellipse cx="473.6" cy="369.5" rx="4.6" ry="4.6" fill="url(#gGd)"/>
<ellipse cx="473.6" cy="395" rx="4.6" ry="4.6" fill="url(#gGd)"/>
<rect x="47.5" y="423.4" width="220.8" height="158.8" fill="none" stroke="#1a1a1a" stroke-width="1.1"/>
<path d="M47.5 582.2v3 M87.6 582.2v3 M127.8 582.2v3 M167.9 582.2v3 M208.1 582.2v3 M248.2 582.2v3 M67.6 582.2v1.6 M107.7 582.2v1.6 M147.9 582.2v1.6 M188 582.2v1.6 M228.2 582.2v1.6 M47.5 423.4h-3 M47.5 448.2h-3 M47.5 472.9h-3 M47.5 497.7h-3 M47.5 522.5h-3 M47.5 547.3h-3 M47.5 572h-3 M47.5 435.8h-1.6 M47.5 460.6h-1.6 M47.5 485.3h-1.6 M47.5 510.1h-1.6 M47.5 534.9h-1.6 M47.5 559.7h-1.6" stroke="#1a1a1a" stroke-width="1.1" fill="none"/>
<text x="47.5" y="592.5" font-family="'Liberation Serif', serif" font-size="8.5" font-weight="bold" text-anchor="middle" fill="#111" stroke="#111" stroke-width="0.3" >0</text>
<text x="87.6" y="592.5" font-family="'Liberation Serif', serif" font-size="8.5" font-weight="bold" text-anchor="middle" fill="#111" stroke="#111" stroke-width="0.3" >10</text>
<text x="127.8" y="592.5" font-family="'Liberation Serif', serif" font-size="8.5" font-weight="bold" text-anchor="middle" fill="#111" stroke="#111" stroke-width="0.3" >20</text>
<text x="167.9" y="592.5" font-family="'Liberation Serif', serif" font-size="8.5" font-weight="bold" text-anchor="middle" fill="#111" stroke="#111" stroke-width="0.3" >30</text>
<text x="208.1" y="592.5" font-family="'Liberation Serif', serif" font-size="8.5" font-weight="bold" text-anchor="middle" fill="#111" stroke="#111" stroke-width="0.3" >40</text>
<text x="248.2" y="592.5" font-family="'Liberation Serif', serif" font-size="8.5" font-weight="bold" text-anchor="middle" fill="#111" stroke="#111" stroke-width="0.3" >50</text>
<text x="42" y="426.3" font-family="'Liberation Serif', serif" font-size="8.5" font-weight="bold" text-anchor="end" fill="#111" stroke="#111" stroke-width="0.3" >4</text>
<text x="42" y="451.1" font-family="'Liberation Serif', serif" font-size="8.5" font-weight="bold" text-anchor="end" fill="#111" stroke="#111" stroke-width="0.3" >2</text>
<text x="42" y="475.8" font-family="'Liberation Serif', serif" font-size="8.5" font-weight="bold" text-anchor="end" fill="#111" stroke="#111" stroke-width="0.3" >0</text>
<text x="42" y="500.6" font-family="'Liberation Serif', serif" font-size="8.5" font-weight="bold" text-anchor="end" fill="#111" stroke="#111" stroke-width="0.3" >&#8722;2</text>
<text x="42" y="525.4" font-family="'Liberation Serif', serif" font-size="8.5" font-weight="bold" text-anchor="end" fill="#111" stroke="#111" stroke-width="0.3" >&#8722;4</text>
<text x="42" y="550.2" font-family="'Liberation Serif', serif" font-size="8.5" font-weight="bold" text-anchor="end" fill="#111" stroke="#111" stroke-width="0.3" >&#8722;6</text>
<text x="42" y="574.9" font-family="'Liberation Serif', serif" font-size="8.5" font-weight="bold" text-anchor="end" fill="#111" stroke="#111" stroke-width="0.3" >&#8722;8</text>
<text x="158" y="607.3" font-family="'Liberation Serif', serif" font-size="9" font-weight="bold" text-anchor="middle" fill="#111" stroke="#111" stroke-width="0.3"  textLength="20.5" lengthAdjust="spacingAndGlyphs">Z (&#197;)</text>
<text transform="translate(29.5,502.5) rotate(-90)" font-family="'Liberation Serif', serif" font-size="8.2" font-weight="bold" text-anchor="middle" fill="#111" stroke="#111" stroke-width="0.3" textLength="55.8" lengthAdjust="spacingAndGlyphs">V Potential (eV)</text>
<line x1="20.2" y1="530.2" x2="20.2" y2="525" stroke="#111" stroke-width="0.7379999999999999"/>
<line x1="47.5" y1="482.6" x2="268.3" y2="482.6" stroke="#2a2a2a" stroke-width="1.35" stroke-dasharray="1.35 4.05" stroke-dashoffset="0.35"/>
<path d="M47.5 442.5 L47.8 442.5 L48.1 442.5 L48.4 442.5 L48.8 442.5 L49.1 442.5 L49.4 442.5 L49.7 442.5 L50 442.5 L50.3 442.5 L50.7 442.5 L51 442.5 L51.3 442.5 L51.6 442.5 L51.9 442.5 L52.2 442.5 L52.6 442.5 L52.9 442.5 L53.2 442.5 L53.5 442.5 L53.8 442.5 L54.1 442.5 L54.4 442.5 L54.8 442.5 L55.1 442.5 L55.4 442.5 L55.7 442.5 L56 442.5 L56.3 442.5 L56.7 442.5 L57 442.5 L57.3 442.5 L57.6 442.5 L57.9 442.5 L58.2 442.5 L58.6 442.5 L58.9 442.5 L59.2 442.5 L59.5 442.5 L59.8 442.5 L60.1 442.5 L60.5 442.5 L60.8 442.5 L61.1 442.5 L61.4 442.5 L61.7 442.5 L62 442.5 L62.3 442.5 L62.7 442.5 L63 442.5 L63.3 442.5 L63.6 442.5 L63.9 442.5 L64.2 442.5 L64.6 442.5 L64.9 442.5 L65.2 442.5 L65.5 442.5 L65.8 442.5 L66.1 442.5 L66.5 442.5 L66.8 442.5 L67.1 442.5 L67.4 442.5 L67.7 442.5 L68 442.5 L68.3 442.5 L68.7 442.5 L69 442.5 L69.3 442.5 L69.6 442.5 L69.9 442.5 L70.2 442.5 L70.6 442.5 L70.9 442.5 L71.2 442.5 L71.5 442.5 L71.8 442.5 L72.1 442.5 L72.5 442.5 L72.8 442.5 L73.1 442.5 L73.4 442.5 L73.7 442.5 L74 442.5 L74.3 442.5 L74.7 442.5 L75 442.5 L75.3 442.5 L75.6 442.5 L75.9 442.5 L76.2 442.5 L76.6 442.5 L76.9 442.5 L77.2 442.5 L77.5 442.5 L77.8 442.5 L78.1 442.5 L78.5 442.5 L78.8 442.5 L79.1 442.5 L79.4 442.5 L79.7 442.5 L80 442.5 L80.4 442.5 L80.7 442.5 L81 442.5 L81.3 442.5 L81.6 442.5 L81.9 442.5 L82.2 442.5 L82.6 442.5 L82.9 442.5 L83.2 442.5 L83.5 442.5 L83.8 442.5 L84.1 442.5 L84.5 442.5 L84.8 442.5 L85.1 442.5 L85.4 442.5 L85.7 442.5 L86 442.5 L86.4 442.5 L86.7 442.5 L87 442.5 L87.3 442.5 L87.6 442.5 L87.9 442.5 L88.2 442.5 L88.6 442.5 L88.9 442.5 L89.2 442.5 L89.5 442.5 L89.8 442.5 L90.1 442.5 L90.5 442.5 L90.8 442.5 L91.1 442.5 L91.4 442.5 L91.7 442.5 L92 442.5 L92.4 442.5 L92.7 442.5 L93 442.5 L93.3 442.5 L93.6 442.5 L93.9 442.5 L94.3 442.5 L94.6 442.5 L94.9 442.5 L95.2 442.5 L95.5 442.5 L95.8 442.5 L96.1 442.5 L96.5 442.5 L96.8 442.5 L97.1 442.5 L97.4 442.5 L97.7 442.5 L98 442.5 L98.4 442.5 L98.7 442.5 L99 442.5 L99.3 442.5 L99.6 442.5 L99.9 442.5 L100.3 442.5 L100.6 442.5 L100.9 442.5 L101.2 442.5 L101.5 442.5 L101.8 442.5 L102.1 442.5 L102.5 442.5 L102.8 442.5 L103.1 442.5 L103.4 442.5 L103.7 442.5 L104 442.5 L104.4 442.5 L104.7 442.5 L105 442.5 L105.3 442.5 L105.6 442.5 L105.9 442.5 L106.3 442.5 L106.6 442.5 L106.9 442.5 L107.2 442.5 L107.5 442.5 L107.8 442.5 L108.1 442.5 L108.5 442.5 L108.8 442.5 L109.1 442.5 L109.4 442.5 L109.7 442.5 L110 442.5 L110.4 442.5 L110.7 442.5 L111 442.5 L111.3 442.5 L111.6 442.5 L111.9 442.5 L112.3 442.5 L112.6 442.5 L112.9 442.5 L113.2 442.5 L113.5 442.6 L113.8 442.6 L114.2 442.6 L114.5 442.6 L114.8 442.7 L115.1 442.7 L115.4 442.8 L115.7 442.8 L116 443 L116.4 443.1 L116.7 443.3 L117 443.5 L117.3 443.8 L117.6 444.2 L117.9 444.7 L118.3 445.3 L118.6 446.1 L118.9 447 L119.2 448.1 L119.5 449.4 L119.8 451 L120.2 452.9 L120.5 455.1 L120.8 457.6 L121.1 460.5 L121.4 463.8 L121.7 467.5 L122 471.6 L122.4 476.1 L122.7 481 L123 486.4 L123.3 492 L123.6 498 L123.9 504.3 L124.3 510.7 L124.6 517.2 L124.9 523.8 L125.2 530.2 L125.5 536.4 L125.8 542.3 L126.2 547.7 L126.5 552.6 L126.8 556.9 L127.1 560.4 L127.4 563 L127.7 564.9 L128 565.8 L128.4 565.7 L128.7 564.4 L129 562.1 L129.3 558.6 L129.6 554.1 L129.9 548.8 L130.3 542.6 L130.6 535.8 L130.9 528.6 L131.2 521 L131.5 513.4 L131.8 505.8 L132.2 498.5 L132.5 491.6 L132.8 485.4 L133.1 480 L133.4 475.6 L133.7 472.4 L134.1 470.6 L134.4 470.7 L134.7 472.7 L135 475.9 L135.3 480.3 L135.6 485.6 L135.9 491.6 L136.3 498.3 L136.6 505.3 L136.9 512.6 L137.2 519.9 L137.5 527.1 L137.8 533.9 L138.2 540.3 L138.5 546.1 L138.8 551.1 L139.1 555.2 L139.4 558.3 L139.7 560.4 L140.1 561.4 L140.4 561.3 L140.7 560.1 L141 557.7 L141.3 554.4 L141.6 550 L141.9 544.9 L142.3 538.9 L142.6 532.4 L142.9 525.5 L143.2 518.3 L143.5 511 L143.8 503.7 L144.2 496.8 L144.5 490.2 L144.8 484.3 L145.1 479.2 L145.4 475.1 L145.7 472.1 L146.1 470.5 L146.4 470.8 L146.7 472.8 L147 476.2 L147.3 480.6 L147.6 485.9 L147.9 492 L148.3 498.7 L148.6 505.8 L148.9 513 L149.2 520.4 L149.5 527.5 L149.8 534.3 L150.2 540.7 L150.5 546.4 L150.8 551.4 L151.1 555.4 L151.4 558.5 L151.7 560.5 L152.1 561.5 L152.4 561.3 L152.7 559.9 L153 557.5 L153.3 554.1 L153.6 549.7 L154 544.5 L154.3 538.6 L154.6 532 L154.9 525 L155.2 517.8 L155.5 510.5 L155.8 503.3 L156.2 496.3 L156.5 489.8 L156.8 484 L157.1 478.9 L157.4 474.9 L157.7 472 L158.1 470.5 L158.4 470.9 L158.7 473 L159 476.4 L159.3 480.9 L159.6 486.3 L160 492.4 L160.3 499.1 L160.6 506.2 L160.9 513.5 L161.2 520.8 L161.5 528 L161.8 534.8 L162.2 541.1 L162.5 546.8 L162.8 551.6 L163.1 555.6 L163.4 558.7 L163.7 560.6 L164.1 561.5 L164.4 561.2 L164.7 559.8 L165 557.4 L165.3 553.9 L165.6 549.4 L166 544.1 L166.3 538.2 L166.6 531.6 L166.9 524.6 L167.2 517.4 L167.5 510 L167.9 502.8 L168.2 495.9 L168.5 489.5 L168.8 483.6 L169.1 478.7 L169.4 474.7 L169.7 471.8 L170.1 470.4 L170.4 471 L170.7 473.2 L171 476.7 L171.3 481.2 L171.6 486.7 L172 492.9 L172.3 499.6 L172.6 506.7 L172.9 514 L173.2 521.3 L173.5 528.4 L173.9 535.2 L174.2 541.5 L174.5 547.1 L174.8 551.9 L175.1 555.9 L175.4 558.8 L175.7 560.7 L176.1 561.5 L176.4 561.2 L176.7 559.7 L177 557.2 L177.3 553.6 L177.6 549.1 L178 543.8 L178.3 537.8 L178.6 531.2 L178.9 524.1 L179.2 516.9 L179.5 509.6 L179.9 502.4 L180.2 495.5 L180.5 489.1 L180.8 483.3 L181.1 478.4 L181.4 474.4 L181.7 471.7 L182.1 470.4 L182.4 471.1 L182.7 473.4 L183 476.9 L183.3 481.6 L183.6 487.1 L184 493.3 L184.3 500 L184.6 507.1 L184.9 514.4 L185.2 521.7 L185.5 528.8 L185.9 535.6 L186.2 541.8 L186.5 547.4 L186.8 552.2 L187.1 556.1 L187.4 559 L187.8 560.8 L188.1 561.5 L188.4 561.1 L188.7 559.6 L189 557 L189.3 553.4 L189.6 548.8 L190 543.4 L190.3 537.3 L190.6 530.7 L190.9 523.7 L191.2 516.4 L191.5 509.1 L191.9 501.9 L192.2 495.1 L192.5 488.7 L192.8 483 L193.1 478.1 L193.4 474.2 L193.8 471.6 L194.1 470.4 L194.4 471.2 L194.7 473.7 L195 477.5 L195.3 482.4 L195.6 488.2 L196 494.8 L196.3 501.9 L196.6 509.4 L196.9 517 L197.2 524.7 L197.5 532.1 L197.9 539.1 L198.2 545.6 L198.5 551.4 L198.8 556.4 L199.1 560.4 L199.4 563.3 L199.8 565.2 L200.1 565.8 L200.4 565.4 L200.7 564.1 L201 561.9 L201.3 558.8 L201.6 554.9 L202 550.4 L202.3 545.2 L202.6 539.5 L202.9 533.5 L203.2 527.1 L203.5 520.7 L203.9 514.1 L204.2 507.6 L204.5 501.3 L204.8 495.2 L205.1 489.3 L205.4 483.8 L205.8 478.6 L206.1 473.9 L206.4 469.6 L206.7 465.7 L207 462.2 L207.3 459.1 L207.7 456.4 L208 454 L208.3 452 L208.6 450.2 L208.9 448.8 L209.2 447.6 L209.5 446.5 L209.9 445.7 L210.2 445 L210.5 444.5 L210.8 444 L211.1 443.7 L211.4 443.4 L211.8 443.2 L212.1 443 L212.4 442.9 L212.7 442.8 L213 442.7 L213.3 442.7 L213.7 442.6 L214 442.6 L214.3 442.6 L214.6 442.6 L214.9 442.6 L215.2 442.5 L215.5 442.5 L215.9 442.5 L216.2 442.5 L216.5 442.5 L216.8 442.5 L217.1 442.5 L217.4 442.5 L217.8 442.5 L218.1 442.5 L218.4 442.5 L218.7 442.5 L219 442.5 L219.3 442.5 L219.7 442.5 L220 442.5 L220.3 442.5 L220.6 442.5 L220.9 442.5 L221.2 442.5 L221.5 442.5 L221.9 442.5 L222.2 442.5 L222.5 442.5 L222.8 442.5 L223.1 442.5 L223.4 442.5 L223.8 442.5 L224.1 442.5 L224.4 442.5 L224.7 442.5 L225 442.5 L225.3 442.5 L225.7 442.5 L226 442.5 L226.3 442.5 L226.6 442.5 L226.9 442.5 L227.2 442.5 L227.6 442.5 L227.9 442.5 L228.2 442.5 L228.5 442.5 L228.8 442.5 L229.1 442.5 L229.4 442.5 L229.8 442.5 L230.1 442.5 L230.4 442.5 L230.7 442.5 L231 442.5 L231.3 442.5 L231.7 442.5 L232 442.5 L232.3 442.5 L232.6 442.5 L232.9 442.5 L233.2 442.5 L233.6 442.5 L233.9 442.5 L234.2 442.5 L234.5 442.5 L234.8 442.5 L235.1 442.5 L235.4 442.5 L235.8 442.5 L236.1 442.5 L236.4 442.5 L236.7 442.5 L237 442.5 L237.3 442.5 L237.7 442.5 L238 442.5 L238.3 442.5 L238.6 442.5 L238.9 442.5 L239.2 442.5 L239.6 442.5 L239.9 442.5 L240.2 442.5 L240.5 442.5 L240.8 442.5 L241.1 442.5 L241.5 442.5 L241.8 442.5 L242.1 442.5 L242.4 442.5 L242.7 442.5 L243 442.5 L243.3 442.5 L243.7 442.5 L244 442.5 L244.3 442.5 L244.6 442.5 L244.9 442.5 L245.2 442.5 L245.6 442.5 L245.9 442.5 L246.2 442.5 L246.5 442.5 L246.8 442.5 L247.1 442.5 L247.5 442.5 L247.8 442.5 L248.1 442.5 L248.4 442.5 L248.7 442.5 L249 442.5 L249.3 442.5 L249.7 442.5 L250 442.5 L250.3 442.5 L250.6 442.5 L250.9 442.5 L251.2 442.5 L251.6 442.5 L251.9 442.5 L252.2 442.5 L252.5 442.5 L252.8 442.5 L253.1 442.5 L253.5 442.5 L253.8 442.5 L254.1 442.5 L254.4 442.5 L254.7 442.5 L255 442.5 L255.3 442.5 L255.7 442.5 L256 442.5 L256.3 442.5 L256.6 442.5 L256.9 442.5 L257.2 442.5 L257.6 442.5 L257.9 442.5 L258.2 442.5 L258.5 442.5 L258.8 442.5 L259.1 442.5 L259.5 442.5 L259.8 442.5 L260.1 442.5 L260.4 442.5 L260.7 442.5 L261 442.5 L261.4 442.5 L261.7 442.5 L262 442.5 L262.3 442.5 L262.6 442.5 L262.9 442.5 L263.2 442.5 L263.6 442.5 L263.9 442.5 L264.2 442.5 L264.5 442.5 L264.8 442.5 L265.1 442.5 L265.5 442.5 L265.8 442.5 L266.1 442.5 L266.4 442.5 L266.7 442.5 L267 442.5 L267.4 442.5 L267.7 442.5 L268 442.5 L268.3 442.5" stroke="#1e9cf0" stroke-width="1.4" fill="none" stroke-linejoin="round"/>
<line x1="133.6" y1="442" x2="150" y2="442" stroke="#1e9cf0" stroke-width="1.4"/>
<text x="152.6" y="444.6" font-family="'Liberation Serif', serif" font-size="8.6" font-weight="bold" fill="#111" stroke="#111" stroke-width="0.3" textLength="40.4" lengthAdjust="spacingAndGlyphs">Gd_GdH<tspan font-size="7.4" dy="2">2</tspan></text>
<text x="55" y="434.5" font-family="'Liberation Serif', serif" font-size="8.6" font-weight="bold" text-anchor="start" fill="#111" stroke="#111" stroke-width="0.3" textLength="53.6" lengthAdjust="spacingAndGlyphs">E<tspan font-size="6.9" dy="2.6">V</tspan><tspan dy="-2.6"> = 2.456 eV</tspan></text>
<text x="212.5" y="435.5" font-family="'Liberation Serif', serif" font-size="8.6" font-weight="bold" text-anchor="start" fill="#111" stroke="#111" stroke-width="0.3" textLength="53.2" lengthAdjust="spacingAndGlyphs">E<tspan font-size="6.9" dy="2.6">V</tspan><tspan dy="-2.6"> = 2.456 eV</tspan></text>
<text x="51.4" y="491.3" font-family="'Liberation Serif', serif" font-size="8.6" font-weight="bold" text-anchor="start" fill="#111" stroke="#111" stroke-width="0.3" textLength="57.2" lengthAdjust="spacingAndGlyphs">E<tspan font-size="6.9" dy="2.6">f</tspan><tspan dy="-2.6"> = - 0.782 eV</tspan></text>
<text x="140" y="575.5" font-family="'Liberation Serif', serif" font-size="8.6" font-weight="bold" text-anchor="start" fill="#111" stroke="#111" stroke-width="0.3"  textLength="50" lengthAdjust="spacingAndGlyphs">&#934; = 3.238 eV</text>
<rect x="304.2" y="424" width="221.1" height="158.4" fill="none" stroke="#1a1a1a" stroke-width="1.1"/>
<path d="M304.2 582.4v3 M344.4 582.4v3 M384.6 582.4v3 M424.8 582.4v3 M465 582.4v3 M505.2 582.4v3 M324.3 582.4v1.6 M364.5 582.4v1.6 M404.7 582.4v1.6 M444.9 582.4v1.6 M485.1 582.4v1.6 M304.2 424h-3 M304.2 450.4h-3 M304.2 476.8h-3 M304.2 503.2h-3 M304.2 529.6h-3 M304.2 556h-3 M304.2 582.4h-3 M304.2 437.2h-1.6 M304.2 463.6h-1.6 M304.2 490h-1.6 M304.2 516.4h-1.6 M304.2 542.8h-1.6 M304.2 569.2h-1.6" stroke="#1a1a1a" stroke-width="1.1" fill="none"/>
<text x="304.2" y="593.6" font-family="'Liberation Serif', serif" font-size="8.5" font-weight="bold" text-anchor="middle" fill="#111" stroke="#111" stroke-width="0.3" >0</text>
<text x="344.4" y="593.6" font-family="'Liberation Serif', serif" font-size="8.5" font-weight="bold" text-anchor="middle" fill="#111" stroke="#111" stroke-width="0.3" >10</text>
<text x="384.6" y="593.6" font-family="'Liberation Serif', serif" font-size="8.5" font-weight="bold" text-anchor="middle" fill="#111" stroke="#111" stroke-width="0.3" >20</text>
<text x="424.8" y="593.6" font-family="'Liberation Serif', serif" font-size="8.5" font-weight="bold" text-anchor="middle" fill="#111" stroke="#111" stroke-width="0.3" >30</text>
<text x="465" y="593.6" font-family="'Liberation Serif', serif" font-size="8.5" font-weight="bold" text-anchor="middle" fill="#111" stroke="#111" stroke-width="0.3" >40</text>
<text x="505.2" y="593.6" font-family="'Liberation Serif', serif" font-size="8.5" font-weight="bold" text-anchor="middle" fill="#111" stroke="#111" stroke-width="0.3" >50</text>
<text x="298.7" y="426.9" font-family="'Liberation Serif', serif" font-size="8.5" font-weight="bold" text-anchor="end" fill="#111" stroke="#111" stroke-width="0.3" >4</text>
<text x="298.7" y="453.3" font-family="'Liberation Serif', serif" font-size="8.5" font-weight="bold" text-anchor="end" fill="#111" stroke="#111" stroke-width="0.3" >2</text>
<text x="298.7" y="479.7" font-family="'Liberation Serif', serif" font-size="8.5" font-weight="bold" text-anchor="end" fill="#111" stroke="#111" stroke-width="0.3" >0</text>
<text x="298.7" y="506.1" font-family="'Liberation Serif', serif" font-size="8.5" font-weight="bold" text-anchor="end" fill="#111" stroke="#111" stroke-width="0.3" >&#8722;2</text>
<text x="298.7" y="532.5" font-family="'Liberation Serif', serif" font-size="8.5" font-weight="bold" text-anchor="end" fill="#111" stroke="#111" stroke-width="0.3" >&#8722;4</text>
<text x="298.7" y="558.9" font-family="'Liberation Serif', serif" font-size="8.5" font-weight="bold" text-anchor="end" fill="#111" stroke="#111" stroke-width="0.3" >&#8722;6</text>
<text x="298.7" y="585.3" font-family="'Liberation Serif', serif" font-size="8.5" font-weight="bold" text-anchor="end" fill="#111" stroke="#111" stroke-width="0.3" >&#8722;8</text>
<text x="403" y="605.5" font-family="'Liberation Serif', serif" font-size="9" font-weight="bold" text-anchor="middle" fill="#111" stroke="#111" stroke-width="0.3"  textLength="20.5" lengthAdjust="spacingAndGlyphs">Z (&#197;)</text>
<text transform="translate(284.5,502.5) rotate(-90)" font-family="'Liberation Serif', serif" font-size="8.2" font-weight="bold" text-anchor="middle" fill="#111" stroke="#111" stroke-width="0.3" textLength="55.8" lengthAdjust="spacingAndGlyphs">V Potential (eV)</text>
<line x1="275.8" y1="530.2" x2="275.8" y2="525" stroke="#111" stroke-width="0.7379999999999999"/>
<line x1="304.2" y1="483.2" x2="525.3" y2="483.2" stroke="#2a2a2a" stroke-width="1.35" stroke-dasharray="1.35 4.05" stroke-dashoffset="0.15"/>
<path d="M304.2 447.4 L304.5 447.4 L304.8 447.4 L305.1 447.4 L305.5 447.4 L305.8 447.4 L306.1 447.4 L306.4 447.4 L306.7 447.4 L307 447.4 L307.4 447.4 L307.7 447.4 L308 447.4 L308.3 447.4 L308.6 447.4 L308.9 447.4 L309.3 447.4 L309.6 447.4 L309.9 447.4 L310.2 447.4 L310.5 447.4 L310.8 447.4 L311.2 447.4 L311.5 447.4 L311.8 447.4 L312.1 447.4 L312.4 447.4 L312.7 447.4 L313.1 447.4 L313.4 447.4 L313.7 447.4 L314 447.4 L314.3 447.4 L314.6 447.4 L315 447.4 L315.3 447.4 L315.6 447.4 L315.9 447.4 L316.2 447.4 L316.5 447.4 L316.9 447.4 L317.2 447.4 L317.5 447.4 L317.8 447.4 L318.1 447.4 L318.4 447.4 L318.8 447.4 L319.1 447.4 L319.4 447.4 L319.7 447.4 L320 447.4 L320.3 447.4 L320.6 447.4 L321 447.4 L321.3 447.4 L321.6 447.4 L321.9 447.4 L322.2 447.4 L322.5 447.4 L322.9 447.4 L323.2 447.4 L323.5 447.4 L323.8 447.4 L324.1 447.4 L324.4 447.4 L324.8 447.4 L325.1 447.4 L325.4 447.4 L325.7 447.4 L326 447.4 L326.3 447.4 L326.7 447.4 L327 447.4 L327.3 447.4 L327.6 447.4 L327.9 447.4 L328.2 447.4 L328.6 447.4 L328.9 447.4 L329.2 447.4 L329.5 447.4 L329.8 447.4 L330.1 447.4 L330.5 447.4 L330.8 447.4 L331.1 447.4 L331.4 447.4 L331.7 447.4 L332 447.4 L332.4 447.4 L332.7 447.4 L333 447.4 L333.3 447.4 L333.6 447.4 L333.9 447.4 L334.2 447.4 L334.6 447.4 L334.9 447.4 L335.2 447.4 L335.5 447.4 L335.8 447.4 L336.1 447.4 L336.5 447.4 L336.8 447.4 L337.1 447.4 L337.4 447.4 L337.7 447.4 L338 447.4 L338.4 447.4 L338.7 447.4 L339 447.4 L339.3 447.4 L339.6 447.4 L339.9 447.4 L340.3 447.4 L340.6 447.4 L340.9 447.4 L341.2 447.4 L341.5 447.4 L341.8 447.4 L342.2 447.4 L342.5 447.4 L342.8 447.4 L343.1 447.4 L343.4 447.4 L343.7 447.4 L344.1 447.4 L344.4 447.4 L344.7 447.4 L345 447.4 L345.3 447.4 L345.6 447.4 L346 447.4 L346.3 447.4 L346.6 447.4 L346.9 447.4 L347.2 447.4 L347.5 447.4 L347.9 447.4 L348.2 447.4 L348.5 447.4 L348.8 447.4 L349.1 447.4 L349.4 447.4 L349.7 447.4 L350.1 447.4 L350.4 447.4 L350.7 447.4 L351 447.4 L351.3 447.4 L351.6 447.4 L352 447.4 L352.3 447.4 L352.6 447.4 L352.9 447.4 L353.2 447.4 L353.5 447.4 L353.9 447.4 L354.2 447.4 L354.5 447.4 L354.8 447.4 L355.1 447.4 L355.4 447.4 L355.8 447.4 L356.1 447.4 L356.4 447.4 L356.7 447.4 L357 447.4 L357.3 447.4 L357.7 447.4 L358 447.4 L358.3 447.4 L358.6 447.4 L358.9 447.4 L359.2 447.4 L359.6 447.4 L359.9 447.4 L360.2 447.4 L360.5 447.4 L360.8 447.4 L361.1 447.4 L361.5 447.4 L361.8 447.4 L362.1 447.4 L362.4 447.4 L362.7 447.4 L363 447.4 L363.3 447.4 L363.7 447.4 L364 447.4 L364.3 447.4 L364.6 447.4 L364.9 447.4 L365.2 447.4 L365.6 447.4 L365.9 447.4 L366.2 447.4 L366.5 447.4 L366.8 447.4 L367.1 447.4 L367.5 447.4 L367.8 447.4 L368.1 447.4 L368.4 447.4 L368.7 447.4 L369 447.4 L369.4 447.4 L369.7 447.4 L370 447.4 L370.3 447.4 L370.6 447.4 L370.9 447.4 L371.3 447.4 L371.6 447.4 L371.9 447.4 L372.2 447.4 L372.5 447.4 L372.8 447.4 L373.2 447.4 L373.5 447.4 L373.8 447.4 L374.1 447.4 L374.4 447.4 L374.7 447.5 L375.1 447.5 L375.4 447.6 L375.7 447.6 L376 447.7 L376.3 447.9 L376.6 448.1 L377 448.3 L377.3 448.6 L377.6 449 L377.9 449.5 L378.2 450.2 L378.5 451 L378.8 451.9 L379.2 453.2 L379.5 454.6 L379.8 456.4 L380.1 458.4 L380.4 460.9 L380.7 463.7 L381.1 467 L381.4 470.7 L381.7 474.8 L382 479.5 L382.3 484.6 L382.6 490.1 L383 496.1 L383.3 502.4 L383.6 509 L383.9 515.8 L384.2 522.7 L384.5 529.6 L384.9 536.3 L385.2 542.8 L385.5 548.9 L385.8 554.4 L386.1 559.3 L386.4 563.5 L386.8 566.7 L387.1 569 L387.4 570.3 L387.7 570.5 L388 569.5 L388.3 567.3 L388.7 564 L389 559.6 L389.3 554.2 L389.6 547.9 L389.9 541 L390.2 533.5 L390.6 525.6 L390.9 517.5 L391.2 509.4 L391.5 501.6 L391.8 494.1 L392.1 487.2 L392.5 481.2 L392.8 476 L393.1 472.1 L393.4 469.5 L393.7 468.6 L394 470 L394.3 472.9 L394.7 477.2 L395 482.5 L395.3 488.8 L395.6 495.8 L395.9 503.3 L396.2 511.2 L396.6 519.2 L396.9 527.2 L397.2 535 L397.5 542.3 L397.8 549.1 L398.1 555.1 L398.5 560.2 L398.8 564.3 L399.1 567.4 L399.4 569.2 L399.7 569.9 L400 569.3 L400.4 567.5 L400.7 564.6 L401 560.5 L401.3 555.4 L401.6 549.5 L401.9 542.8 L402.3 535.5 L402.6 527.7 L402.9 519.7 L403.2 511.7 L403.5 503.8 L403.8 496.2 L404.2 489.2 L404.5 482.9 L404.8 477.5 L405.1 473.2 L405.4 470.1 L405.7 468.7 L406.1 469.4 L406.4 471.9 L406.7 475.7 L407 480.7 L407.3 486.7 L407.6 493.5 L407.9 500.9 L408.3 508.7 L408.6 516.7 L408.9 524.7 L409.2 532.6 L409.5 540.1 L409.8 547 L410.2 553.3 L410.5 558.7 L410.8 563.1 L411.1 566.5 L411.4 568.7 L411.7 569.8 L412.1 569.6 L412.4 568.2 L412.7 565.6 L413 561.9 L413.3 557.2 L413.6 551.5 L414 545 L414.3 537.8 L414.6 530.2 L414.9 522.3 L415.2 514.3 L415.5 506.3 L415.9 498.6 L416.2 491.4 L416.5 484.8 L416.8 479.1 L417.1 474.4 L417.4 471 L417.8 468.9 L418.1 468.9 L418.4 470.9 L418.7 474.3 L419 479 L419.3 484.7 L419.7 491.3 L420 498.5 L420.3 506.2 L420.6 514.1 L420.9 522.2 L421.2 530.1 L421.6 537.7 L421.9 544.9 L422.2 551.4 L422.5 557.1 L422.8 561.8 L423.1 565.6 L423.4 568.2 L423.8 569.6 L424.1 569.8 L424.4 568.8 L424.7 566.6 L425 563.2 L425.3 558.8 L425.7 553.4 L426 547.1 L426.3 540.2 L426.6 532.7 L426.9 524.8 L427.2 516.8 L427.6 508.8 L427.9 501 L428.2 493.6 L428.5 486.8 L428.8 480.8 L429.1 475.8 L429.5 471.9 L429.8 469.4 L430.1 468.7 L430.4 470.1 L430.7 473.1 L431 477.4 L431.4 482.8 L431.7 489.1 L432 496.1 L432.3 503.7 L432.6 511.6 L432.9 519.6 L433.3 527.6 L433.6 535.3 L433.9 542.7 L434.2 549.4 L434.5 555.3 L434.8 560.4 L435.2 564.5 L435.5 567.5 L435.8 569.3 L436.1 569.9 L436.4 569.2 L436.7 567.4 L437 564.4 L437.4 560.3 L437.7 555.2 L438 549.2 L438.3 542.5 L438.6 535.1 L438.9 527.4 L439.3 519.4 L439.6 511.3 L439.9 503.5 L440.2 495.9 L440.5 488.9 L440.8 482.6 L441.2 477.3 L441.5 473 L441.8 470 L442.1 468.7 L442.4 469.5 L442.7 472 L443.1 475.9 L443.4 481 L443.7 487 L444 493.8 L444.3 501.2 L444.6 509 L445 517.1 L445.3 525.1 L445.6 532.9 L445.9 540.4 L446.2 547.3 L446.5 553.5 L446.9 558.9 L447.2 563.3 L447.5 566.6 L447.8 568.8 L448.1 569.8 L448.4 569.6 L448.8 568.1 L449.1 565.5 L449.4 561.7 L449.7 556.9 L450 551.2 L450.3 544.7 L450.7 537.5 L451 529.9 L451.3 521.9 L451.6 513.9 L451.9 505.9 L452.2 498.3 L452.5 491.1 L452.9 484.5 L453.2 478.9 L453.5 474.2 L453.8 470.8 L454.1 468.9 L454.4 469 L454.8 471.1 L455.1 474.6 L455.4 479.3 L455.7 485.1 L456 491.7 L456.3 499 L456.7 506.8 L457 514.8 L457.3 522.9 L457.6 530.9 L457.9 538.5 L458.2 545.7 L458.6 552.2 L458.9 557.9 L459.2 562.6 L459.5 566.3 L459.8 568.9 L460.1 570.3 L460.5 570.4 L460.8 569.5 L461.1 567.6 L461.4 564.6 L461.7 560.8 L462 556.2 L462.4 550.8 L462.7 544.9 L463 538.5 L463.3 531.8 L463.6 525 L463.9 518.1 L464.3 511.2 L464.6 504.6 L464.9 498.1 L465.2 492.1 L465.5 486.4 L465.8 481.1 L466.2 476.3 L466.5 472 L466.8 468.1 L467.1 464.7 L467.4 461.8 L467.7 459.2 L468 457 L468.4 455.2 L468.7 453.6 L469 452.3 L469.3 451.3 L469.6 450.4 L469.9 449.7 L470.3 449.2 L470.6 448.7 L470.9 448.4 L471.2 448.1 L471.5 447.9 L471.8 447.8 L472.2 447.7 L472.5 447.6 L472.8 447.5 L473.1 447.5 L473.4 447.4 L473.7 447.4 L474.1 447.4 L474.4 447.4 L474.7 447.4 L475 447.4 L475.3 447.4 L475.6 447.4 L476 447.4 L476.3 447.4 L476.6 447.4 L476.9 447.4 L477.2 447.4 L477.5 447.4 L477.9 447.4 L478.2 447.4 L478.5 447.4 L478.8 447.4 L479.1 447.4 L479.4 447.4 L479.8 447.4 L480.1 447.4 L480.4 447.4 L480.7 447.4 L481 447.4 L481.3 447.4 L481.6 447.4 L482 447.4 L482.3 447.4 L482.6 447.4 L482.9 447.4 L483.2 447.4 L483.5 447.4 L483.9 447.4 L484.2 447.4 L484.5 447.4 L484.8 447.4 L485.1 447.4 L485.4 447.4 L485.8 447.4 L486.1 447.4 L486.4 447.4 L486.7 447.4 L487 447.4 L487.3 447.4 L487.7 447.4 L488 447.4 L488.3 447.4 L488.6 447.4 L488.9 447.4 L489.2 447.4 L489.6 447.4 L489.9 447.4 L490.2 447.4 L490.5 447.4 L490.8 447.4 L491.1 447.4 L491.5 447.4 L491.8 447.4 L492.1 447.4 L492.4 447.4 L492.7 447.4 L493 447.4 L493.4 447.4 L493.7 447.4 L494 447.4 L494.3 447.4 L494.6 447.4 L494.9 447.4 L495.3 447.4 L495.6 447.4 L495.9 447.4 L496.2 447.4 L496.5 447.4 L496.8 447.4 L497.1 447.4 L497.5 447.4 L497.8 447.4 L498.1 447.4 L498.4 447.4 L498.7 447.4 L499 447.4 L499.4 447.4 L499.7 447.4 L500 447.4 L500.3 447.4 L500.6 447.4 L500.9 447.4 L501.3 447.4 L501.6 447.4 L501.9 447.4 L502.2 447.4 L502.5 447.4 L502.8 447.4 L503.2 447.4 L503.5 447.4 L503.8 447.4 L504.1 447.4 L504.4 447.4 L504.7 447.4 L505.1 447.4 L505.4 447.4 L505.7 447.4 L506 447.4 L506.3 447.4 L506.6 447.4 L507 447.4 L507.3 447.4 L507.6 447.4 L507.9 447.4 L508.2 447.4 L508.5 447.4 L508.9 447.4 L509.2 447.4 L509.5 447.4 L509.8 447.4 L510.1 447.4 L510.4 447.4 L510.7 447.4 L511.1 447.4 L511.4 447.4 L511.7 447.4 L512 447.4 L512.3 447.4 L512.6 447.4 L513 447.4 L513.3 447.4 L513.6 447.4 L513.9 447.4 L514.2 447.4 L514.5 447.4 L514.9 447.4 L515.2 447.4 L515.5 447.4 L515.8 447.4 L516.1 447.4 L516.4 447.4 L516.8 447.4 L517.1 447.4 L517.4 447.4 L517.7 447.4 L518 447.4 L518.3 447.4 L518.7 447.4 L519 447.4 L519.3 447.4 L519.6 447.4 L519.9 447.4 L520.2 447.4 L520.6 447.4 L520.9 447.4 L521.2 447.4 L521.5 447.4 L521.8 447.4 L522.1 447.4 L522.5 447.4 L522.8 447.4 L523.1 447.4 L523.4 447.4 L523.7 447.4 L524 447.4 L524.4 447.4 L524.7 447.4 L525 447.4 L525.3 447.4" stroke="#1e9cf0" stroke-width="1.4" fill="none" stroke-linejoin="round"/>
<line x1="405" y1="446" x2="421" y2="446" stroke="#1e9cf0" stroke-width="1.4"/>
<text x="424.4" y="448.6" font-family="'Liberation Serif', serif" font-size="8.6" font-weight="bold" fill="#111" stroke="#111" stroke-width="0.3" textLength="35.6" lengthAdjust="spacingAndGlyphs">H_GdH<tspan font-size="7.4" dy="2">2</tspan></text>
<text x="311.8" y="435.5" font-family="'Liberation Serif', serif" font-size="8.6" font-weight="bold" text-anchor="start" fill="#111" stroke="#111" stroke-width="0.3" textLength="53.7" lengthAdjust="spacingAndGlyphs">E<tspan font-size="6.9" dy="2.6">V</tspan><tspan dy="-2.6"> = 2.914 eV</tspan></text>
<text x="469" y="436" font-family="'Liberation Serif', serif" font-size="8.6" font-weight="bold" text-anchor="start" fill="#111" stroke="#111" stroke-width="0.3" textLength="55.3" lengthAdjust="spacingAndGlyphs">E<tspan font-size="6.9" dy="2.6">V</tspan><tspan dy="-2.6"> = 2.914 eV</tspan></text>
<text x="311.3" y="493.6" font-family="'Liberation Serif', serif" font-size="8.6" font-weight="bold" text-anchor="start" fill="#111" stroke="#111" stroke-width="0.3" textLength="53.7" lengthAdjust="spacingAndGlyphs">E<tspan font-size="6.9" dy="2.6">f</tspan><tspan dy="-2.6"> = -0.488 eV</tspan></text>
<text x="396" y="577.5" font-family="'Liberation Serif', serif" font-size="8.6" font-weight="bold" text-anchor="start" fill="#111" stroke="#111" stroke-width="0.3"  textLength="50" lengthAdjust="spacingAndGlyphs">&#934; = 3.402 eV</text>
<text x="20.8" y="653.8" font-family="'Liberation Serif', serif" font-size="11" font-weight="bold" text-anchor="middle" fill="#111" stroke="#111" stroke-width="0.3" >(c)</text>
<line x1="7.6" y1="688" x2="7.6" y2="679.5" stroke="#d01010" stroke-width="1.6"/>
<path d="M5.4 681 L7.6 674.5 L9.8 681 Z" fill="#d01010"/>
<line x1="7.6" y1="688" x2="18.6" y2="688" stroke="#1010e0" stroke-width="1.6"/>
<path d="M17.1 685.8 L23.6 688 L17.1 690.2 Z" fill="#1010e0"/>
<circle cx="7.6" cy="688" r="1.5" fill="#138a13" stroke="#0a3a0a" stroke-width="0.6"/>
<text x="7.9" y="672" font-family="'Liberation Sans', sans-serif" font-size="4.4" font-weight="bold" text-anchor="middle" fill="#333" stroke="#333" stroke-width="0.3" >a</text>
<text x="28.1" y="690" font-family="'Liberation Sans', sans-serif" font-size="4.4" font-weight="bold" text-anchor="middle" fill="#333" stroke="#333" stroke-width="0.3" >c</text>
<rect x="29.5" y="642.2" width="151" height="49.2" fill="none" stroke="#9a9a9a" stroke-width="1.1"/>
<line x1="56.7" y1="642.2" x2="45.6" y2="642.2" stroke="#c428e6" stroke-width="1.6"/>
<line x1="45.6" y1="642.2" x2="34.5" y2="642.2" stroke="#eed0d0" stroke-width="1.6"/>
<line x1="56.7" y1="666.9" x2="45.6" y2="666.9" stroke="#c428e6" stroke-width="1.6"/>
<line x1="45.6" y1="666.9" x2="34.5" y2="666.9" stroke="#eed0d0" stroke-width="1.6"/>
<line x1="56.7" y1="691.5" x2="45.6" y2="691.5" stroke="#c428e6" stroke-width="1.6"/>
<line x1="45.6" y1="691.5" x2="34.5" y2="691.5" stroke="#eed0d0" stroke-width="1.6"/>
<line x1="56.7" y1="642.2" x2="53.2" y2="634" stroke="#b01ee6" stroke-width="1.5"/>
<line x1="53.2" y1="634" x2="49.8" y2="625.8" stroke="#e3141c" stroke-width="1.5"/>
<line x1="56.7" y1="642.2" x2="53.2" y2="646.4" stroke="#b01ee6" stroke-width="1.5"/>
<line x1="53.2" y1="646.4" x2="49.8" y2="650.6" stroke="#e3141c" stroke-width="1.5"/>
<line x1="56.7" y1="666.9" x2="53.2" y2="658.8" stroke="#b01ee6" stroke-width="1.5"/>
<line x1="53.2" y1="658.8" x2="49.8" y2="650.6" stroke="#e3141c" stroke-width="1.5"/>
<line x1="56.7" y1="666.9" x2="53.2" y2="670.8" stroke="#b01ee6" stroke-width="1.5"/>
<line x1="53.2" y1="670.8" x2="49.8" y2="674.8" stroke="#e3141c" stroke-width="1.5"/>
<line x1="56.7" y1="691.5" x2="53.2" y2="683.1" stroke="#b01ee6" stroke-width="1.5"/>
<line x1="53.2" y1="683.1" x2="49.8" y2="674.8" stroke="#e3141c" stroke-width="1.5"/>
<line x1="56.7" y1="691.5" x2="53.2" y2="695.8" stroke="#b01ee6" stroke-width="1.5"/>
<line x1="53.2" y1="695.8" x2="49.8" y2="700" stroke="#e3141c" stroke-width="1.5"/>
<ellipse cx="49.8" cy="625.8" rx="1.9" ry="1.9" fill="url(#gO)"/>
<ellipse cx="49.8" cy="650.6" rx="1.9" ry="1.9" fill="url(#gO)"/>
<ellipse cx="49.8" cy="674.8" rx="1.9" ry="1.9" fill="url(#gO)"/>
<ellipse cx="49.8" cy="700" rx="1.9" ry="1.9" fill="url(#gO)"/>
<ellipse cx="56.7" cy="642.2" rx="5" ry="4.6" fill="url(#gGd)"/>
<ellipse cx="56.7" cy="666.9" rx="5" ry="4.6" fill="url(#gGd)"/>
<ellipse cx="56.7" cy="691.5" rx="5" ry="4.6" fill="url(#gGd)"/>
<line x1="153.6" y1="642.2" x2="164.6" y2="642.2" stroke="#c428e6" stroke-width="1.6"/>
<line x1="164.6" y1="642.2" x2="175.5" y2="642.2" stroke="#eed0d0" stroke-width="1.6"/>
<line x1="153.6" y1="666.9" x2="164.6" y2="666.9" stroke="#c428e6" stroke-width="1.6"/>
<line x1="164.6" y1="666.9" x2="175.5" y2="666.9" stroke="#eed0d0" stroke-width="1.6"/>
<line x1="153.6" y1="691.5" x2="164.6" y2="691.5" stroke="#c428e6" stroke-width="1.6"/>
<line x1="164.6" y1="691.5" x2="175.5" y2="691.5" stroke="#eed0d0" stroke-width="1.6"/>
<line x1="153.6" y1="642.2" x2="156.9" y2="634" stroke="#b01ee6" stroke-width="1.5"/>
<line x1="156.9" y1="634" x2="160.3" y2="625.8" stroke="#e3141c" stroke-width="1.5"/>
<line x1="153.6" y1="642.2" x2="156.9" y2="646.4" stroke="#b01ee6" stroke-width="1.5"/>
<line x1="156.9" y1="646.4" x2="160.3" y2="650.6" stroke="#e3141c" stroke-width="1.5"/>
<line x1="153.6" y1="666.9" x2="156.9" y2="658.8" stroke="#b01ee6" stroke-width="1.5"/>
<line x1="156.9" y1="658.8" x2="160.3" y2="650.6" stroke="#e3141c" stroke-width="1.5"/>
<line x1="153.6" y1="666.9" x2="156.9" y2="670.8" stroke="#b01ee6" stroke-width="1.5"/>
<line x1="156.9" y1="670.8" x2="160.3" y2="674.8" stroke="#e3141c" stroke-width="1.5"/>
<line x1="153.6" y1="691.5" x2="156.9" y2="683.1" stroke="#b01ee6" stroke-width="1.5"/>
<line x1="156.9" y1="683.1" x2="160.3" y2="674.8" stroke="#e3141c" stroke-width="1.5"/>
<line x1="153.6" y1="691.5" x2="156.9" y2="695.8" stroke="#b01ee6" stroke-width="1.5"/>
<line x1="156.9" y1="695.8" x2="160.3" y2="700" stroke="#e3141c" stroke-width="1.5"/>
<ellipse cx="160.3" cy="625.8" rx="1.9" ry="1.9" fill="url(#gO)"/>
<ellipse cx="160.3" cy="650.6" rx="1.9" ry="1.9" fill="url(#gO)"/>
<ellipse cx="160.3" cy="674.8" rx="1.9" ry="1.9" fill="url(#gO)"/>
<ellipse cx="160.3" cy="700" rx="1.9" ry="1.9" fill="url(#gO)"/>
<ellipse cx="153.6" cy="642.2" rx="5" ry="4.6" fill="url(#gGd)"/>
<ellipse cx="153.6" cy="666.9" rx="5" ry="4.6" fill="url(#gGd)"/>
<ellipse cx="153.6" cy="691.5" rx="5" ry="4.6" fill="url(#gGd)"/>
<rect x="205.8" y="642.5" width="152.9" height="49.5" fill="none" stroke="#9a9a9a" stroke-width="1.1"/>
<line x1="222.5" y1="642.2" x2="218.5" y2="634.1" stroke="#b01ee6" stroke-width="1.5"/>
<line x1="218.5" y1="634.1" x2="214.5" y2="626" stroke="#e3141c" stroke-width="1.5"/>
<line x1="222.5" y1="642.2" x2="218.5" y2="646.4" stroke="#b01ee6" stroke-width="1.5"/>
<line x1="218.5" y1="646.4" x2="214.5" y2="650.5" stroke="#e3141c" stroke-width="1.5"/>
<line x1="222.5" y1="642.2" x2="226.2" y2="638.2" stroke="#c428e6" stroke-width="1.5"/>
<line x1="226.2" y1="638.2" x2="229.8" y2="634.2" stroke="#eed0d0" stroke-width="1.5"/>
<line x1="222.5" y1="642.2" x2="226.2" y2="650.5" stroke="#c428e6" stroke-width="1.5"/>
<line x1="226.2" y1="650.5" x2="229.8" y2="658.8" stroke="#eed0d0" stroke-width="1.5"/>
<line x1="222.5" y1="666.8" x2="218.5" y2="658.6" stroke="#b01ee6" stroke-width="1.5"/>
<line x1="218.5" y1="658.6" x2="214.5" y2="650.5" stroke="#e3141c" stroke-width="1.5"/>
<line x1="222.5" y1="666.8" x2="218.5" y2="671.2" stroke="#b01ee6" stroke-width="1.5"/>
<line x1="218.5" y1="671.2" x2="214.5" y2="675.6" stroke="#e3141c" stroke-width="1.5"/>
<line x1="222.5" y1="666.8" x2="226.2" y2="662.8" stroke="#c428e6" stroke-width="1.5"/>
<line x1="226.2" y1="662.8" x2="229.8" y2="658.8" stroke="#eed0d0" stroke-width="1.5"/>
<line x1="222.5" y1="666.8" x2="226.2" y2="675.2" stroke="#c428e6" stroke-width="1.5"/>
<line x1="226.2" y1="675.2" x2="229.8" y2="683.6" stroke="#eed0d0" stroke-width="1.5"/>
<line x1="222.5" y1="692" x2="218.5" y2="683.8" stroke="#b01ee6" stroke-width="1.5"/>
<line x1="218.5" y1="683.8" x2="214.5" y2="675.6" stroke="#e3141c" stroke-width="1.5"/>
<line x1="222.5" y1="692" x2="218.5" y2="696.1" stroke="#b01ee6" stroke-width="1.5"/>
<line x1="218.5" y1="696.1" x2="214.5" y2="700.2" stroke="#e3141c" stroke-width="1.5"/>
<line x1="222.5" y1="692" x2="226.2" y2="687.8" stroke="#c428e6" stroke-width="1.5"/>
<line x1="226.2" y1="687.8" x2="229.8" y2="683.6" stroke="#eed0d0" stroke-width="1.5"/>
<line x1="222.5" y1="692" x2="226.2" y2="700.5" stroke="#c428e6" stroke-width="1.5"/>
<line x1="226.2" y1="700.5" x2="229.8" y2="709" stroke="#eed0d0" stroke-width="1.5"/>
<ellipse cx="214.5" cy="626" rx="1.9" ry="1.9" fill="url(#gO)"/>
<ellipse cx="214.5" cy="650.5" rx="1.9" ry="1.9" fill="url(#gO)"/>
<ellipse cx="214.5" cy="675.6" rx="1.9" ry="1.9" fill="url(#gO)"/>
<ellipse cx="214.5" cy="700.2" rx="1.9" ry="1.9" fill="url(#gO)"/>
<ellipse cx="229.8" cy="634.2" rx="1.5" ry="1.5" fill="url(#gH)"/>
<ellipse cx="229.8" cy="658.8" rx="1.5" ry="1.5" fill="url(#gH)"/>
<ellipse cx="229.8" cy="683.6" rx="1.5" ry="1.5" fill="url(#gH)"/>
<ellipse cx="222.5" cy="642.2" rx="6.2" ry="4.9" fill="url(#gGd)"/>
<ellipse cx="222.5" cy="666.8" rx="6.2" ry="4.9" fill="url(#gGd)"/>
<ellipse cx="222.5" cy="692" rx="6.2" ry="4.9" fill="url(#gGd)"/>
<line x1="342.4" y1="642.2" x2="346" y2="634.1" stroke="#b01ee6" stroke-width="1.5"/>
<line x1="346" y1="634.1" x2="349.6" y2="626" stroke="#e3141c" stroke-width="1.5"/>
<line x1="342.4" y1="642.2" x2="346" y2="646.4" stroke="#b01ee6" stroke-width="1.5"/>
<line x1="346" y1="646.4" x2="349.6" y2="650.5" stroke="#e3141c" stroke-width="1.5"/>
<line x1="342.4" y1="642.2" x2="338.4" y2="638.2" stroke="#c428e6" stroke-width="1.5"/>
<line x1="338.4" y1="638.2" x2="334.4" y2="634.2" stroke="#eed0d0" stroke-width="1.5"/>
<line x1="342.4" y1="642.2" x2="338.4" y2="650.5" stroke="#c428e6" stroke-width="1.5"/>
<line x1="338.4" y1="650.5" x2="334.4" y2="658.8" stroke="#eed0d0" stroke-width="1.5"/>
<line x1="342.4" y1="666.8" x2="346" y2="658.6" stroke="#b01ee6" stroke-width="1.5"/>
<line x1="346" y1="658.6" x2="349.6" y2="650.5" stroke="#e3141c" stroke-width="1.5"/>
<line x1="342.4" y1="666.8" x2="346" y2="671.2" stroke="#b01ee6" stroke-width="1.5"/>
<line x1="346" y1="671.2" x2="349.6" y2="675.6" stroke="#e3141c" stroke-width="1.5"/>
<line x1="342.4" y1="666.8" x2="338.4" y2="662.8" stroke="#c428e6" stroke-width="1.5"/>
<line x1="338.4" y1="662.8" x2="334.4" y2="658.8" stroke="#eed0d0" stroke-width="1.5"/>
<line x1="342.4" y1="666.8" x2="338.4" y2="675.2" stroke="#c428e6" stroke-width="1.5"/>
<line x1="338.4" y1="675.2" x2="334.4" y2="683.6" stroke="#eed0d0" stroke-width="1.5"/>
<line x1="342.4" y1="692" x2="346" y2="683.8" stroke="#b01ee6" stroke-width="1.5"/>
<line x1="346" y1="683.8" x2="349.6" y2="675.6" stroke="#e3141c" stroke-width="1.5"/>
<line x1="342.4" y1="692" x2="346" y2="696.1" stroke="#b01ee6" stroke-width="1.5"/>
<line x1="346" y1="696.1" x2="349.6" y2="700.2" stroke="#e3141c" stroke-width="1.5"/>
<line x1="342.4" y1="692" x2="338.4" y2="687.8" stroke="#c428e6" stroke-width="1.5"/>
<line x1="338.4" y1="687.8" x2="334.4" y2="683.6" stroke="#eed0d0" stroke-width="1.5"/>
<line x1="342.4" y1="692" x2="338.4" y2="700.5" stroke="#c428e6" stroke-width="1.5"/>
<line x1="338.4" y1="700.5" x2="334.4" y2="709" stroke="#eed0d0" stroke-width="1.5"/>
<ellipse cx="349.6" cy="626" rx="1.9" ry="1.9" fill="url(#gO)"/>
<ellipse cx="349.6" cy="650.5" rx="1.9" ry="1.9" fill="url(#gO)"/>
<ellipse cx="349.6" cy="675.6" rx="1.9" ry="1.9" fill="url(#gO)"/>
<ellipse cx="349.6" cy="700.2" rx="1.9" ry="1.9" fill="url(#gO)"/>
<ellipse cx="334.4" cy="634.2" rx="1.5" ry="1.5" fill="url(#gH)"/>
<ellipse cx="334.4" cy="658.8" rx="1.5" ry="1.5" fill="url(#gH)"/>
<ellipse cx="334.4" cy="683.6" rx="1.5" ry="1.5" fill="url(#gH)"/>
<ellipse cx="342.4" cy="642.2" rx="6.2" ry="4.9" fill="url(#gGd)"/>
<ellipse cx="342.4" cy="666.8" rx="6.2" ry="4.9" fill="url(#gGd)"/>
<ellipse cx="342.4" cy="692" rx="6.2" ry="4.9" fill="url(#gGd)"/>
<rect x="387.3" y="642.1" width="152.2" height="49.9" fill="none" stroke="#9a9a9a" stroke-width="1.1"/>
<line x1="406.2" y1="650.5" x2="410.6" y2="642.2" stroke="#b01ee6" stroke-width="1.5"/>
<line x1="410.6" y1="642.2" x2="415" y2="633.9" stroke="#e3141c" stroke-width="1.5"/>
<line x1="406.2" y1="650.5" x2="410.6" y2="654.8" stroke="#b01ee6" stroke-width="1.5"/>
<line x1="410.6" y1="654.8" x2="415" y2="659" stroke="#e3141c" stroke-width="1.5"/>
<line x1="406.2" y1="650.5" x2="401.9" y2="646.2" stroke="#c428e6" stroke-width="1.5"/>
<line x1="401.9" y1="646.2" x2="397.5" y2="642" stroke="#eed0d0" stroke-width="1.5"/>
<line x1="406.2" y1="650.5" x2="401.9" y2="658.5" stroke="#c428e6" stroke-width="1.5"/>
<line x1="401.9" y1="658.5" x2="397.5" y2="666.6" stroke="#eed0d0" stroke-width="1.5"/>
<line x1="406.2" y1="675.3" x2="410.6" y2="667.1" stroke="#b01ee6" stroke-width="1.5"/>
<line x1="410.6" y1="667.1" x2="415" y2="659" stroke="#e3141c" stroke-width="1.5"/>
<line x1="406.2" y1="675.3" x2="410.6" y2="679.5" stroke="#b01ee6" stroke-width="1.5"/>
<line x1="410.6" y1="679.5" x2="415" y2="683.7" stroke="#e3141c" stroke-width="1.5"/>
<line x1="406.2" y1="675.3" x2="401.9" y2="671" stroke="#c428e6" stroke-width="1.5"/>
<line x1="401.9" y1="671" x2="397.5" y2="666.6" stroke="#eed0d0" stroke-width="1.5"/>
<line x1="406.2" y1="675.3" x2="401.9" y2="683.3" stroke="#c428e6" stroke-width="1.5"/>
<line x1="401.9" y1="683.3" x2="397.5" y2="691.4" stroke="#eed0d0" stroke-width="1.5"/>
<ellipse cx="415" cy="633.9" rx="1.9" ry="1.9" fill="url(#gO)"/>
<ellipse cx="415" cy="659" rx="1.9" ry="1.9" fill="url(#gO)"/>
<ellipse cx="415" cy="683.7" rx="1.9" ry="1.9" fill="url(#gO)"/>
<ellipse cx="397.5" cy="642" rx="1.5" ry="1.5" fill="url(#gH)"/>
<ellipse cx="397.5" cy="666.6" rx="1.5" ry="1.5" fill="url(#gH)"/>
<ellipse cx="397.5" cy="691.4" rx="1.5" ry="1.5" fill="url(#gH)"/>
<ellipse cx="406.2" cy="650.5" rx="7.2" ry="4.4" fill="url(#gGd)"/>
<ellipse cx="406.2" cy="675.3" rx="7.2" ry="4.4" fill="url(#gGd)"/>
<line x1="519.9" y1="650.5" x2="515.7" y2="642.2" stroke="#b01ee6" stroke-width="1.5"/>
<line x1="515.7" y1="642.2" x2="511.5" y2="633.9" stroke="#e3141c" stroke-width="1.5"/>
<line x1="519.9" y1="650.5" x2="515.7" y2="654.8" stroke="#b01ee6" stroke-width="1.5"/>
<line x1="515.7" y1="654.8" x2="511.5" y2="659" stroke="#e3141c" stroke-width="1.5"/>
<line x1="519.9" y1="650.5" x2="524.4" y2="646.2" stroke="#c428e6" stroke-width="1.5"/>
<line x1="524.4" y1="646.2" x2="528.9" y2="642" stroke="#eed0d0" stroke-width="1.5"/>
<line x1="519.9" y1="650.5" x2="524.4" y2="658.5" stroke="#c428e6" stroke-width="1.5"/>
<line x1="524.4" y1="658.5" x2="528.9" y2="666.6" stroke="#eed0d0" stroke-width="1.5"/>
<line x1="519.9" y1="675.3" x2="515.7" y2="667.1" stroke="#b01ee6" stroke-width="1.5"/>
<line x1="515.7" y1="667.1" x2="511.5" y2="659" stroke="#e3141c" stroke-width="1.5"/>
<line x1="519.9" y1="675.3" x2="515.7" y2="679.5" stroke="#b01ee6" stroke-width="1.5"/>
<line x1="515.7" y1="679.5" x2="511.5" y2="683.7" stroke="#e3141c" stroke-width="1.5"/>
<line x1="519.9" y1="675.3" x2="524.4" y2="671" stroke="#c428e6" stroke-width="1.5"/>
<line x1="524.4" y1="671" x2="528.9" y2="666.6" stroke="#eed0d0" stroke-width="1.5"/>
<line x1="519.9" y1="675.3" x2="524.4" y2="683.3" stroke="#c428e6" stroke-width="1.5"/>
<line x1="524.4" y1="683.3" x2="528.9" y2="691.4" stroke="#eed0d0" stroke-width="1.5"/>
<ellipse cx="511.5" cy="633.9" rx="1.9" ry="1.9" fill="url(#gO)"/>
<ellipse cx="511.5" cy="659" rx="1.9" ry="1.9" fill="url(#gO)"/>
<ellipse cx="511.5" cy="683.7" rx="1.9" ry="1.9" fill="url(#gO)"/>
<ellipse cx="528.9" cy="642" rx="1.5" ry="1.5" fill="url(#gH)"/>
<ellipse cx="528.9" cy="666.6" rx="1.5" ry="1.5" fill="url(#gH)"/>
<ellipse cx="528.9" cy="691.4" rx="1.5" ry="1.5" fill="url(#gH)"/>
<ellipse cx="519.9" cy="650.5" rx="7.2" ry="4.4" fill="url(#gGd)"/>
<ellipse cx="519.9" cy="675.3" rx="7.2" ry="4.4" fill="url(#gGd)"/>
<rect x="29.4" y="708.7" width="150.7" height="116.2" fill="none" stroke="#8c8c8c" stroke-width="1.3"/>
<path d="M29.4 824.9v2.2 M53.7 824.9v2.2 M78 824.9v2.2 M102.3 824.9v2.2 M126.6 824.9v2.2 M150.9 824.9v2.2 M175.2 824.9v2.2 M41.6 824.9v1.2 M65.9 824.9v1.2 M90.2 824.9v1.2 M114.5 824.9v1.2 M138.8 824.9v1.2 M163.1 824.9v1.2 M29.4 708.7h-2.2 M29.4 723.2h-2.2 M29.4 737.8h-2.2 M29.4 752.3h-2.2 M29.4 766.8h-2.2 M29.4 781.3h-2.2 M29.4 795.9h-2.2 M29.4 810.4h-2.2 M29.4 824.9h-2.2 M29.4 716h-1.2 M29.4 730.5h-1.2 M29.4 745h-1.2 M29.4 759.5h-1.2 M29.4 774.1h-1.2 M29.4 788.6h-1.2 M29.4 803.1h-1.2 M29.4 817.6h-1.2" stroke="#8c8c8c" stroke-width="1.3" fill="none"/>
<text x="29.4" y="834.7" font-family="'Liberation Serif', serif" font-size="7.2" font-weight="bold" text-anchor="middle" fill="#111" stroke="#111" stroke-width="0.05" >0</text>
<text x="53.7" y="834.7" font-family="'Liberation Serif', serif" font-size="7.2" font-weight="bold" text-anchor="middle" fill="#111" stroke="#111" stroke-width="0.05" >10</text>
<text x="78" y="834.7" font-family="'Liberation Serif', serif" font-size="7.2" font-weight="bold" text-anchor="middle" fill="#111" stroke="#111" stroke-width="0.05" >20</text>
<text x="102.3" y="834.7" font-family="'Liberation Serif', serif" font-size="7.2" font-weight="bold" text-anchor="middle" fill="#111" stroke="#111" stroke-width="0.05" >30</text>
<text x="126.6" y="834.7" font-family="'Liberation Serif', serif" font-size="7.2" font-weight="bold" text-anchor="middle" fill="#111" stroke="#111" stroke-width="0.05" >40</text>
<text x="150.9" y="834.7" font-family="'Liberation Serif', serif" font-size="7.2" font-weight="bold" text-anchor="middle" fill="#111" stroke="#111" stroke-width="0.05" >50</text>
<text x="175.2" y="834.7" font-family="'Liberation Serif', serif" font-size="7.2" font-weight="bold" text-anchor="middle" fill="#111" stroke="#111" stroke-width="0.05" >60</text>
<text x="25.4" y="711.1" font-family="'Liberation Serif', serif" font-size="7.2" font-weight="bold" text-anchor="end" fill="#111" stroke="#111" stroke-width="0.05" >4</text>
<text x="25.4" y="725.7" font-family="'Liberation Serif', serif" font-size="7.2" font-weight="bold" text-anchor="end" fill="#111" stroke="#111" stroke-width="0.05" >2</text>
<text x="25.4" y="740.2" font-family="'Liberation Serif', serif" font-size="7.2" font-weight="bold" text-anchor="end" fill="#111" stroke="#111" stroke-width="0.05" >0</text>
<text x="25.4" y="754.7" font-family="'Liberation Serif', serif" font-size="7.2" font-weight="bold" text-anchor="end" fill="#111" stroke="#111" stroke-width="0.05" >&#8722;2</text>
<text x="25.4" y="769.2" font-family="'Liberation Serif', serif" font-size="7.2" font-weight="bold" text-anchor="end" fill="#111" stroke="#111" stroke-width="0.05" >&#8722;4</text>
<text x="25.4" y="783.8" font-family="'Liberation Serif', serif" font-size="7.2" font-weight="bold" text-anchor="end" fill="#111" stroke="#111" stroke-width="0.05" >&#8722;6</text>
<text x="25.4" y="798.3" font-family="'Liberation Serif', serif" font-size="7.2" font-weight="bold" text-anchor="end" fill="#111" stroke="#111" stroke-width="0.05" >&#8722;8</text>
<text x="25.4" y="812.8" font-family="'Liberation Serif', serif" font-size="7.2" font-weight="bold" text-anchor="end" fill="#111" stroke="#111" stroke-width="0.05" >&#8722;10</text>
<text x="25.4" y="827.3" font-family="'Liberation Serif', serif" font-size="7.2" font-weight="bold" text-anchor="end" fill="#111" stroke="#111" stroke-width="0.05" >&#8722;12</text>
<text x="99.6" y="843.5" font-family="'Liberation Serif', serif" font-size="7.4" font-weight="bold" text-anchor="middle" fill="#111" stroke="#111" stroke-width="0.05"  textLength="15.3" lengthAdjust="spacingAndGlyphs">Z (&#197;)</text>
<text transform="translate(12.5,766.9) rotate(-90)" font-family="'Liberation Serif', serif" font-size="8.0" font-weight="bold" text-anchor="middle" fill="#111" stroke="#111" stroke-width="0.05" textLength="45.3" lengthAdjust="spacingAndGlyphs">V Potential (eV)</text>
<line x1="5.6" y1="789.3" x2="5.6" y2="785.2" stroke="#111" stroke-width="0.72"/>
<line x1="29.4" y1="756.3" x2="180.1" y2="756.3" stroke="#9a9a9a" stroke-width="1.0" stroke-dasharray="1.5 1.7" stroke-dashoffset="0"/>
<path d="M29.4 757.2 L29.6 757.8 L29.7 758.6 L29.9 759.6 L30.1 760.6 L30.2 761.8 L30.4 763 L30.6 764.5 L30.7 766.2 L30.9 768.3 L31.1 771.6 L31.2 775.9 L31.4 780.3 L31.6 785.3 L31.7 789.7 L31.9 791.7 L32.1 793 L32.2 794.1 L32.4 794.9 L32.6 795.5 L32.8 796.1 L32.9 796.5 L33.1 796.9 L33.3 797.2 L33.4 797.5 L33.6 797.9 L33.8 798.4 L33.9 798.9 L34.1 799.6 L34.3 800.4 L34.4 801.3 L34.6 802.4 L34.8 803.7 L34.9 806.1 L35.1 809.9 L35.3 812.3 L35.4 811.5 L35.6 808.2 L35.8 803.7 L35.9 798.9 L36.1 792.6 L36.3 785.1 L36.4 777.5 L36.6 770.6 L36.8 763.5 L36.9 757 L37.1 751.7 L37.3 747.4 L37.4 743.6 L37.6 740.6 L37.8 738.6 L37.9 736.9 L38.1 735.5 L38.3 734.4 L38.5 733.9 L38.6 733.4 L38.8 733.1 L39 732.7 L39.1 732.5 L39.3 732.3 L39.5 732.1 L39.6 732 L39.8 732 L40 732 L40.1 731.9 L40.3 731.9 L40.5 731.9 L40.6 731.9 L40.8 731.8 L41 731.8 L41.1 731.8 L41.3 731.8 L41.5 731.8 L41.6 731.8 L41.8 731.8 L42 731.8 L42.1 731.8 L42.3 731.8 L42.5 731.8 L42.6 731.8 L42.8 731.8 L43 731.8 L43.1 731.8 L43.3 731.8 L43.5 731.8 L43.6 731.8 L43.8 731.8 L44 731.8 L44.2 731.8 L44.3 731.8 L44.5 731.8 L44.7 731.8 L44.8 731.8 L45 731.8 L45.2 731.8 L45.3 731.8 L45.5 731.8 L45.7 731.8 L45.8 731.8 L46 731.8 L46.2 731.8 L46.3 731.8 L46.5 731.8 L46.7 731.8 L46.8 731.8 L47 731.8 L47.2 731.8 L47.3 731.8 L47.5 731.8 L47.7 731.8 L47.8 731.8 L48 731.8 L48.2 731.8 L48.3 731.8 L48.5 731.8 L48.7 731.8 L48.8 731.8 L49 731.8 L49.2 731.8 L49.3 731.8 L49.5 731.8 L49.7 731.8 L49.9 731.8 L50 731.8 L50.2 731.8 L50.4 731.8 L50.5 731.8 L50.7 731.8 L50.9 731.8 L51 731.8 L51.2 731.8 L51.4 731.8 L51.5 731.8 L51.7 731.8 L51.9 731.8 L52 731.8 L52.2 731.8 L52.4 731.8 L52.5 731.8 L52.7 731.8 L52.9 731.8 L53 731.8 L53.2 731.8 L53.4 731.8 L53.5 731.8 L53.7 731.8 L53.9 731.8 L54 731.8 L54.2 731.8 L54.4 731.8 L54.5 731.8 L54.7 731.8 L54.9 731.8 L55 731.8 L55.2 731.8 L55.4 731.8 L55.6 731.8 L55.7 731.8 L55.9 731.8 L56.1 731.8 L56.2 731.8 L56.4 731.8 L56.6 731.8 L56.7 731.8 L56.9 731.8 L57.1 731.8 L57.2 731.8 L57.4 731.8 L57.6 731.8 L57.7 731.8 L57.9 731.8 L58.1 731.8 L58.2 731.8 L58.4 731.8 L58.6 731.8 L58.7 731.8 L58.9 731.8 L59.1 731.8 L59.2 731.8 L59.4 731.8 L59.6 731.8 L59.7 731.8 L59.9 731.8 L60.1 731.8 L60.2 731.8 L60.4 731.8 L60.6 731.8 L60.7 731.8 L60.9 731.8 L61.1 731.8 L61.2 731.8 L61.4 731.8 L61.6 731.8 L61.8 731.8 L61.9 731.8 L62.1 731.8 L62.3 731.8 L62.4 731.8 L62.6 731.8 L62.8 731.8 L62.9 731.8 L63.1 731.8 L63.3 731.8 L63.4 731.8 L63.6 731.8 L63.8 731.8 L63.9 731.8 L64.1 731.8 L64.3 731.8 L64.4 731.8 L64.6 731.8 L64.8 731.8 L64.9 731.8 L65.1 731.8 L65.3 731.8 L65.4 731.8 L65.6 731.8 L65.8 731.8 L65.9 731.8 L66.1 731.8 L66.3 731.8 L66.4 731.8 L66.6 731.8 L66.8 731.8 L66.9 731.8 L67.1 731.8 L67.3 731.8 L67.5 731.8 L67.6 731.8 L67.8 731.8 L68 731.8 L68.1 731.8 L68.3 731.8 L68.5 731.8 L68.6 731.8 L68.8 731.8 L69 731.8 L69.1 731.8 L69.3 731.8 L69.5 731.8 L69.6 731.8 L69.8 731.8 L70 731.8 L70.1 731.8 L70.3 731.8 L70.5 731.8 L70.6 731.8 L70.8 731.8 L71 731.8 L71.1 731.8 L71.3 731.8 L71.5 731.8 L71.6 731.8 L71.8 731.8 L72 731.8 L72.1 731.8 L72.3 731.8 L72.5 731.8 L72.6 731.8 L72.8 731.8 L73 731.8 L73.2 731.8 L73.3 731.8 L73.5 731.8 L73.7 731.8 L73.8 731.8 L74 731.8 L74.2 731.8 L74.3 731.8 L74.5 731.8 L74.7 731.8 L74.8 731.8 L75 731.8 L75.2 731.8 L75.3 731.8 L75.5 731.8 L75.7 731.8 L75.8 731.8 L76 731.8 L76.2 731.8 L76.3 731.8 L76.5 731.8 L76.7 731.8 L76.8 731.8 L77 731.8 L77.2 731.8 L77.3 731.8 L77.5 731.8 L77.7 731.8 L77.8 731.8 L78 731.8 L78.2 731.8 L78.3 731.8 L78.5 731.8 L78.7 731.8 L78.9 731.8 L79 731.8 L79.2 731.8 L79.4 731.8 L79.5 731.8 L79.7 731.8 L79.9 731.8 L80 731.8 L80.2 731.8 L80.4 731.8 L80.5 731.8 L80.7 731.8 L80.9 731.8 L81 731.8 L81.2 731.8 L81.4 731.8 L81.5 731.8 L81.7 731.8 L81.9 731.8 L82 731.8 L82.2 731.8 L82.4 731.8 L82.5 731.8 L82.7 731.8 L82.9 731.8 L83 731.8 L83.2 731.8 L83.4 731.8 L83.5 731.8 L83.7 731.8 L83.9 731.8 L84 731.8 L84.2 731.8 L84.4 731.8 L84.6 731.8 L84.7 731.8 L84.9 731.8 L85.1 731.8 L85.2 731.8 L85.4 731.8 L85.6 731.8 L85.7 731.8 L85.9 731.8 L86.1 731.8 L86.2 731.8 L86.4 731.8 L86.6 731.8 L86.7 731.8 L86.9 731.8 L87.1 731.8 L87.2 731.8 L87.4 731.8 L87.6 731.8 L87.7 731.8 L87.9 731.8 L88.1 731.8 L88.2 731.8 L88.4 731.8 L88.6 731.8 L88.7 731.8 L88.9 731.8 L89.1 731.8 L89.2 731.8 L89.4 731.8 L89.6 731.8 L89.7 731.8 L89.9 731.8 L90.1 731.8 L90.2 731.8 L90.4 731.8 L90.6 731.8 L90.8 731.8 L90.9 731.8 L91.1 731.8 L91.3 731.8 L91.4 731.8 L91.6 731.8 L91.8 731.8 L91.9 731.8 L92.1 731.8 L92.3 731.8 L92.4 731.8 L92.6 731.8 L92.8 731.8 L92.9 731.8 L93.1 731.8 L93.3 731.8 L93.4 731.8 L93.6 731.8 L93.8 731.8 L93.9 731.8 L94.1 731.8 L94.3 731.8 L94.4 731.8 L94.6 731.8 L94.8 731.8 L94.9 731.8 L95.1 731.8 L95.3 731.8 L95.4 731.8 L95.6 731.8 L95.8 731.8 L95.9 731.8 L96.1 731.8 L96.3 731.8 L96.5 731.8 L96.6 731.8 L96.8 731.8 L97 731.8 L97.1 731.8 L97.3 731.8 L97.5 731.8 L97.6 731.8 L97.8 731.8 L98 731.8 L98.1 731.8 L98.3 731.8 L98.5 731.8 L98.6 731.8 L98.8 731.8 L99 731.8 L99.1 731.8 L99.3 731.8 L99.5 731.8 L99.6 731.8 L99.8 731.8 L100 731.8 L100.1 731.8 L100.3 731.8 L100.5 731.8 L100.6 731.8 L100.8 731.8 L101 731.8 L101.1 731.8 L101.3 731.8 L101.5 731.8 L101.6 731.8 L101.8 731.8 L102 731.8 L102.2 731.8 L102.3 731.8 L102.5 731.8 L102.7 731.8 L102.8 731.8 L103 731.8 L103.2 731.8 L103.3 731.8 L103.5 731.8 L103.7 731.8 L103.8 731.8 L104 731.8 L104.2 731.8 L104.3 731.8 L104.5 731.8 L104.7 731.8 L104.8 731.8 L105 731.8 L105.2 731.8 L105.3 731.8 L105.5 731.8 L105.7 731.8 L105.8 731.8 L106 731.8 L106.2 731.8 L106.3 731.8 L106.5 731.8 L106.7 731.8 L106.8 731.8 L107 731.8 L107.2 731.8 L107.3 731.8 L107.5 731.8 L107.7 731.8 L107.9 731.8 L108 731.8 L108.2 731.8 L108.4 731.8 L108.5 731.8 L108.7 731.8 L108.9 731.8 L109 731.8 L109.2 731.8 L109.4 731.8 L109.5 731.8 L109.7 731.8 L109.9 731.8 L110 731.8 L110.2 731.8 L110.4 731.8 L110.5 731.8 L110.7 731.8 L110.9 731.8 L111 731.8 L111.2 731.8 L111.4 731.8 L111.5 731.8 L111.7 731.8 L111.9 731.8 L112 731.8 L112.2 731.8 L112.4 731.8 L112.5 731.8 L112.7 731.8 L112.9 731.8 L113 731.8 L113.2 731.8 L113.4 731.8 L113.6 731.8 L113.7 731.8 L113.9 731.8 L114.1 731.8 L114.2 731.8 L114.4 731.8 L114.6 731.8 L114.7 731.8 L114.9 731.8 L115.1 731.8 L115.2 731.8 L115.4 731.8 L115.6 731.8 L115.7 731.8 L115.9 731.8 L116.1 731.8 L116.2 731.8 L116.4 731.8 L116.6 731.8 L116.7 731.8 L116.9 731.8 L117.1 731.8 L117.2 731.8 L117.4 731.8 L117.6 731.8 L117.7 731.8 L117.9 731.8 L118.1 731.8 L118.2 731.8 L118.4 731.8 L118.6 731.8 L118.7 731.8 L118.9 731.8 L119.1 731.8 L119.3 731.8 L119.4 731.8 L119.6 731.8 L119.8 731.8 L119.9 731.8 L120.1 731.8 L120.3 731.8 L120.4 731.8 L120.6 731.8 L120.8 731.8 L120.9 731.8 L121.1 731.8 L121.3 731.8 L121.4 731.8 L121.6 731.8 L121.8 731.8 L121.9 731.8 L122.1 731.8 L122.3 731.8 L122.4 731.8 L122.6 731.8 L122.8 731.8 L122.9 731.8 L123.1 731.8 L123.3 731.8 L123.4 731.8 L123.6 731.8 L123.8 731.8 L123.9 731.8 L124.1 731.8 L124.3 731.8 L124.4 731.8 L124.6 731.8 L124.8 731.8 L124.9 731.8 L125.1 731.8 L125.3 731.8 L125.5 731.8 L125.6 731.8 L125.8 731.8 L126 731.8 L126.1 731.8 L126.3 731.8 L126.5 731.8 L126.6 731.8 L126.8 731.8 L127 731.8 L127.1 731.8 L127.3 731.8 L127.5 731.8 L127.6 731.8 L127.8 731.8 L128 731.8 L128.1 731.8 L128.3 731.8 L128.5 731.8 L128.6 731.8 L128.8 731.8 L129 731.8 L129.1 731.8 L129.3 731.8 L129.5 731.8 L129.6 731.8 L129.8 731.8 L130 731.8 L130.1 731.8 L130.3 731.8 L130.5 731.8 L130.6 731.8 L130.8 731.8 L131 731.8 L131.2 731.8 L131.3 731.8 L131.5 731.8 L131.7 731.8 L131.8 731.8 L132 731.8 L132.2 731.8 L132.3 731.8 L132.5 731.8 L132.7 731.8 L132.8 731.8 L133 731.8 L133.2 731.8 L133.3 731.8 L133.5 731.8 L133.7 731.8 L133.8 731.8 L134 731.8 L134.2 731.8 L134.3 731.8 L134.5 731.8 L134.7 731.8 L134.8 731.8 L135 731.8 L135.2 731.8 L135.3 731.8 L135.5 731.8 L135.7 731.8 L135.8 731.8 L136 731.8 L136.2 731.8 L136.3 731.8 L136.5 731.8 L136.7 731.8 L136.9 731.8 L137 731.8 L137.2 731.8 L137.4 731.8 L137.5 731.8 L137.7 731.8 L137.9 731.8 L138 731.8 L138.2 731.8 L138.4 731.8 L138.5 731.8 L138.7 731.8 L138.9 731.8 L139 731.8 L139.2 731.8 L139.4 731.8 L139.5 731.8 L139.7 731.8 L139.9 731.8 L140 731.8 L140.2 731.8 L140.4 731.8 L140.5 731.8 L140.7 731.8 L140.9 731.8 L141 731.8 L141.2 731.8 L141.4 731.8 L141.5 731.8 L141.7 731.8 L141.9 731.8 L142 731.8 L142.2 731.8 L142.4 731.8 L142.6 731.8 L142.7 731.8 L142.9 731.8 L143.1 731.8 L143.2 731.8 L143.4 731.8 L143.6 731.8 L143.7 731.8 L143.9 731.8 L144.1 731.8 L144.2 731.8 L144.4 731.8 L144.6 731.8 L144.7 731.8 L144.9 731.8 L145.1 731.8 L145.2 731.8 L145.4 731.8 L145.6 731.8 L145.7 731.8 L145.9 731.8 L146.1 731.8 L146.2 731.8 L146.4 731.8 L146.6 731.8 L146.7 731.8 L146.9 731.8 L147.1 731.8 L147.2 731.8 L147.4 731.8 L147.6 731.8 L147.7 731.8 L147.9 731.8 L148.1 731.8 L148.3 731.8 L148.4 731.8 L148.6 731.8 L148.8 731.8 L148.9 731.8 L149.1 731.8 L149.3 731.8 L149.4 731.8 L149.6 731.8 L149.8 731.8 L149.9 731.8 L150.1 731.8 L150.3 731.8 L150.4 731.8 L150.6 731.8 L150.8 731.8 L150.9 731.8 L151.1 731.8 L151.3 731.8 L151.4 731.8 L151.6 731.8 L151.8 731.8 L151.9 731.8 L152.1 731.8 L152.3 731.8 L152.4 731.8 L152.6 731.8 L152.8 731.8 L152.9 731.8 L153.1 731.8 L153.3 731.8 L153.4 731.8 L153.6 731.8 L153.8 731.8 L153.9 731.8 L154.1 731.8 L154.3 731.8 L154.5 731.8 L154.6 731.8 L154.8 731.8 L155 731.8 L155.1 731.8 L155.3 731.8 L155.5 731.8 L155.6 731.8 L155.8 731.8 L156 731.8 L156.1 731.8 L156.3 731.8 L156.5 731.8 L156.6 731.8 L156.8 731.8 L157 731.8 L157.1 731.8 L157.3 731.8 L157.5 731.8 L157.6 731.8 L157.8 731.8 L158 731.8 L158.1 731.8 L158.3 731.8 L158.5 731.8 L158.6 731.8 L158.8 731.8 L159 731.8 L159.1 731.8 L159.3 731.8 L159.5 731.8 L159.6 731.8 L159.8 731.8 L160 731.8 L160.2 731.8 L160.3 731.8 L160.5 731.8 L160.7 731.8 L160.8 731.8 L161 731.8 L161.2 731.8 L161.3 731.8 L161.5 731.8 L161.7 731.8 L161.8 731.8 L162 731.8 L162.2 731.8 L162.3 731.8 L162.5 731.8 L162.7 731.8 L162.8 731.8 L163 731.8 L163.2 731.8 L163.3 731.8 L163.5 731.8 L163.7 731.8 L163.8 731.8 L164 731.8 L164.2 731.8 L164.3 731.8 L164.5 731.8 L164.7 731.8 L164.8 731.8 L165 731.8 L165.2 731.8 L165.3 731.8 L165.5 731.8 L165.7 731.8 L165.9 731.8 L166 731.8 L166.2 731.8 L166.4 731.8 L166.5 731.8 L166.7 731.8 L166.9 731.8 L167 731.8 L167.2 731.8 L167.4 731.8 L167.5 731.8 L167.7 731.8 L167.9 731.8 L168 731.8 L168.2 731.8 L168.4 731.8 L168.5 731.8 L168.7 731.8 L168.9 731.9 L169 731.9 L169.2 731.9 L169.4 731.9 L169.5 732 L169.7 732 L169.9 732 L170 732.1 L170.2 732.3 L170.4 732.5 L170.5 732.7 L170.7 733.1 L170.9 733.4 L171 733.9 L171.2 734.4 L171.4 735.5 L171.6 736.9 L171.7 738.6 L171.9 740.6 L172.1 743.6 L172.2 747.4 L172.4 751.7 L172.6 757 L172.7 763.5 L172.9 770.6 L173.1 777.5 L173.2 785.1 L173.4 792.6 L173.6 798.9 L173.7 803.7 L173.9 808.2 L174.1 811.5 L174.2 812.3 L174.4 809.9 L174.6 806.1 L174.7 803.7 L174.9 802.4 L175.1 801.3 L175.2 800.4 L175.4 799.6 L175.6 798.9 L175.7 798.4 L175.9 797.9 L176.1 797.5 L176.2 797.2 L176.4 796.9 L176.6 796.5 L176.7 796.1 L176.9 795.5 L177.1 794.9 L177.3 794.1 L177.4 793 L177.6 791.7 L177.8 789.7 L177.9 785.3 L178.1 780.3 L178.3 775.9 L178.4 771.6 L178.6 768.3 L178.8 766.2 L178.9 764.5 L179.1 763 L179.3 761.8 L179.4 760.6 L179.6 759.6 L179.8 758.6 L179.9 757.8 L180.1 757.2" stroke="#1e9cf0" stroke-width="1.5" fill="none"/>
<line x1="125.9" y1="722.4" x2="143.5" y2="722.4" stroke="#1e9cf0" stroke-width="1.1"/>
<text x="145.3" y="724.7" font-family="'Liberation Serif', serif" font-size="6.7" font-weight="bold" text-anchor="start" fill="#111" stroke="#111" stroke-width="0.05"  textLength="31.7" lengthAdjust="spacingAndGlyphs">Gd_GdHO</text>
<text x="82.8" y="726.6" font-family="'Liberation Serif', serif" font-size="6.7" font-weight="bold" text-anchor="start" fill="#111" stroke="#111" stroke-width="0.05" textLength="30.5" lengthAdjust="spacingAndGlyphs">E<tspan font-size="5.4" dy="2">V</tspan><tspan dy="-2"> = 0.822</tspan></text>
<text x="82.8" y="764.5" font-family="'Liberation Serif', serif" font-size="6.7" font-weight="bold" text-anchor="start" fill="#111" stroke="#111" stroke-width="0.05" textLength="32" lengthAdjust="spacingAndGlyphs">E<tspan font-size="5.4" dy="2">f</tspan><tspan dy="-2"> = -2.560</tspan></text>
<text x="80.2" y="799.4" font-family="'Liberation Serif', serif" font-size="6.7" font-weight="bold" text-anchor="start" fill="#111" stroke="#111" stroke-width="0.05"  textLength="37.5" lengthAdjust="spacingAndGlyphs">&#934; = 3.382 eV</text>
<rect x="209.4" y="708.7" width="150.4" height="116.3" fill="none" stroke="#8c8c8c" stroke-width="1.3"/>
<path d="M209.4 825v2.2 M230.1 825v2.2 M250.8 825v2.2 M271.5 825v2.2 M292.3 825v2.2 M313 825v2.2 M333.7 825v2.2 M354.4 825v2.2 M209.4 708.7h-2.2 M209.4 721.6h-2.2 M209.4 734.5h-2.2 M209.4 747.5h-2.2 M209.4 760.4h-2.2 M209.4 773.3h-2.2 M209.4 786.2h-2.2 M209.4 799.2h-2.2 M209.4 812.1h-2.2 M209.4 825h-2.2 M209.4 715.2h-1.2 M209.4 728.1h-1.2 M209.4 741h-1.2 M209.4 753.9h-1.2 M209.4 766.9h-1.2 M209.4 779.8h-1.2 M209.4 792.7h-1.2 M209.4 805.6h-1.2 M209.4 818.5h-1.2" stroke="#8c8c8c" stroke-width="1.3" fill="none"/>
<text x="209.4" y="834.8" font-family="'Liberation Sans', sans-serif" font-size="7.2" font-weight="bold" text-anchor="middle" fill="#111" stroke="#111" stroke-width="0.22" >0</text>
<text x="230.1" y="834.8" font-family="'Liberation Sans', sans-serif" font-size="7.2" font-weight="bold" text-anchor="middle" fill="#111" stroke="#111" stroke-width="0.22" >5</text>
<text x="250.8" y="834.8" font-family="'Liberation Sans', sans-serif" font-size="7.2" font-weight="bold" text-anchor="middle" fill="#111" stroke="#111" stroke-width="0.22" >10</text>
<text x="271.5" y="834.8" font-family="'Liberation Sans', sans-serif" font-size="7.2" font-weight="bold" text-anchor="middle" fill="#111" stroke="#111" stroke-width="0.22" >15</text>
<text x="292.3" y="834.8" font-family="'Liberation Sans', sans-serif" font-size="7.2" font-weight="bold" text-anchor="middle" fill="#111" stroke="#111" stroke-width="0.22" >20</text>
<text x="313" y="834.8" font-family="'Liberation Sans', sans-serif" font-size="7.2" font-weight="bold" text-anchor="middle" fill="#111" stroke="#111" stroke-width="0.22" >25</text>
<text x="333.7" y="834.8" font-family="'Liberation Sans', sans-serif" font-size="7.2" font-weight="bold" text-anchor="middle" fill="#111" stroke="#111" stroke-width="0.22" >30</text>
<text x="354.4" y="834.8" font-family="'Liberation Sans', sans-serif" font-size="7.2" font-weight="bold" text-anchor="middle" fill="#111" stroke="#111" stroke-width="0.22" >35</text>
<text x="205.4" y="711.1" font-family="'Liberation Sans', sans-serif" font-size="7.2" font-weight="bold" text-anchor="end" fill="#111" stroke="#111" stroke-width="0.22" >4</text>
<text x="205.4" y="724.1" font-family="'Liberation Sans', sans-serif" font-size="7.2" font-weight="bold" text-anchor="end" fill="#111" stroke="#111" stroke-width="0.22" >2</text>
<text x="205.4" y="737" font-family="'Liberation Sans', sans-serif" font-size="7.2" font-weight="bold" text-anchor="end" fill="#111" stroke="#111" stroke-width="0.22" >0</text>
<text x="205.4" y="749.9" font-family="'Liberation Sans', sans-serif" font-size="7.2" font-weight="bold" text-anchor="end" fill="#111" stroke="#111" stroke-width="0.22" >&#8722;2</text>
<text x="205.4" y="762.8" font-family="'Liberation Sans', sans-serif" font-size="7.2" font-weight="bold" text-anchor="end" fill="#111" stroke="#111" stroke-width="0.22" >&#8722;4</text>
<text x="205.4" y="775.8" font-family="'Liberation Sans', sans-serif" font-size="7.2" font-weight="bold" text-anchor="end" fill="#111" stroke="#111" stroke-width="0.22" >&#8722;6</text>
<text x="205.4" y="788.7" font-family="'Liberation Sans', sans-serif" font-size="7.2" font-weight="bold" text-anchor="end" fill="#111" stroke="#111" stroke-width="0.22" >&#8722;8</text>
<text x="205.4" y="801.6" font-family="'Liberation Sans', sans-serif" font-size="7.2" font-weight="bold" text-anchor="end" fill="#111" stroke="#111" stroke-width="0.22" >&#8722;10</text>
<text x="205.4" y="814.5" font-family="'Liberation Sans', sans-serif" font-size="7.2" font-weight="bold" text-anchor="end" fill="#111" stroke="#111" stroke-width="0.22" >&#8722;12</text>
<text x="205.4" y="827.4" font-family="'Liberation Sans', sans-serif" font-size="7.2" font-weight="bold" text-anchor="end" fill="#111" stroke="#111" stroke-width="0.22" >&#8722;14</text>
<text x="279.5" y="843.5" font-family="'Liberation Sans', sans-serif" font-size="7.4" font-weight="bold" text-anchor="middle" fill="#111" stroke="#111" stroke-width="0.22"  textLength="15.3" lengthAdjust="spacingAndGlyphs">Z (&#197;)</text>
<text transform="translate(191.6,766.9) rotate(-90)" font-family="'Liberation Sans', sans-serif" font-size="7.4" font-weight="bold" text-anchor="middle" fill="#111" stroke="#111" stroke-width="0.22" textLength="49.2" lengthAdjust="spacingAndGlyphs">V Potential (eV)</text>
<line x1="185.2" y1="791.3" x2="185.2" y2="786.8" stroke="#111" stroke-width="0.666"/>
<line x1="209.4" y1="758.8" x2="359.8" y2="758.8" stroke="#9a9a9a" stroke-width="1.0" stroke-dasharray="1.5 1.7" stroke-dashoffset="0"/>
<path d="M209.4 732.2 L209.6 732.4 L209.7 732.6 L209.9 732.8 L210.1 733.1 L210.2 733.3 L210.4 733.6 L210.6 733.9 L210.7 734.1 L210.9 734.3 L211.1 734.6 L211.2 734.9 L211.4 735.3 L211.6 735.8 L211.7 736.5 L211.9 737.7 L212.1 739.3 L212.2 741.2 L212.4 743.3 L212.6 745.7 L212.7 748.7 L212.9 752.8 L213.1 757.2 L213.2 761 L213.4 764.5 L213.6 767.8 L213.7 771 L213.9 774.5 L214.1 778.1 L214.3 782.7 L214.4 788.3 L214.6 794.4 L214.8 800.4 L214.9 805.7 L215.1 809.6 L215.3 811.5 L215.4 811.3 L215.6 809.9 L215.8 808 L215.9 805.9 L216.1 803.8 L216.3 801.3 L216.4 798.6 L216.6 795.9 L216.8 793.6 L216.9 791.9 L217.1 790.2 L217.3 788.7 L217.4 787.2 L217.6 785.9 L217.8 784.6 L217.9 783.3 L218.1 782.1 L218.3 781 L218.4 779.9 L218.6 778.7 L218.8 777.6 L218.9 776.5 L219.1 775.4 L219.3 774.3 L219.4 773.1 L219.6 771.9 L219.8 770.7 L219.9 769.4 L220.1 768.2 L220.3 766.9 L220.4 765.7 L220.6 764.5 L220.8 763.3 L220.9 762.1 L221.1 760.8 L221.3 759.6 L221.4 758.4 L221.6 757.1 L221.8 755.8 L221.9 754.5 L222.1 753.2 L222.3 751.8 L222.4 750.4 L222.6 749 L222.8 747.4 L223 745.6 L223.1 743.7 L223.3 741.8 L223.5 739.9 L223.6 738.2 L223.8 736.6 L224 735.3 L224.1 734.3 L224.3 733.5 L224.5 732.7 L224.6 732.1 L224.8 731.4 L225 730.9 L225.1 730.4 L225.3 729.9 L225.5 729.5 L225.6 729.1 L225.8 728.8 L226 728.5 L226.1 728.2 L226.3 728 L226.5 727.7 L226.6 727.5 L226.8 727.4 L227 727.2 L227.1 727.1 L227.3 727 L227.5 726.9 L227.6 726.7 L227.8 726.6 L228 726.5 L228.1 726.4 L228.3 726.3 L228.5 726.2 L228.6 726.2 L228.8 726.1 L229 726 L229.1 725.9 L229.3 725.9 L229.5 725.8 L229.6 725.8 L229.8 725.7 L230 725.7 L230.1 725.6 L230.3 725.6 L230.5 725.6 L230.6 725.6 L230.8 725.6 L231 725.6 L231.1 725.6 L231.3 725.6 L231.5 725.6 L231.7 725.6 L231.8 725.6 L232 725.6 L232.2 725.6 L232.3 725.6 L232.5 725.6 L232.7 725.6 L232.8 725.6 L233 725.6 L233.2 725.6 L233.3 725.6 L233.5 725.6 L233.7 725.6 L233.8 725.6 L234 725.6 L234.2 725.6 L234.3 725.6 L234.5 725.6 L234.7 725.6 L234.8 725.6 L235 725.6 L235.2 725.6 L235.3 725.6 L235.5 725.6 L235.7 725.6 L235.8 725.6 L236 725.6 L236.2 725.6 L236.3 725.6 L236.5 725.6 L236.7 725.6 L236.8 725.6 L237 725.6 L237.2 725.6 L237.3 725.6 L237.5 725.6 L237.7 725.6 L237.8 725.6 L238 725.6 L238.2 725.6 L238.3 725.6 L238.5 725.6 L238.7 725.6 L238.8 725.6 L239 725.6 L239.2 725.6 L239.3 725.6 L239.5 725.6 L239.7 725.6 L239.8 725.6 L240 725.6 L240.2 725.6 L240.3 725.6 L240.5 725.6 L240.7 725.6 L240.9 725.6 L241 725.6 L241.2 725.6 L241.4 725.6 L241.5 725.6 L241.7 725.6 L241.9 725.6 L242 725.6 L242.2 725.6 L242.4 725.6 L242.5 725.6 L242.7 725.6 L242.9 725.6 L243 725.6 L243.2 725.6 L243.4 725.6 L243.5 725.6 L243.7 725.6 L243.9 725.6 L244 725.6 L244.2 725.6 L244.4 725.6 L244.5 725.6 L244.7 725.6 L244.9 725.6 L245 725.6 L245.2 725.6 L245.4 725.6 L245.5 725.6 L245.7 725.6 L245.9 725.6 L246 725.6 L246.2 725.6 L246.4 725.6 L246.5 725.6 L246.7 725.6 L246.9 725.6 L247 725.6 L247.2 725.6 L247.4 725.6 L247.5 725.6 L247.7 725.6 L247.9 725.6 L248 725.6 L248.2 725.6 L248.4 725.6 L248.5 725.6 L248.7 725.6 L248.9 725.6 L249 725.6 L249.2 725.6 L249.4 725.6 L249.6 725.6 L249.7 725.6 L249.9 725.6 L250.1 725.6 L250.2 725.6 L250.4 725.6 L250.6 725.6 L250.7 725.6 L250.9 725.6 L251.1 725.6 L251.2 725.6 L251.4 725.6 L251.6 725.6 L251.7 725.6 L251.9 725.6 L252.1 725.6 L252.2 725.6 L252.4 725.6 L252.6 725.6 L252.7 725.6 L252.9 725.6 L253.1 725.6 L253.2 725.6 L253.4 725.6 L253.6 725.6 L253.7 725.6 L253.9 725.6 L254.1 725.6 L254.2 725.6 L254.4 725.6 L254.6 725.6 L254.7 725.6 L254.9 725.6 L255.1 725.6 L255.2 725.6 L255.4 725.6 L255.6 725.6 L255.7 725.6 L255.9 725.6 L256.1 725.6 L256.2 725.6 L256.4 725.6 L256.6 725.6 L256.7 725.6 L256.9 725.6 L257.1 725.6 L257.2 725.6 L257.4 725.6 L257.6 725.6 L257.7 725.6 L257.9 725.6 L258.1 725.6 L258.3 725.6 L258.4 725.6 L258.6 725.6 L258.8 725.6 L258.9 725.6 L259.1 725.6 L259.3 725.6 L259.4 725.6 L259.6 725.6 L259.8 725.6 L259.9 725.6 L260.1 725.6 L260.3 725.6 L260.4 725.6 L260.6 725.6 L260.8 725.6 L260.9 725.6 L261.1 725.6 L261.3 725.6 L261.4 725.6 L261.6 725.6 L261.8 725.6 L261.9 725.6 L262.1 725.6 L262.3 725.6 L262.4 725.6 L262.6 725.6 L262.8 725.6 L262.9 725.6 L263.1 725.6 L263.3 725.6 L263.4 725.6 L263.6 725.6 L263.8 725.6 L263.9 725.6 L264.1 725.6 L264.3 725.6 L264.4 725.6 L264.6 725.6 L264.8 725.6 L264.9 725.6 L265.1 725.6 L265.3 725.6 L265.4 725.6 L265.6 725.6 L265.8 725.6 L265.9 725.6 L266.1 725.6 L266.3 725.6 L266.4 725.6 L266.6 725.6 L266.8 725.6 L267 725.6 L267.1 725.6 L267.3 725.6 L267.5 725.6 L267.6 725.6 L267.8 725.6 L268 725.6 L268.1 725.6 L268.3 725.6 L268.5 725.6 L268.6 725.6 L268.8 725.6 L269 725.6 L269.1 725.6 L269.3 725.6 L269.5 725.6 L269.6 725.6 L269.8 725.6 L270 725.6 L270.1 725.6 L270.3 725.6 L270.5 725.6 L270.6 725.6 L270.8 725.6 L271 725.6 L271.1 725.6 L271.3 725.6 L271.5 725.6 L271.6 725.6 L271.8 725.6 L272 725.6 L272.1 725.6 L272.3 725.6 L272.5 725.6 L272.6 725.6 L272.8 725.6 L273 725.6 L273.1 725.6 L273.3 725.6 L273.5 725.6 L273.6 725.6 L273.8 725.6 L274 725.6 L274.1 725.6 L274.3 725.6 L274.5 725.6 L274.6 725.6 L274.8 725.6 L275 725.6 L275.1 725.6 L275.3 725.6 L275.5 725.6 L275.6 725.6 L275.8 725.6 L276 725.6 L276.2 725.6 L276.3 725.6 L276.5 725.6 L276.7 725.6 L276.8 725.6 L277 725.6 L277.2 725.6 L277.3 725.6 L277.5 725.6 L277.7 725.6 L277.8 725.6 L278 725.6 L278.2 725.6 L278.3 725.6 L278.5 725.6 L278.7 725.6 L278.8 725.6 L279 725.6 L279.2 725.6 L279.3 725.6 L279.5 725.6 L279.7 725.6 L279.8 725.6 L280 725.6 L280.2 725.6 L280.3 725.6 L280.5 725.6 L280.7 725.6 L280.8 725.6 L281 725.6 L281.2 725.6 L281.3 725.6 L281.5 725.6 L281.7 725.6 L281.8 725.6 L282 725.6 L282.2 725.6 L282.3 725.6 L282.5 725.6 L282.7 725.6 L282.8 725.6 L283 725.6 L283.2 725.6 L283.3 725.6 L283.5 725.6 L283.7 725.6 L283.8 725.6 L284 725.6 L284.2 725.6 L284.3 725.6 L284.5 725.6 L284.7 725.6 L284.9 725.6 L285 725.6 L285.2 725.6 L285.4 725.6 L285.5 725.6 L285.7 725.6 L285.9 725.6 L286 725.6 L286.2 725.6 L286.4 725.6 L286.5 725.6 L286.7 725.6 L286.9 725.6 L287 725.6 L287.2 725.6 L287.4 725.6 L287.5 725.6 L287.7 725.6 L287.9 725.6 L288 725.6 L288.2 725.6 L288.4 725.6 L288.5 725.6 L288.7 725.6 L288.9 725.6 L289 725.6 L289.2 725.6 L289.4 725.6 L289.5 725.6 L289.7 725.6 L289.9 725.6 L290 725.6 L290.2 725.6 L290.4 725.6 L290.5 725.6 L290.7 725.6 L290.9 725.6 L291 725.6 L291.2 725.6 L291.4 725.6 L291.5 725.6 L291.7 725.6 L291.9 725.6 L292 725.6 L292.2 725.6 L292.4 725.6 L292.5 725.6 L292.7 725.6 L292.9 725.6 L293 725.6 L293.2 725.6 L293.4 725.6 L293.6 725.6 L293.7 725.6 L293.9 725.6 L294.1 725.6 L294.2 725.6 L294.4 725.6 L294.6 725.6 L294.7 725.6 L294.9 725.6 L295.1 725.6 L295.2 725.6 L295.4 725.6 L295.6 725.6 L295.7 725.6 L295.9 725.6 L296.1 725.6 L296.2 725.6 L296.4 725.6 L296.6 725.6 L296.7 725.6 L296.9 725.6 L297.1 725.6 L297.2 725.6 L297.4 725.6 L297.6 725.6 L297.7 725.6 L297.9 725.6 L298.1 725.6 L298.2 725.6 L298.4 725.6 L298.6 725.6 L298.7 725.6 L298.9 725.6 L299.1 725.6 L299.2 725.6 L299.4 725.6 L299.6 725.6 L299.7 725.6 L299.9 725.6 L300.1 725.6 L300.2 725.6 L300.4 725.6 L300.6 725.6 L300.7 725.6 L300.9 725.6 L301.1 725.6 L301.2 725.6 L301.4 725.6 L301.6 725.6 L301.7 725.6 L301.9 725.6 L302.1 725.6 L302.2 725.6 L302.4 725.6 L302.6 725.6 L302.8 725.6 L302.9 725.6 L303.1 725.6 L303.3 725.6 L303.4 725.6 L303.6 725.6 L303.8 725.6 L303.9 725.6 L304.1 725.6 L304.3 725.6 L304.4 725.6 L304.6 725.6 L304.8 725.6 L304.9 725.6 L305.1 725.6 L305.3 725.6 L305.4 725.6 L305.6 725.6 L305.8 725.6 L305.9 725.6 L306.1 725.6 L306.3 725.6 L306.4 725.6 L306.6 725.6 L306.8 725.6 L306.9 725.6 L307.1 725.6 L307.3 725.6 L307.4 725.6 L307.6 725.6 L307.8 725.6 L307.9 725.6 L308.1 725.6 L308.3 725.6 L308.4 725.6 L308.6 725.6 L308.8 725.6 L308.9 725.6 L309.1 725.6 L309.3 725.6 L309.4 725.6 L309.6 725.6 L309.8 725.6 L309.9 725.6 L310.1 725.6 L310.3 725.6 L310.4 725.6 L310.6 725.6 L310.8 725.6 L310.9 725.6 L311.1 725.6 L311.3 725.6 L311.5 725.6 L311.6 725.6 L311.8 725.6 L312 725.6 L312.1 725.6 L312.3 725.6 L312.5 725.6 L312.6 725.6 L312.8 725.6 L313 725.6 L313.1 725.6 L313.3 725.6 L313.5 725.6 L313.6 725.6 L313.8 725.6 L314 725.6 L314.1 725.6 L314.3 725.6 L314.5 725.6 L314.6 725.6 L314.8 725.6 L315 725.6 L315.1 725.6 L315.3 725.6 L315.5 725.6 L315.6 725.6 L315.8 725.6 L316 725.6 L316.1 725.6 L316.3 725.6 L316.5 725.6 L316.6 725.6 L316.8 725.6 L317 725.6 L317.1 725.6 L317.3 725.6 L317.5 725.6 L317.6 725.6 L317.8 725.6 L318 725.6 L318.1 725.6 L318.3 725.6 L318.5 725.6 L318.6 725.6 L318.8 725.6 L319 725.6 L319.1 725.6 L319.3 725.6 L319.5 725.6 L319.6 725.6 L319.8 725.6 L320 725.6 L320.2 725.6 L320.3 725.6 L320.5 725.6 L320.7 725.6 L320.8 725.6 L321 725.6 L321.2 725.6 L321.3 725.6 L321.5 725.6 L321.7 725.6 L321.8 725.6 L322 725.6 L322.2 725.6 L322.3 725.6 L322.5 725.6 L322.7 725.6 L322.8 725.6 L323 725.6 L323.2 725.6 L323.3 725.6 L323.5 725.6 L323.7 725.6 L323.8 725.6 L324 725.6 L324.2 725.6 L324.3 725.6 L324.5 725.6 L324.7 725.6 L324.8 725.6 L325 725.6 L325.2 725.6 L325.3 725.6 L325.5 725.6 L325.7 725.6 L325.8 725.6 L326 725.6 L326.2 725.6 L326.3 725.6 L326.5 725.6 L326.7 725.6 L326.8 725.6 L327 725.6 L327.2 725.6 L327.3 725.6 L327.5 725.6 L327.7 725.6 L327.8 725.6 L328 725.6 L328.2 725.6 L328.3 725.6 L328.5 725.6 L328.7 725.6 L328.9 725.6 L329 725.6 L329.2 725.6 L329.4 725.6 L329.5 725.6 L329.7 725.6 L329.9 725.6 L330 725.6 L330.2 725.6 L330.4 725.6 L330.5 725.6 L330.7 725.6 L330.9 725.6 L331 725.6 L331.2 725.6 L331.4 725.6 L331.5 725.6 L331.7 725.6 L331.9 725.6 L332 725.6 L332.2 725.6 L332.4 725.6 L332.5 725.6 L332.7 725.6 L332.9 725.6 L333 725.6 L333.2 725.6 L333.4 725.6 L333.5 725.6 L333.7 725.6 L333.9 725.6 L334 725.6 L334.2 725.6 L334.4 725.6 L334.5 725.6 L334.7 725.6 L334.9 725.6 L335 725.6 L335.2 725.6 L335.4 725.6 L335.5 725.6 L335.7 725.6 L335.9 725.6 L336 725.6 L336.2 725.6 L336.4 725.6 L336.5 725.6 L336.7 725.6 L336.9 725.6 L337 725.6 L337.2 725.6 L337.4 725.6 L337.5 725.6 L337.7 725.6 L337.9 725.6 L338.1 725.6 L338.2 725.6 L338.4 725.6 L338.6 725.6 L338.7 725.6 L338.9 725.6 L339.1 725.6 L339.2 725.7 L339.4 725.7 L339.6 725.8 L339.7 725.8 L339.9 725.9 L340.1 725.9 L340.2 726 L340.4 726.1 L340.6 726.2 L340.7 726.2 L340.9 726.3 L341.1 726.4 L341.2 726.5 L341.4 726.6 L341.6 726.7 L341.7 726.9 L341.9 727 L342.1 727.1 L342.2 727.2 L342.4 727.4 L342.6 727.5 L342.7 727.7 L342.9 728 L343.1 728.2 L343.2 728.5 L343.4 728.8 L343.6 729.1 L343.7 729.5 L343.9 729.9 L344.1 730.4 L344.2 730.9 L344.4 731.4 L344.6 732.1 L344.7 732.7 L344.9 733.5 L345.1 734.3 L345.2 735.3 L345.4 736.6 L345.6 738.2 L345.7 739.9 L345.9 741.8 L346.1 743.7 L346.2 745.6 L346.4 747.4 L346.6 749 L346.8 750.4 L346.9 751.8 L347.1 753.2 L347.3 754.5 L347.4 755.8 L347.6 757.1 L347.8 758.4 L347.9 759.6 L348.1 760.8 L348.3 762.1 L348.4 763.3 L348.6 764.5 L348.8 765.7 L348.9 766.9 L349.1 768.2 L349.3 769.4 L349.4 770.7 L349.6 771.9 L349.8 773.1 L349.9 774.3 L350.1 775.4 L350.3 776.5 L350.4 777.6 L350.6 778.7 L350.8 779.9 L350.9 781 L351.1 782.1 L351.3 783.3 L351.4 784.6 L351.6 785.9 L351.8 787.2 L351.9 788.7 L352.1 790.2 L352.3 791.9 L352.4 793.6 L352.6 795.9 L352.8 798.6 L352.9 801.3 L353.1 803.8 L353.3 805.9 L353.4 808 L353.6 809.9 L353.8 811.3 L353.9 811.5 L354.1 809.6 L354.3 805.7 L354.4 800.4 L354.6 794.4 L354.8 788.3 L354.9 782.7 L355.1 778.1 L355.3 774.5 L355.5 771 L355.6 767.8 L355.8 764.5 L356 761 L356.1 757.2 L356.3 752.8 L356.5 748.7 L356.6 745.7 L356.8 743.3 L357 741.2 L357.1 739.3 L357.3 737.7 L357.5 736.5 L357.6 735.8 L357.8 735.3 L358 734.9 L358.1 734.6 L358.3 734.3 L358.5 734.1 L358.6 733.9 L358.8 733.6 L359 733.3 L359.1 733.1 L359.3 732.8 L359.5 732.6 L359.6 732.4 L359.8 732.2" stroke="#1e9cf0" stroke-width="1.5" fill="none"/>
<line x1="308.9" y1="718.8" x2="326.1" y2="718.8" stroke="#1e9cf0" stroke-width="1.1"/>
<text x="327.9" y="721.1" font-family="'Liberation Serif', serif" font-size="6.7" font-weight="bold" text-anchor="start" fill="#111" stroke="#111" stroke-width="0.22"  textLength="27.6" lengthAdjust="spacingAndGlyphs">H_GdHO</text>
<text x="257.2" y="721.5" font-family="'Liberation Serif', serif" font-size="6.7" font-weight="bold" text-anchor="start" fill="#111" stroke="#111" stroke-width="0.22" textLength="38.8" lengthAdjust="spacingAndGlyphs">E<tspan font-size="5.4" dy="2">V</tspan><tspan dy="-2"> = 1.334 eV</tspan></text>
<text x="256.5" y="779.4" font-family="'Liberation Serif', serif" font-size="6.7" font-weight="bold" text-anchor="start" fill="#111" stroke="#111" stroke-width="0.22" textLength="40.8" lengthAdjust="spacingAndGlyphs">E<tspan font-size="5.4" dy="2">f</tspan><tspan dy="-2"> = -3.748 eV</tspan></text>
<text x="258.2" y="815.2" font-family="'Liberation Serif', serif" font-size="6.7" font-weight="bold" text-anchor="start" fill="#111" stroke="#111" stroke-width="0.22"  textLength="38.2" lengthAdjust="spacingAndGlyphs">&#934; = 5.492 eV</text>
<rect x="389.2" y="708.7" width="150.4" height="116.2" fill="none" stroke="#8c8c8c" stroke-width="1.3"/>
<path d="M389.2 824.9v2.2 M413.5 824.9v2.2 M437.7 824.9v2.2 M462 824.9v2.2 M486.2 824.9v2.2 M510.5 824.9v2.2 M534.7 824.9v2.2 M401.3 824.9v1.2 M425.6 824.9v1.2 M449.8 824.9v1.2 M474.1 824.9v1.2 M498.4 824.9v1.2 M522.6 824.9v1.2 M389.2 708.7h-2.2 M389.2 723.2h-2.2 M389.2 737.8h-2.2 M389.2 752.3h-2.2 M389.2 766.8h-2.2 M389.2 781.3h-2.2 M389.2 795.9h-2.2 M389.2 810.4h-2.2 M389.2 824.9h-2.2 M389.2 716h-1.2 M389.2 730.5h-1.2 M389.2 745h-1.2 M389.2 759.5h-1.2 M389.2 774.1h-1.2 M389.2 788.6h-1.2 M389.2 803.1h-1.2 M389.2 817.6h-1.2" stroke="#8c8c8c" stroke-width="1.3" fill="none"/>
<text x="389.2" y="834.7" font-family="'Liberation Serif', serif" font-size="7.2" font-weight="bold" text-anchor="middle" fill="#111" stroke="#111" stroke-width="0.05" >0</text>
<text x="413.5" y="834.7" font-family="'Liberation Serif', serif" font-size="7.2" font-weight="bold" text-anchor="middle" fill="#111" stroke="#111" stroke-width="0.05" >10</text>
<text x="437.7" y="834.7" font-family="'Liberation Serif', serif" font-size="7.2" font-weight="bold" text-anchor="middle" fill="#111" stroke="#111" stroke-width="0.05" >20</text>
<text x="462" y="834.7" font-family="'Liberation Serif', serif" font-size="7.2" font-weight="bold" text-anchor="middle" fill="#111" stroke="#111" stroke-width="0.05" >30</text>
<text x="486.2" y="834.7" font-family="'Liberation Serif', serif" font-size="7.2" font-weight="bold" text-anchor="middle" fill="#111" stroke="#111" stroke-width="0.05" >40</text>
<text x="510.5" y="834.7" font-family="'Liberation Serif', serif" font-size="7.2" font-weight="bold" text-anchor="middle" fill="#111" stroke="#111" stroke-width="0.05" >50</text>
<text x="534.7" y="834.7" font-family="'Liberation Serif', serif" font-size="7.2" font-weight="bold" text-anchor="middle" fill="#111" stroke="#111" stroke-width="0.05" >60</text>
<text x="385.2" y="711.1" font-family="'Liberation Serif', serif" font-size="7.2" font-weight="bold" text-anchor="end" fill="#111" stroke="#111" stroke-width="0.05" >4</text>
<text x="385.2" y="725.7" font-family="'Liberation Serif', serif" font-size="7.2" font-weight="bold" text-anchor="end" fill="#111" stroke="#111" stroke-width="0.05" >2</text>
<text x="385.2" y="740.2" font-family="'Liberation Serif', serif" font-size="7.2" font-weight="bold" text-anchor="end" fill="#111" stroke="#111" stroke-width="0.05" >0</text>
<text x="385.2" y="754.7" font-family="'Liberation Serif', serif" font-size="7.2" font-weight="bold" text-anchor="end" fill="#111" stroke="#111" stroke-width="0.05" >&#8722;2</text>
<text x="385.2" y="769.2" font-family="'Liberation Serif', serif" font-size="7.2" font-weight="bold" text-anchor="end" fill="#111" stroke="#111" stroke-width="0.05" >&#8722;4</text>
<text x="385.2" y="783.8" font-family="'Liberation Serif', serif" font-size="7.2" font-weight="bold" text-anchor="end" fill="#111" stroke="#111" stroke-width="0.05" >&#8722;6</text>
<text x="385.2" y="798.3" font-family="'Liberation Serif', serif" font-size="7.2" font-weight="bold" text-anchor="end" fill="#111" stroke="#111" stroke-width="0.05" >&#8722;8</text>
<text x="385.2" y="812.8" font-family="'Liberation Serif', serif" font-size="7.2" font-weight="bold" text-anchor="end" fill="#111" stroke="#111" stroke-width="0.05" >&#8722;10</text>
<text x="385.2" y="827.3" font-family="'Liberation Serif', serif" font-size="7.2" font-weight="bold" text-anchor="end" fill="#111" stroke="#111" stroke-width="0.05" >&#8722;12</text>
<text x="459.5" y="843.5" font-family="'Liberation Serif', serif" font-size="7.4" font-weight="bold" text-anchor="middle" fill="#111" stroke="#111" stroke-width="0.05"  textLength="15.3" lengthAdjust="spacingAndGlyphs">Z (&#197;)</text>
<text transform="translate(372.3,766.9) rotate(-90)" font-family="'Liberation Serif', serif" font-size="8.0" font-weight="bold" text-anchor="middle" fill="#111" stroke="#111" stroke-width="0.05" textLength="45.3" lengthAdjust="spacingAndGlyphs">V Potential (eV)</text>
<line x1="365.4" y1="789.3" x2="365.4" y2="785.2" stroke="#111" stroke-width="0.72"/>
<line x1="389.2" y1="771.7" x2="539.6" y2="771.7" stroke="#9a9a9a" stroke-width="1.0" stroke-dasharray="1.5 1.7" stroke-dashoffset="0"/>
<path d="M389.2 757.2 L389.4 757.8 L389.5 758.6 L389.7 759.6 L389.9 760.6 L390 761.8 L390.2 763 L390.4 764.4 L390.5 766.2 L390.7 768.3 L390.9 771.5 L391 775.8 L391.2 780.2 L391.4 785.2 L391.5 789.6 L391.7 791.6 L391.9 793 L392 794 L392.2 794.9 L392.4 795.5 L392.5 796.1 L392.7 796.5 L392.9 796.9 L393 797.2 L393.2 797.5 L393.4 797.9 L393.5 798.3 L393.7 798.9 L393.9 799.6 L394.1 800.3 L394.2 801.2 L394.4 802.3 L394.6 803.6 L394.7 805.8 L394.9 809.6 L395.1 812.2 L395.2 811.6 L395.4 808.5 L395.6 804.1 L395.7 799.3 L395.9 793.2 L396.1 785.7 L396.2 778.1 L396.4 771.2 L396.6 764.1 L396.7 757.5 L396.9 752.1 L397.1 747.8 L397.2 743.9 L397.4 740.9 L397.6 738.8 L397.7 737 L397.9 735.6 L398.1 734.5 L398.2 733.9 L398.4 733.5 L398.6 733.1 L398.7 732.8 L398.9 732.5 L399.1 732.3 L399.2 732.1 L399.4 732 L399.6 732 L399.7 732 L399.9 731.9 L400.1 731.9 L400.2 731.9 L400.4 731.9 L400.6 731.9 L400.7 731.8 L400.9 731.8 L401.1 731.8 L401.2 731.8 L401.4 731.8 L401.6 731.8 L401.7 731.8 L401.9 731.8 L402.1 731.8 L402.2 731.8 L402.4 731.8 L402.6 731.8 L402.8 731.8 L402.9 731.8 L403.1 731.8 L403.3 731.8 L403.4 731.8 L403.6 731.8 L403.8 731.8 L403.9 731.8 L404.1 731.8 L404.3 731.8 L404.4 731.8 L404.6 731.8 L404.8 731.8 L404.9 731.8 L405.1 731.8 L405.3 731.8 L405.4 731.8 L405.6 731.8 L405.8 731.8 L405.9 731.8 L406.1 731.8 L406.3 731.8 L406.4 731.8 L406.6 731.8 L406.8 731.8 L406.9 731.8 L407.1 731.8 L407.3 731.8 L407.4 731.8 L407.6 731.8 L407.8 731.8 L407.9 731.8 L408.1 731.8 L408.3 731.8 L408.4 731.8 L408.6 731.8 L408.8 731.8 L408.9 731.8 L409.1 731.8 L409.3 731.8 L409.4 731.8 L409.6 731.8 L409.8 731.8 L409.9 731.8 L410.1 731.8 L410.3 731.8 L410.4 731.8 L410.6 731.8 L410.8 731.8 L410.9 731.8 L411.1 731.8 L411.3 731.8 L411.5 731.8 L411.6 731.8 L411.8 731.8 L412 731.8 L412.1 731.8 L412.3 731.8 L412.5 731.8 L412.6 731.8 L412.8 731.8 L413 731.8 L413.1 731.8 L413.3 731.8 L413.5 731.8 L413.6 731.8 L413.8 731.8 L414 731.8 L414.1 731.8 L414.3 731.8 L414.5 731.8 L414.6 731.8 L414.8 731.8 L415 731.8 L415.1 731.8 L415.3 731.8 L415.5 731.8 L415.6 731.8 L415.8 731.8 L416 731.8 L416.1 731.8 L416.3 731.8 L416.5 731.8 L416.6 731.8 L416.8 731.8 L417 731.8 L417.1 731.8 L417.3 731.8 L417.5 731.8 L417.6 731.8 L417.8 731.8 L418 731.8 L418.1 731.8 L418.3 731.8 L418.5 731.8 L418.6 731.8 L418.8 731.8 L419 731.8 L419.1 731.8 L419.3 731.8 L419.5 731.8 L419.6 731.8 L419.8 731.8 L420 731.8 L420.1 731.8 L420.3 731.8 L420.5 731.8 L420.7 731.8 L420.8 731.8 L421 731.8 L421.2 731.8 L421.3 731.8 L421.5 731.8 L421.7 731.8 L421.8 731.8 L422 731.8 L422.2 731.8 L422.3 731.8 L422.5 731.8 L422.7 731.8 L422.8 731.8 L423 731.8 L423.2 731.8 L423.3 731.8 L423.5 731.8 L423.7 731.8 L423.8 731.8 L424 731.8 L424.2 731.8 L424.3 731.8 L424.5 731.8 L424.7 731.8 L424.8 731.8 L425 731.8 L425.2 731.8 L425.3 731.8 L425.5 731.8 L425.7 731.8 L425.8 731.8 L426 731.8 L426.2 731.8 L426.3 731.8 L426.5 731.8 L426.7 731.8 L426.8 731.8 L427 731.8 L427.2 731.8 L427.3 731.8 L427.5 731.8 L427.7 731.8 L427.8 731.8 L428 731.8 L428.2 731.8 L428.3 731.8 L428.5 731.8 L428.7 731.8 L428.8 731.8 L429 731.8 L429.2 731.8 L429.4 731.8 L429.5 731.8 L429.7 731.8 L429.9 731.8 L430 731.8 L430.2 731.8 L430.4 731.8 L430.5 731.8 L430.7 731.8 L430.9 731.8 L431 731.8 L431.2 731.8 L431.4 731.8 L431.5 731.8 L431.7 731.8 L431.9 731.8 L432 731.8 L432.2 731.8 L432.4 731.8 L432.5 731.8 L432.7 731.8 L432.9 731.8 L433 731.8 L433.2 731.8 L433.4 731.8 L433.5 731.8 L433.7 731.8 L433.9 731.8 L434 731.8 L434.2 731.8 L434.4 731.8 L434.5 731.8 L434.7 731.8 L434.9 731.8 L435 731.8 L435.2 731.8 L435.4 731.8 L435.5 731.8 L435.7 731.8 L435.9 731.8 L436 731.8 L436.2 731.8 L436.4 731.8 L436.5 731.8 L436.7 731.8 L436.9 731.8 L437 731.8 L437.2 731.8 L437.4 731.8 L437.5 731.8 L437.7 731.8 L437.9 731.8 L438.1 731.8 L438.2 731.8 L438.4 731.8 L438.6 731.8 L438.7 731.8 L438.9 731.8 L439.1 731.8 L439.2 731.8 L439.4 731.8 L439.6 731.8 L439.7 731.8 L439.9 731.8 L440.1 731.8 L440.2 731.8 L440.4 731.8 L440.6 731.8 L440.7 731.8 L440.9 731.8 L441.1 731.8 L441.2 731.8 L441.4 731.8 L441.6 731.8 L441.7 731.8 L441.9 731.8 L442.1 731.8 L442.2 731.8 L442.4 731.8 L442.6 731.8 L442.7 731.8 L442.9 731.8 L443.1 731.8 L443.2 731.8 L443.4 731.8 L443.6 731.8 L443.7 731.8 L443.9 731.8 L444.1 731.8 L444.2 731.8 L444.4 731.8 L444.6 731.8 L444.7 731.8 L444.9 731.8 L445.1 731.8 L445.2 731.8 L445.4 731.8 L445.6 731.8 L445.7 731.8 L445.9 731.8 L446.1 731.8 L446.2 731.8 L446.4 731.8 L446.6 731.8 L446.8 731.8 L446.9 731.8 L447.1 731.8 L447.3 731.8 L447.4 731.8 L447.6 731.8 L447.8 731.8 L447.9 731.8 L448.1 731.8 L448.3 731.8 L448.4 731.8 L448.6 731.8 L448.8 731.8 L448.9 731.8 L449.1 731.8 L449.3 731.8 L449.4 731.8 L449.6 731.8 L449.8 731.8 L449.9 731.8 L450.1 731.8 L450.3 731.8 L450.4 731.8 L450.6 731.8 L450.8 731.8 L450.9 731.8 L451.1 731.8 L451.3 731.8 L451.4 731.8 L451.6 731.8 L451.8 731.8 L451.9 731.8 L452.1 731.8 L452.3 731.8 L452.4 731.8 L452.6 731.8 L452.8 731.8 L452.9 731.8 L453.1 731.8 L453.3 731.8 L453.4 731.8 L453.6 731.8 L453.8 731.8 L453.9 731.8 L454.1 731.8 L454.3 731.8 L454.4 731.8 L454.6 731.8 L454.8 731.8 L454.9 731.8 L455.1 731.8 L455.3 731.8 L455.4 731.8 L455.6 731.8 L455.8 731.8 L456 731.8 L456.1 731.8 L456.3 731.8 L456.5 731.8 L456.6 731.8 L456.8 731.8 L457 731.8 L457.1 731.8 L457.3 731.8 L457.5 731.8 L457.6 731.8 L457.8 731.8 L458 731.8 L458.1 731.8 L458.3 731.8 L458.5 731.8 L458.6 731.8 L458.8 731.8 L459 731.8 L459.1 731.8 L459.3 731.8 L459.5 731.8 L459.6 731.8 L459.8 731.8 L460 731.8 L460.1 731.8 L460.3 731.8 L460.5 731.8 L460.6 731.8 L460.8 731.8 L461 731.8 L461.1 731.8 L461.3 731.8 L461.5 731.8 L461.6 731.8 L461.8 731.8 L462 731.8 L462.1 731.8 L462.3 731.8 L462.5 731.8 L462.6 731.8 L462.8 731.8 L463 731.8 L463.1 731.8 L463.3 731.8 L463.5 731.8 L463.6 731.8 L463.8 731.8 L464 731.8 L464.1 731.8 L464.3 731.8 L464.5 731.8 L464.7 731.8 L464.8 731.8 L465 731.8 L465.2 731.8 L465.3 731.8 L465.5 731.8 L465.7 731.8 L465.8 731.8 L466 731.8 L466.2 731.8 L466.3 731.8 L466.5 731.8 L466.7 731.8 L466.8 731.8 L467 731.8 L467.2 731.8 L467.3 731.8 L467.5 731.8 L467.7 731.8 L467.8 731.8 L468 731.8 L468.2 731.8 L468.3 731.8 L468.5 731.8 L468.7 731.8 L468.8 731.8 L469 731.8 L469.2 731.8 L469.3 731.8 L469.5 731.8 L469.7 731.8 L469.8 731.8 L470 731.8 L470.2 731.8 L470.3 731.8 L470.5 731.8 L470.7 731.8 L470.8 731.8 L471 731.8 L471.2 731.8 L471.3 731.8 L471.5 731.8 L471.7 731.8 L471.8 731.8 L472 731.8 L472.2 731.8 L472.3 731.8 L472.5 731.8 L472.7 731.8 L472.8 731.8 L473 731.8 L473.2 731.8 L473.4 731.8 L473.5 731.8 L473.7 731.8 L473.9 731.8 L474 731.8 L474.2 731.8 L474.4 731.8 L474.5 731.8 L474.7 731.8 L474.9 731.8 L475 731.8 L475.2 731.8 L475.4 731.8 L475.5 731.8 L475.7 731.8 L475.9 731.8 L476 731.8 L476.2 731.8 L476.4 731.8 L476.5 731.8 L476.7 731.8 L476.9 731.8 L477 731.8 L477.2 731.8 L477.4 731.8 L477.5 731.8 L477.7 731.8 L477.9 731.8 L478 731.8 L478.2 731.8 L478.4 731.8 L478.5 731.8 L478.7 731.8 L478.9 731.8 L479 731.8 L479.2 731.8 L479.4 731.8 L479.5 731.8 L479.7 731.8 L479.9 731.8 L480 731.8 L480.2 731.8 L480.4 731.8 L480.5 731.8 L480.7 731.8 L480.9 731.8 L481 731.8 L481.2 731.8 L481.4 731.8 L481.5 731.8 L481.7 731.8 L481.9 731.8 L482 731.8 L482.2 731.8 L482.4 731.8 L482.6 731.8 L482.7 731.8 L482.9 731.8 L483.1 731.8 L483.2 731.8 L483.4 731.8 L483.6 731.8 L483.7 731.8 L483.9 731.8 L484.1 731.8 L484.2 731.8 L484.4 731.8 L484.6 731.8 L484.7 731.8 L484.9 731.8 L485.1 731.8 L485.2 731.8 L485.4 731.8 L485.6 731.8 L485.7 731.8 L485.9 731.8 L486.1 731.8 L486.2 731.8 L486.4 731.8 L486.6 731.8 L486.7 731.8 L486.9 731.8 L487.1 731.8 L487.2 731.8 L487.4 731.8 L487.6 731.8 L487.7 731.8 L487.9 731.8 L488.1 731.8 L488.2 731.8 L488.4 731.8 L488.6 731.8 L488.7 731.8 L488.9 731.8 L489.1 731.8 L489.2 731.8 L489.4 731.8 L489.6 731.8 L489.7 731.8 L489.9 731.8 L490.1 731.8 L490.2 731.8 L490.4 731.8 L490.6 731.8 L490.7 731.8 L490.9 731.8 L491.1 731.8 L491.3 731.8 L491.4 731.8 L491.6 731.8 L491.8 731.8 L491.9 731.8 L492.1 731.8 L492.3 731.8 L492.4 731.8 L492.6 731.8 L492.8 731.8 L492.9 731.8 L493.1 731.8 L493.3 731.8 L493.4 731.8 L493.6 731.8 L493.8 731.8 L493.9 731.8 L494.1 731.8 L494.3 731.8 L494.4 731.8 L494.6 731.8 L494.8 731.8 L494.9 731.8 L495.1 731.8 L495.3 731.8 L495.4 731.8 L495.6 731.8 L495.8 731.8 L495.9 731.8 L496.1 731.8 L496.3 731.8 L496.4 731.8 L496.6 731.8 L496.8 731.8 L496.9 731.8 L497.1 731.8 L497.3 731.8 L497.4 731.8 L497.6 731.8 L497.8 731.8 L497.9 731.8 L498.1 731.8 L498.3 731.8 L498.4 731.8 L498.6 731.8 L498.8 731.8 L498.9 731.8 L499.1 731.8 L499.3 731.8 L499.4 731.8 L499.6 731.8 L499.8 731.8 L500 731.8 L500.1 731.8 L500.3 731.8 L500.5 731.8 L500.6 731.8 L500.8 731.8 L501 731.8 L501.1 731.8 L501.3 731.8 L501.5 731.8 L501.6 731.8 L501.8 731.8 L502 731.8 L502.1 731.8 L502.3 731.8 L502.5 731.8 L502.6 731.8 L502.8 731.8 L503 731.8 L503.1 731.8 L503.3 731.8 L503.5 731.8 L503.6 731.8 L503.8 731.8 L504 731.8 L504.1 731.8 L504.3 731.8 L504.5 731.8 L504.6 731.8 L504.8 731.8 L505 731.8 L505.1 731.8 L505.3 731.8 L505.5 731.8 L505.6 731.8 L505.8 731.8 L506 731.8 L506.1 731.8 L506.3 731.8 L506.5 731.8 L506.6 731.8 L506.8 731.8 L507 731.8 L507.1 731.8 L507.3 731.8 L507.5 731.8 L507.6 731.8 L507.8 731.8 L508 731.8 L508.1 731.8 L508.3 731.8 L508.5 731.8 L508.7 731.8 L508.8 731.8 L509 731.8 L509.2 731.8 L509.3 731.8 L509.5 731.8 L509.7 731.8 L509.8 731.8 L510 731.8 L510.2 731.8 L510.3 731.8 L510.5 731.8 L510.7 731.8 L510.8 731.8 L511 731.8 L511.2 731.8 L511.3 731.8 L511.5 731.8 L511.7 731.8 L511.8 731.8 L512 731.8 L512.2 731.8 L512.3 731.8 L512.5 731.8 L512.7 731.8 L512.8 731.8 L513 731.8 L513.2 731.8 L513.3 731.8 L513.5 731.8 L513.7 731.8 L513.8 731.8 L514 731.8 L514.2 731.8 L514.3 731.8 L514.5 731.8 L514.7 731.8 L514.8 731.8 L515 731.8 L515.2 731.8 L515.3 731.8 L515.5 731.8 L515.7 731.8 L515.8 731.8 L516 731.8 L516.2 731.8 L516.3 731.8 L516.5 731.8 L516.7 731.8 L516.8 731.8 L517 731.8 L517.2 731.8 L517.3 731.8 L517.5 731.8 L517.7 731.8 L517.9 731.8 L518 731.8 L518.2 731.8 L518.4 731.8 L518.5 731.8 L518.7 731.8 L518.9 731.8 L519 731.8 L519.2 731.8 L519.4 731.8 L519.5 731.8 L519.7 731.8 L519.9 731.8 L520 731.8 L520.2 731.8 L520.4 731.8 L520.5 731.8 L520.7 731.8 L520.9 731.8 L521 731.8 L521.2 731.8 L521.4 731.8 L521.5 731.8 L521.7 731.8 L521.9 731.8 L522 731.8 L522.2 731.8 L522.4 731.8 L522.5 731.8 L522.7 731.8 L522.9 731.8 L523 731.8 L523.2 731.8 L523.4 731.8 L523.5 731.8 L523.7 731.8 L523.9 731.8 L524 731.8 L524.2 731.8 L524.4 731.8 L524.5 731.8 L524.7 731.8 L524.9 731.8 L525 731.8 L525.2 731.8 L525.4 731.8 L525.5 731.8 L525.7 731.8 L525.9 731.8 L526 731.8 L526.2 731.8 L526.4 731.8 L526.6 731.8 L526.7 731.8 L526.9 731.8 L527.1 731.8 L527.2 731.8 L527.4 731.8 L527.6 731.8 L527.7 731.8 L527.9 731.8 L528.1 731.8 L528.2 731.9 L528.4 731.9 L528.6 731.9 L528.7 731.9 L528.9 731.9 L529.1 732 L529.2 732 L529.4 732 L529.6 732.1 L529.7 732.3 L529.9 732.5 L530.1 732.8 L530.2 733.1 L530.4 733.5 L530.6 733.9 L530.7 734.5 L530.9 735.6 L531.1 737 L531.2 738.8 L531.4 740.9 L531.6 743.9 L531.7 747.8 L531.9 752.1 L532.1 757.5 L532.2 764.1 L532.4 771.2 L532.6 778.1 L532.7 785.7 L532.9 793.2 L533.1 799.3 L533.2 804.1 L533.4 808.5 L533.6 811.6 L533.7 812.2 L533.9 809.6 L534.1 805.8 L534.2 803.6 L534.4 802.3 L534.6 801.2 L534.7 800.3 L534.9 799.6 L535.1 798.9 L535.3 798.3 L535.4 797.9 L535.6 797.5 L535.8 797.2 L535.9 796.9 L536.1 796.5 L536.3 796.1 L536.4 795.5 L536.6 794.9 L536.8 794 L536.9 793 L537.1 791.6 L537.3 789.6 L537.4 785.2 L537.6 780.2 L537.8 775.8 L537.9 771.5 L538.1 768.3 L538.3 766.2 L538.4 764.4 L538.6 763 L538.8 761.8 L538.9 760.6 L539.1 759.6 L539.3 758.6 L539.4 757.8 L539.6 757.2" stroke="#1e9cf0" stroke-width="1.5" fill="none"/>
<line x1="489.5" y1="721.9" x2="507.5" y2="721.9" stroke="#1e9cf0" stroke-width="1.1"/>
<text x="509.1" y="724.2" font-family="'Liberation Serif', serif" font-size="6.7" font-weight="bold" text-anchor="start" fill="#111" stroke="#111" stroke-width="0.05"  textLength="27.8" lengthAdjust="spacingAndGlyphs">O_GdHO</text>
<text x="438.2" y="726.3" font-family="'Liberation Serif', serif" font-size="6.7" font-weight="bold" text-anchor="start" fill="#111" stroke="#111" stroke-width="0.05">E<tspan font-size="5.4" dy="2">V</tspan><tspan dy="-2"> = 0.824</tspan></text>
<text x="437.2" y="779.3" font-family="'Liberation Serif', serif" font-size="6.7" font-weight="bold" text-anchor="start" fill="#111" stroke="#111" stroke-width="0.05">E<tspan font-size="5.4" dy="2">f</tspan><tspan dy="-2"> = -4.668</tspan></text>
<text x="435" y="810.9" font-family="'Liberation Serif', serif" font-size="6.7" font-weight="bold" text-anchor="start" fill="#111" stroke="#111" stroke-width="0.05" >&#934; = 5.492 eV</text>
</svg>
</body></html>
